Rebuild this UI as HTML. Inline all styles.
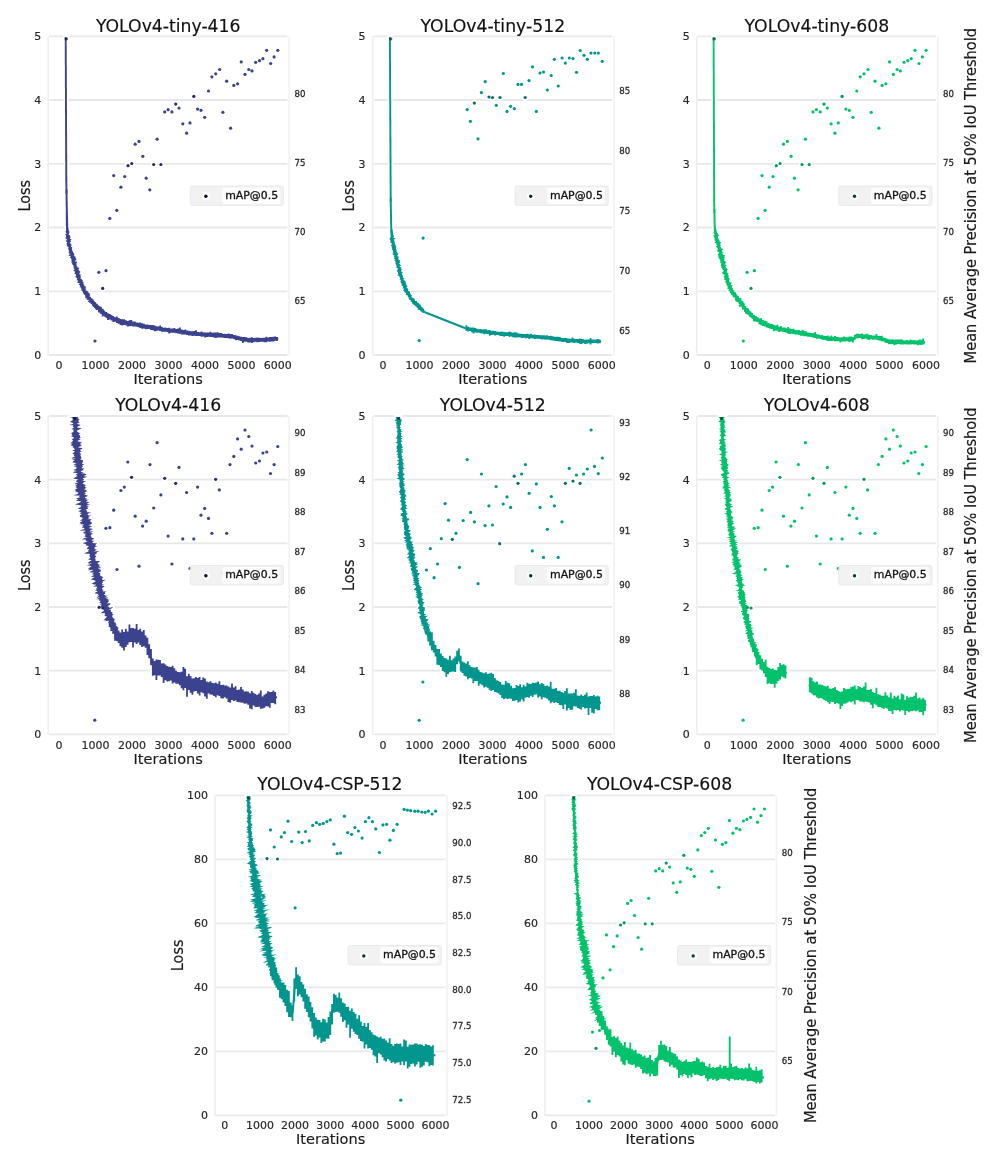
<!DOCTYPE html>
<html><head><meta charset="utf-8"><title>YOLOv4 training curves</title>
<style>html,body{margin:0;padding:0;background:#fff;} svg{display:block;}</style></head>
<body>
<svg width="1004" height="1163" viewBox="0 0 1004 1163">
<rect width="1004" height="1163" fill="#ffffff"/>
<g>
<line x1="49.2" y1="355.0" x2="287.4" y2="355.0" stroke="#e8e8e8" stroke-width="1.8"/>
<text transform="translate(41.2,358.8) scale(1.05,1)" font-size="10.5" text-anchor="end" fill="#262626" font-weight="normal" font-family="'DejaVu Sans', 'Liberation Sans', sans-serif" stroke="#262626" stroke-width="0.15">0</text>
<line x1="49.2" y1="291.3" x2="287.4" y2="291.3" stroke="#e8e8e8" stroke-width="1.8"/>
<text transform="translate(41.2,295.1) scale(1.05,1)" font-size="10.5" text-anchor="end" fill="#262626" font-weight="normal" font-family="'DejaVu Sans', 'Liberation Sans', sans-serif" stroke="#262626" stroke-width="0.15">1</text>
<line x1="49.2" y1="227.5" x2="287.4" y2="227.5" stroke="#e8e8e8" stroke-width="1.8"/>
<text transform="translate(41.2,231.3) scale(1.05,1)" font-size="10.5" text-anchor="end" fill="#262626" font-weight="normal" font-family="'DejaVu Sans', 'Liberation Sans', sans-serif" stroke="#262626" stroke-width="0.15">2</text>
<line x1="49.2" y1="163.8" x2="287.4" y2="163.8" stroke="#e8e8e8" stroke-width="1.8"/>
<text transform="translate(41.2,167.6) scale(1.05,1)" font-size="10.5" text-anchor="end" fill="#262626" font-weight="normal" font-family="'DejaVu Sans', 'Liberation Sans', sans-serif" stroke="#262626" stroke-width="0.15">3</text>
<line x1="49.2" y1="100.0" x2="287.4" y2="100.0" stroke="#e8e8e8" stroke-width="1.8"/>
<text transform="translate(41.2,103.8) scale(1.05,1)" font-size="10.5" text-anchor="end" fill="#262626" font-weight="normal" font-family="'DejaVu Sans', 'Liberation Sans', sans-serif" stroke="#262626" stroke-width="0.15">4</text>
<line x1="49.2" y1="36.3" x2="287.4" y2="36.3" stroke="#e8e8e8" stroke-width="1.8"/>
<text transform="translate(41.2,40.1) scale(1.05,1)" font-size="10.5" text-anchor="end" fill="#262626" font-weight="normal" font-family="'DejaVu Sans', 'Liberation Sans', sans-serif" stroke="#262626" stroke-width="0.15">5</text>
<line x1="48.2" y1="36.3" x2="48.2" y2="355.5" stroke="#eeeeee" stroke-width="1.6"/>
<line x1="289.2" y1="36.3" x2="289.2" y2="355.5" stroke="#f3f3f3" stroke-width="1.8"/>
<text transform="translate(59.0,369.2) scale(1.05,1)" font-size="10.5" text-anchor="middle" fill="#262626" font-weight="normal" font-family="'DejaVu Sans', 'Liberation Sans', sans-serif" stroke="#262626" stroke-width="0.15">0</text>
<text transform="translate(95.5,369.2) scale(1.05,1)" font-size="10.5" text-anchor="middle" fill="#262626" font-weight="normal" font-family="'DejaVu Sans', 'Liberation Sans', sans-serif" stroke="#262626" stroke-width="0.15">1000</text>
<text transform="translate(131.9,369.2) scale(1.05,1)" font-size="10.5" text-anchor="middle" fill="#262626" font-weight="normal" font-family="'DejaVu Sans', 'Liberation Sans', sans-serif" stroke="#262626" stroke-width="0.15">2000</text>
<text transform="translate(168.4,369.2) scale(1.05,1)" font-size="10.5" text-anchor="middle" fill="#262626" font-weight="normal" font-family="'DejaVu Sans', 'Liberation Sans', sans-serif" stroke="#262626" stroke-width="0.15">3000</text>
<text transform="translate(204.9,369.2) scale(1.05,1)" font-size="10.5" text-anchor="middle" fill="#262626" font-weight="normal" font-family="'DejaVu Sans', 'Liberation Sans', sans-serif" stroke="#262626" stroke-width="0.15">4000</text>
<text transform="translate(241.4,369.2) scale(1.05,1)" font-size="10.5" text-anchor="middle" fill="#262626" font-weight="normal" font-family="'DejaVu Sans', 'Liberation Sans', sans-serif" stroke="#262626" stroke-width="0.15">5000</text>
<text transform="translate(277.8,369.2) scale(1.05,1)" font-size="10.5" text-anchor="middle" fill="#262626" font-weight="normal" font-family="'DejaVu Sans', 'Liberation Sans', sans-serif" stroke="#262626" stroke-width="0.15">6000</text>
<text transform="translate(168.2,384.3) scale(1.01,1)" font-size="14.4" text-anchor="middle" fill="#1a1a1a" font-weight="normal" font-family="'DejaVu Sans', 'Liberation Sans', sans-serif" stroke="#1a1a1a" stroke-width="0.15">Iterations</text>
<text transform="translate(168.2,31.7) scale(1.015,1)" font-size="17.0" text-anchor="middle" fill="#111111" font-weight="normal" font-family="'DejaVu Sans', 'Liberation Sans', sans-serif" stroke="#111111" stroke-width="0.15">YOLOv4-tiny-416</text>
<text transform="translate(29.9,195.7) rotate(-90) scale(1,1.05)" font-size="14.4" text-anchor="middle" fill="#1a1a1a" font-family="'DejaVu Sans', 'Liberation Sans', sans-serif" stroke="#1a1a1a" stroke-width="0.15">Loss</text>
<text transform="translate(294.4,96.9) scale(0.9,1)" font-size="9.6" text-anchor="start" fill="#2a2a2a" font-weight="normal" font-family="'DejaVu Sans', 'Liberation Sans', sans-serif" stroke="#2a2a2a" stroke-width="0.3">80</text>
<text transform="translate(294.4,165.9) scale(0.9,1)" font-size="9.6" text-anchor="start" fill="#2a2a2a" font-weight="normal" font-family="'DejaVu Sans', 'Liberation Sans', sans-serif" stroke="#2a2a2a" stroke-width="0.3">75</text>
<text transform="translate(294.4,235.0) scale(0.9,1)" font-size="9.6" text-anchor="start" fill="#2a2a2a" font-weight="normal" font-family="'DejaVu Sans', 'Liberation Sans', sans-serif" stroke="#2a2a2a" stroke-width="0.3">70</text>
<text transform="translate(294.4,304.1) scale(0.9,1)" font-size="9.6" text-anchor="start" fill="#2a2a2a" font-weight="normal" font-family="'DejaVu Sans', 'Liberation Sans', sans-serif" stroke="#2a2a2a" stroke-width="0.3">65</text>
<clipPath id="c1"><rect x="48.2" y="37.2" width="240.0" height="317.8"/></clipPath>
<g clip-path="url(#c1)">
<circle cx="95.0" cy="341.0" r="3.2" fill="#fff"/>
<circle cx="98.8" cy="272.3" r="3.2" fill="#fff"/>
<circle cx="102.7" cy="288.4" r="3.2" fill="#fff"/>
<circle cx="106.0" cy="270.7" r="3.2" fill="#fff"/>
<circle cx="109.8" cy="218.4" r="3.2" fill="#fff"/>
<circle cx="113.7" cy="175.6" r="3.2" fill="#fff"/>
<circle cx="116.8" cy="210.3" r="3.2" fill="#fff"/>
<circle cx="120.9" cy="187.2" r="3.2" fill="#fff"/>
<circle cx="124.7" cy="176.6" r="3.2" fill="#fff"/>
<circle cx="128.0" cy="165.7" r="3.2" fill="#fff"/>
<circle cx="131.8" cy="163.5" r="3.2" fill="#fff"/>
<circle cx="135.2" cy="144.2" r="3.2" fill="#fff"/>
<circle cx="139.0" cy="141.4" r="3.2" fill="#fff"/>
<circle cx="142.8" cy="156.3" r="3.2" fill="#fff"/>
<circle cx="146.2" cy="178.2" r="3.2" fill="#fff"/>
<circle cx="149.8" cy="189.8" r="3.2" fill="#fff"/>
<circle cx="153.7" cy="164.5" r="3.2" fill="#fff"/>
<circle cx="157.1" cy="139.2" r="3.2" fill="#fff"/>
<circle cx="160.9" cy="164.5" r="3.2" fill="#fff"/>
<circle cx="164.7" cy="111.9" r="3.2" fill="#fff"/>
<circle cx="168.1" cy="109.7" r="3.2" fill="#fff"/>
<circle cx="171.9" cy="111.9" r="3.2" fill="#fff"/>
<circle cx="175.7" cy="104.1" r="3.2" fill="#fff"/>
<circle cx="179.0" cy="108.1" r="3.2" fill="#fff"/>
<circle cx="182.8" cy="123.8" r="3.2" fill="#fff"/>
<circle cx="186.6" cy="133.2" r="3.2" fill="#fff"/>
<circle cx="190.0" cy="122.9" r="3.2" fill="#fff"/>
<circle cx="193.8" cy="96.4" r="3.2" fill="#fff"/>
<circle cx="197.6" cy="109.1" r="3.2" fill="#fff"/>
<circle cx="201.0" cy="110.3" r="3.2" fill="#fff"/>
<circle cx="204.7" cy="117.3" r="3.2" fill="#fff"/>
<circle cx="208.5" cy="91.0" r="3.2" fill="#fff"/>
<circle cx="211.9" cy="76.8" r="3.2" fill="#fff"/>
<circle cx="215.7" cy="73.8" r="3.2" fill="#fff"/>
<circle cx="219.7" cy="69.5" r="3.2" fill="#fff"/>
<circle cx="222.9" cy="112.3" r="3.2" fill="#fff"/>
<circle cx="226.7" cy="81.2" r="3.2" fill="#fff"/>
<circle cx="230.6" cy="128.2" r="3.2" fill="#fff"/>
<circle cx="233.8" cy="85.4" r="3.2" fill="#fff"/>
<circle cx="237.6" cy="83.8" r="3.2" fill="#fff"/>
<circle cx="241.2" cy="61.9" r="3.2" fill="#fff"/>
<circle cx="245.0" cy="74.4" r="3.2" fill="#fff"/>
<circle cx="248.8" cy="69.5" r="3.2" fill="#fff"/>
<circle cx="252.0" cy="70.9" r="3.2" fill="#fff"/>
<circle cx="255.7" cy="62.3" r="3.2" fill="#fff"/>
<circle cx="259.5" cy="60.7" r="3.2" fill="#fff"/>
<circle cx="262.9" cy="58.7" r="3.2" fill="#fff"/>
<circle cx="266.7" cy="50.3" r="3.2" fill="#fff"/>
<circle cx="270.7" cy="63.5" r="3.2" fill="#fff"/>
<circle cx="274.1" cy="56.9" r="3.2" fill="#fff"/>
<circle cx="277.8" cy="50.3" r="3.2" fill="#fff"/>
<defs><g id="band1">
<polygon points="64.7,20.0 64.7,21.1 64.7,21.4 64.7,22.1 64.7,22.8 64.7,23.5 64.7,24.2 64.7,24.9 64.7,25.6 64.7,26.3 64.7,27.0 64.7,27.7 64.7,28.4 64.7,29.1 64.7,29.8 64.7,30.5 64.7,31.2 64.7,31.9 64.7,32.6 64.7,33.3 64.7,34.0 64.7,34.7 64.7,35.4 64.7,36.1 64.7,36.8 64.7,37.5 64.7,38.2 64.7,39.0 64.7,39.7 64.8,40.4 64.8,41.1 64.8,41.8 64.8,42.5 64.8,43.2 64.8,43.9 64.8,44.6 64.8,45.3 64.8,46.0 64.8,46.7 64.8,47.4 64.8,48.1 64.8,48.8 64.8,49.5 64.8,50.2 64.8,50.9 64.8,51.6 64.8,52.3 64.8,53.0 64.8,53.7 64.8,54.4 64.8,55.1 64.8,55.8 64.8,56.5 64.8,57.2 64.8,57.9 64.8,58.6 64.8,59.3 64.8,60.0 64.8,60.7 64.8,61.4 64.8,62.1 64.8,62.8 64.8,63.5 64.8,64.2 64.9,64.9 64.9,65.6 64.9,66.3 64.9,67.0 64.9,67.7 64.9,68.4 64.9,69.1 64.9,69.8 64.9,70.5 64.9,71.2 64.9,71.9 64.9,72.6 64.9,73.3 64.9,74.0 64.9,74.7 64.9,75.4 64.9,76.1 64.9,76.8 64.9,77.5 64.9,78.2 64.9,79.0 64.9,79.7 64.9,80.4 64.9,81.1 64.9,81.8 64.9,82.5 64.9,83.2 64.9,83.9 64.9,84.6 64.9,85.3 64.9,86.0 64.9,86.7 64.9,87.4 64.9,88.1 65.0,88.8 65.0,89.5 65.0,90.2 65.0,90.9 65.0,91.6 65.0,92.3 65.0,93.0 65.0,93.7 65.0,94.4 65.0,95.1 65.0,95.8 65.0,96.5 65.0,97.2 65.0,97.9 65.0,98.6 65.0,99.3 65.0,100.0 65.0,100.7 65.0,101.4 65.0,102.1 65.0,102.8 65.0,103.5 65.0,104.2 65.0,104.9 65.0,105.6 65.0,106.3 65.0,107.0 65.0,107.7 65.0,108.4 65.0,109.1 65.0,109.8 65.0,110.5 65.0,111.2 65.0,111.9 65.0,112.6 65.1,113.3 65.1,114.0 65.1,114.7 65.1,115.4 65.1,116.1 65.1,116.8 65.1,117.5 65.1,118.2 65.1,119.0 65.1,119.7 65.1,120.4 65.1,121.1 65.1,121.8 65.1,122.5 65.1,123.2 65.1,123.9 65.1,124.6 65.1,125.3 65.1,126.0 65.1,126.7 65.1,127.4 65.1,128.1 65.1,128.8 65.1,129.5 65.1,130.2 65.1,130.9 65.1,131.6 65.1,132.3 65.1,133.0 65.1,133.7 65.1,134.4 65.1,135.1 65.1,135.8 65.1,136.5 65.2,137.2 65.2,137.9 65.2,138.6 65.2,139.3 65.2,140.0 65.2,140.7 65.2,141.4 65.2,142.1 65.2,142.8 65.2,143.5 65.2,144.2 65.2,144.9 65.2,145.6 65.2,146.3 65.2,147.0 65.2,147.7 65.2,148.4 65.2,149.1 65.2,149.8 65.2,150.5 65.2,151.2 65.2,151.9 65.2,152.6 65.2,153.3 65.2,154.0 65.2,154.7 65.2,155.4 65.2,156.1 65.2,156.8 65.2,157.5 65.2,158.2 65.2,159.0 65.2,159.7 65.2,160.4 65.2,161.1 65.3,161.8 65.3,162.5 65.3,163.2 65.3,163.9 65.3,164.6 65.3,165.3 65.3,166.0 65.3,166.7 65.3,167.4 65.3,168.1 65.3,168.8 65.3,169.5 65.3,170.2 65.3,170.9 65.3,171.6 65.3,172.3 65.3,173.0 65.3,173.7 65.3,174.4 65.3,175.1 65.3,175.8 65.3,176.5 65.3,177.2 65.3,177.9 65.3,178.6 65.3,179.3 65.3,180.0 65.3,180.7 65.4,181.4 65.4,182.1 65.4,182.8 65.4,183.5 65.4,184.2 65.4,184.9 65.4,185.6 65.4,186.3 65.4,187.0 65.5,187.7 65.5,188.5 65.5,189.2 65.5,189.9 65.5,190.6 65.5,191.3 65.5,192.0 65.5,192.7 65.5,193.4 65.6,194.1 65.6,194.8 65.6,195.5 65.6,196.2 65.6,196.9 65.6,197.6 65.6,198.3 65.6,199.0 65.6,199.7 65.7,200.4 65.7,201.1 65.7,201.8 65.7,202.5 65.7,203.2 65.7,203.9 65.7,204.6 65.7,205.3 65.7,206.0 65.8,206.7 65.8,207.4 65.8,208.1 65.8,208.8 65.8,209.5 65.8,210.2 65.8,210.9 65.8,211.6 65.8,212.4 65.8,213.1 65.8,213.8 65.8,214.5 65.8,215.2 65.8,215.9 65.8,216.6 65.8,217.3 65.8,218.0 65.8,218.7 65.8,219.4 65.8,220.1 65.8,220.8 65.8,221.5 65.9,222.2 65.9,222.9 65.8,223.6 65.8,224.3 65.9,225.0 65.9,225.7 65.9,226.4 66.1,227.1 65.9,227.9 66.1,228.6 66.0,229.4 65.9,230.1 66.2,230.8 65.4,231.6 65.9,232.3 66.0,233.0 66.7,233.7 64.9,234.6 66.1,235.2 66.0,235.9 66.2,236.6 65.7,237.4 65.2,238.2 66.5,238.8 66.8,239.5 66.6,240.3 65.4,241.1 66.7,241.7 67.7,242.4 66.2,243.4 67.1,244.0 66.6,244.9 66.9,245.7 67.3,246.3 68.0,246.9 68.8,247.5 68.2,248.4 68.0,249.2 68.9,249.7 68.7,250.5 69.5,251.0 68.2,252.2 69.1,252.7 69.0,253.4 70.5,253.8 68.3,255.2 68.9,255.7 71.1,255.9 70.3,256.8 69.7,257.7 70.8,258.1 71.2,258.8 71.5,259.4 71.8,260.1 71.0,261.0 71.9,261.5 71.0,262.5 72.5,262.8 71.7,263.8 72.4,264.3 72.8,264.9 73.7,265.4 73.1,266.3 74.1,266.8 73.5,267.7 73.7,268.4 74.7,268.8 74.5,269.7 73.0,271.0 74.6,271.2 75.2,271.8 74.7,272.8 74.4,273.7 75.5,274.1 76.0,274.7 76.2,275.4 75.4,276.5 75.4,277.3 76.3,277.7 77.5,278.1 76.8,279.1 76.9,279.9 77.6,280.5 78.1,281.1 77.5,282.1 77.6,282.9 79.5,282.9 79.7,283.6 78.5,284.9 79.9,285.1 79.7,286.0 80.0,286.6 80.7,287.1 80.5,287.9 81.5,288.3 81.1,289.3 82.1,289.6 81.2,290.8 82.6,291.0 82.5,291.9 83.0,292.5 83.3,293.2 83.7,293.9 84.2,294.5 84.8,295.0 85.7,295.2 85.2,296.4 86.3,296.5 86.0,297.6 85.4,298.8 87.4,298.3 86.4,299.8 88.0,299.7 89.0,299.9 87.9,301.5 88.8,301.9 89.1,302.7 90.5,302.5 90.6,303.4 90.9,304.1 91.9,304.2 92.2,304.9 92.5,305.6 93.2,305.9 93.0,307.1 94.1,307.0 94.3,307.8 94.9,308.2 95.2,308.9 95.7,309.4 96.3,309.8 97.1,310.1 98.1,310.1 98.1,311.1 98.3,312.0 98.7,312.7 99.7,312.6 100.5,312.8 100.5,313.9 101.6,313.7 101.9,314.4 101.9,315.5 101.7,317.0 103.9,315.6 104.2,316.5 105.3,316.3 105.8,316.9 106.1,317.9 107.4,317.1 107.8,317.9 108.4,318.2 109.0,318.5 110.0,318.1 110.4,319.0 111.1,319.2 111.5,319.9 112.4,319.6 113.0,320.2 113.7,320.3 114.3,321.0 115.1,320.9 115.8,321.1 116.6,321.1 117.2,321.3 117.9,321.7 118.6,321.8 119.3,322.0 120.0,322.2 120.6,322.4 121.3,322.6 122.0,322.8 122.7,323.0 123.3,323.3 124.0,323.6 124.7,323.7 125.3,323.9 126.1,324.2 126.8,324.3 127.6,324.4 128.4,324.5 129.1,324.6 129.9,324.6 130.5,324.7 131.2,324.7 131.9,325.0 132.6,325.1 133.3,325.2 134.0,325.2 134.7,325.5 135.4,325.6 136.1,325.8 136.8,325.8 137.5,326.0 138.2,326.2 138.9,326.4 139.6,326.5 140.3,326.6 141.0,326.7 141.7,326.8 142.4,327.1 143.1,327.2 143.8,327.4 144.6,327.4 145.3,327.6 146.0,327.8 146.7,327.9 147.4,327.9 148.1,328.2 148.8,328.2 149.5,328.3 150.3,328.3 151.0,328.6 151.7,328.7 152.4,328.8 153.1,328.8 153.8,329.2 154.5,329.2 155.2,329.3 155.9,329.4 156.6,329.5 157.3,329.7 158.0,329.8 158.7,330.1 159.4,330.1 160.2,330.2 160.9,330.3 161.6,330.5 162.3,330.5 163.0,330.8 163.7,330.8 164.4,331.0 165.2,330.9 165.9,331.0 166.6,331.2 167.3,331.3 168.0,331.4 168.7,331.5 169.4,331.4 170.1,331.6 170.8,331.8 171.5,331.8 172.2,331.9 172.9,331.9 173.6,332.0 174.3,332.2 175.0,332.3 175.7,332.3 176.4,332.5 177.1,332.5 177.8,332.6 178.5,332.7 179.2,332.9 179.9,332.9 180.6,333.0 181.3,333.2 182.0,333.3 182.8,333.2 183.5,333.3 184.2,333.4 184.9,333.4 185.6,333.6 186.3,333.8 187.0,333.8 187.7,333.9 188.4,334.1 189.1,334.2 189.8,334.2 190.5,334.4 191.2,334.3 191.9,334.4 192.6,334.6 193.3,334.7 194.0,334.8 194.7,334.8 195.4,334.9 196.1,335.0 196.9,335.1 197.6,335.1 198.3,335.3 199.0,335.3 199.7,335.4 200.5,335.3 201.2,335.4 201.9,335.5 202.6,335.6 203.3,335.6 204.0,335.8 204.7,335.7 205.4,335.6 206.1,335.9 206.8,335.9 207.5,335.9 208.2,335.9 209.0,335.9 209.7,336.1 210.4,336.1 211.1,336.2 211.8,336.1 212.5,336.2 213.2,336.3 213.9,336.3 214.6,336.4 215.3,336.6 216.0,336.6 216.7,336.5 217.4,336.7 218.1,336.6 218.8,336.7 219.5,336.7 220.2,336.9 221.0,336.8 221.7,336.9 222.4,336.9 223.1,337.0 223.8,337.0 224.5,337.1 225.2,337.2 225.9,337.2 226.6,337.3 227.3,337.2 228.0,337.4 228.7,337.3 229.4,337.4 230.1,337.5 230.7,337.6 231.4,337.6 232.1,337.8 232.7,338.0 233.4,338.1 234.2,338.2 234.8,338.5 235.5,338.8 236.3,338.8 237.0,339.0 237.7,339.2 238.4,339.4 239.2,339.5 239.9,339.8 240.6,339.9 241.3,340.0 242.0,340.2 242.7,340.3 243.4,340.3 244.1,340.3 244.8,340.5 245.5,340.6 246.2,340.7 247.0,340.8 247.7,340.9 248.4,341.1 249.2,341.0 249.9,341.0 250.6,341.1 251.3,340.9 252.0,340.9 252.8,341.1 253.5,341.0 254.2,341.0 254.9,341.1 255.6,341.0 256.3,341.0 257.0,341.1 257.7,341.0 258.4,341.0 259.1,341.0 259.8,341.1 260.5,341.0 261.2,341.1 262.0,341.1 262.7,340.9 263.4,341.0 264.1,341.0 264.8,341.0 265.6,340.9 266.3,340.9 267.1,340.9 267.8,340.8 268.5,340.6 269.2,340.4 270.0,340.4 270.7,340.3 271.4,340.4 272.1,340.3 272.9,340.1 273.5,340.0 274.2,339.9 274.9,339.9 275.6,339.9 276.3,340.1 276.6,340.1 277.9,340.6 278.5,338.3 277.2,337.7 276.7,337.7 275.8,337.6 274.9,337.5 274.1,337.5 273.3,337.6 272.6,337.7 271.8,337.8 271.1,337.9 270.4,337.9 269.7,338.2 269.0,338.3 268.2,338.2 267.5,338.3 266.8,338.4 266.1,338.5 265.4,338.7 264.8,338.6 264.1,338.6 263.4,338.6 262.7,338.5 262.0,338.6 261.2,338.5 260.5,338.6 259.8,338.7 259.1,338.6 258.4,338.6 257.7,338.6 257.0,338.6 256.3,338.5 255.6,338.7 254.9,338.6 254.2,338.7 253.5,338.6 252.8,338.6 252.0,338.7 251.3,338.6 250.6,338.7 249.9,338.6 249.3,338.5 248.6,338.6 247.9,338.5 247.2,338.4 246.6,338.2 245.9,338.2 245.2,338.1 244.5,338.1 243.8,337.9 243.1,337.7 242.4,337.7 241.7,337.6 241.0,337.4 240.3,337.4 239.6,337.3 239.0,337.1 238.3,336.9 237.6,336.7 236.9,336.5 236.1,336.4 235.4,336.2 234.7,335.9 234.0,335.9 233.3,335.7 232.6,335.3 231.8,335.3 231.0,335.2 230.3,335.0 229.6,335.0 228.9,335.0 228.2,334.8 227.5,334.9 226.8,334.8 226.0,334.8 225.3,334.8 224.6,334.7 223.9,334.6 223.2,334.7 222.5,334.6 221.8,334.4 221.1,334.6 220.4,334.4 219.7,334.3 219.0,334.3 218.3,334.3 217.6,334.2 216.9,334.2 216.2,334.3 215.5,334.2 214.8,333.9 214.1,334.0 213.4,333.8 212.7,333.9 212.0,333.7 211.2,333.8 210.5,333.6 209.8,333.5 209.1,333.6 208.4,333.5 207.7,333.6 207.0,333.5 206.3,333.5 205.6,333.4 204.9,333.3 204.2,333.3 203.5,333.2 202.7,333.2 202.0,333.1 201.3,333.1 200.6,333.0 199.9,333.0 199.2,332.9 198.5,332.8 197.8,332.8 197.1,332.7 196.4,332.6 195.7,332.5 195.0,332.4 194.3,332.3 193.6,332.3 192.9,332.2 192.2,332.1 191.5,331.9 190.8,331.8 190.1,331.8 189.4,331.8 188.7,331.7 188.0,331.5 187.3,331.4 186.6,331.4 185.9,331.3 185.2,331.2 184.5,331.0 183.8,331.0 183.1,330.8 182.4,330.8 181.7,330.7 181.0,330.6 180.2,330.6 179.5,330.4 178.8,330.4 178.1,330.2 177.4,330.2 176.7,330.1 176.0,330.0 175.3,329.8 174.6,329.7 173.9,329.7 173.2,329.5 172.5,329.5 171.8,329.4 171.1,329.5 170.4,329.2 169.7,329.2 169.0,329.1 168.3,329.0 167.6,328.8 166.8,328.9 166.2,328.8 165.5,328.6 164.8,328.6 164.1,328.4 163.4,328.3 162.7,328.2 162.0,328.0 161.3,327.9 160.6,327.9 159.9,327.7 159.1,327.6 158.4,327.5 157.7,327.3 157.0,327.3 156.3,327.2 155.6,326.9 154.9,326.8 154.2,326.8 153.5,326.7 152.8,326.4 152.1,326.3 151.4,326.2 150.6,326.1 149.9,326.0 149.2,325.9 148.5,325.7 147.8,325.5 147.1,325.6 146.4,325.3 145.7,325.2 145.0,325.2 144.3,325.0 143.6,324.8 142.9,324.6 142.2,324.6 141.5,324.4 140.8,324.3 140.1,324.2 139.4,324.0 138.7,323.9 138.0,323.7 137.3,323.5 136.6,323.3 135.9,323.2 135.2,323.1 134.5,323.0 133.8,322.8 133.1,322.6 132.3,322.5 131.6,322.4 130.8,322.3 130.1,322.3 129.3,322.1 128.6,322.2 127.9,322.1 127.3,322.0 126.6,321.9 126.0,321.5 125.4,321.3 124.7,321.3 124.0,321.0 123.4,320.7 122.7,320.6 122.0,320.3 121.3,320.2 120.7,319.8 120.0,319.7 119.3,319.6 118.6,319.4 118.0,319.0 117.3,318.8 116.6,318.7 115.9,318.7 115.4,318.0 114.8,317.9 114.2,317.6 113.9,316.6 113.2,316.6 112.7,315.9 111.8,316.2 111.1,315.8 110.8,314.8 109.8,315.4 109.3,314.7 108.5,314.9 107.8,314.7 107.9,313.0 107.4,312.7 106.7,312.8 106.2,312.4 105.6,312.3 104.9,312.0 105.1,310.8 104.2,310.7 104.1,309.7 103.3,309.5 101.8,310.2 101.4,309.6 102.1,307.8 101.4,307.6 101.1,306.8 100.1,307.0 99.1,307.0 98.3,306.8 99.2,304.9 97.5,305.6 97.6,304.5 97.4,303.7 96.4,303.7 95.9,303.2 95.9,302.2 95.0,302.1 94.5,301.6 94.0,301.1 93.8,300.4 93.2,300.1 93.7,298.9 91.8,299.6 92.2,298.5 90.7,298.7 91.2,297.5 90.8,296.9 89.5,297.0 89.7,296.0 90.5,294.6 89.2,294.6 89.8,293.3 89.1,293.0 87.6,293.1 88.2,291.9 88.2,291.1 86.0,291.7 85.7,291.1 85.4,290.5 85.3,289.8 86.5,288.5 84.5,288.6 86.4,287.0 85.6,286.6 84.3,286.3 84.3,285.6 84.4,284.7 83.0,284.5 83.4,283.6 83.6,282.7 83.4,282.0 82.6,281.6 82.6,280.8 82.6,280.1 81.3,279.8 81.4,279.0 80.4,278.6 80.6,277.8 81.3,276.7 80.4,276.3 80.5,275.4 80.9,274.5 79.4,274.3 79.2,273.5 80.2,272.4 80.4,271.5 79.4,271.1 79.0,270.5 78.6,269.8 78.5,269.1 79.2,268.2 79.2,267.5 77.1,267.4 77.7,266.5 76.1,266.2 76.7,265.3 76.6,264.6 75.9,264.1 77.0,263.0 77.0,262.3 76.9,261.6 74.8,261.4 75.5,260.5 76.6,259.5 76.4,258.8 75.6,258.3 75.5,257.6 75.5,256.8 74.9,256.3 73.5,255.9 74.6,254.9 74.1,254.3 74.0,253.6 73.7,252.9 73.0,252.3 72.1,251.8 71.8,251.1 72.5,250.2 72.2,249.5 72.0,248.8 71.8,248.1 72.5,247.1 70.7,246.9 70.6,246.2 71.9,245.1 71.4,244.5 70.9,243.9 70.5,243.4 70.1,242.8 70.2,242.0 71.4,241.2 70.2,240.6 71.8,239.7 70.5,239.1 69.7,238.5 70.5,237.7 70.2,237.0 70.3,236.2 70.2,235.5 68.8,234.9 68.7,234.2 69.1,233.4 69.1,232.7 69.7,231.9 69.1,231.3 69.0,230.5 68.4,229.9 68.8,229.1 68.4,228.4 68.3,227.7 68.3,227.1 68.3,226.4 68.1,225.7 68.3,225.0 68.2,224.3 68.2,223.6 68.2,222.9 68.1,222.2 68.1,221.5 68.1,220.8 68.1,220.0 68.1,219.3 68.1,218.6 68.0,217.9 68.0,217.2 68.0,216.5 68.0,215.8 68.0,215.1 67.9,214.4 67.9,213.7 67.9,213.0 67.9,212.3 67.9,211.6 67.8,210.9 67.8,210.2 67.8,209.5 67.8,208.8 67.8,208.1 67.8,207.4 67.7,206.7 67.7,206.0 67.7,205.3 67.7,204.6 67.7,203.9 67.7,203.2 67.7,202.5 67.7,201.8 67.6,201.1 67.6,200.4 67.6,199.7 67.6,199.0 67.6,198.3 67.6,197.6 67.6,196.9 67.6,196.2 67.5,195.4 67.5,194.7 67.5,194.0 67.5,193.3 67.5,192.6 67.5,191.9 67.5,191.2 67.5,190.5 67.4,189.8 67.4,189.1 67.4,188.4 67.4,187.7 67.4,187.0 67.4,186.3 67.4,185.6 67.4,184.9 67.3,184.2 67.3,183.5 67.3,182.8 67.3,182.1 67.3,181.4 67.3,180.7 67.3,180.0 67.3,179.3 67.3,178.6 67.3,177.9 67.3,177.2 67.3,176.5 67.3,175.8 67.2,175.1 67.2,174.4 67.2,173.7 67.2,173.0 67.2,172.3 67.2,171.6 67.2,170.9 67.2,170.2 67.2,169.5 67.2,168.8 67.2,168.1 67.2,167.4 67.2,166.7 67.2,166.0 67.2,165.3 67.2,164.6 67.2,163.9 67.2,163.2 67.2,162.5 67.2,161.8 67.2,161.0 67.2,160.3 67.2,159.6 67.2,158.9 67.2,158.2 67.2,157.5 67.2,156.8 67.2,156.1 67.2,155.4 67.2,154.7 67.2,154.0 67.1,153.3 67.1,152.6 67.1,151.9 67.1,151.2 67.1,150.5 67.1,149.8 67.1,149.1 67.1,148.4 67.1,147.7 67.1,147.0 67.1,146.3 67.1,145.6 67.1,144.9 67.1,144.2 67.1,143.5 67.1,142.8 67.1,142.1 67.1,141.4 67.1,140.7 67.1,140.0 67.1,139.3 67.1,138.6 67.1,137.9 67.1,137.2 67.1,136.5 67.1,135.8 67.1,135.1 67.1,134.4 67.1,133.7 67.1,133.0 67.1,132.3 67.0,131.6 67.0,130.9 67.0,130.2 67.0,129.5 67.0,128.8 67.0,128.1 67.0,127.4 67.0,126.7 67.0,126.0 67.0,125.3 67.0,124.6 67.0,123.9 67.0,123.2 67.0,122.5 67.0,121.8 67.0,121.0 67.0,120.3 67.0,119.6 67.0,118.9 67.0,118.2 67.0,117.5 67.0,116.8 67.0,116.1 67.0,115.4 67.0,114.7 67.0,114.0 67.0,113.3 67.0,112.6 67.0,111.9 67.0,111.2 67.0,110.5 66.9,109.8 66.9,109.1 66.9,108.4 66.9,107.7 66.9,107.0 66.9,106.3 66.9,105.6 66.9,104.9 66.9,104.2 66.9,103.5 66.9,102.8 66.9,102.1 66.9,101.4 66.9,100.7 66.9,100.0 66.9,99.3 66.9,98.6 66.9,97.9 66.9,97.2 66.9,96.5 66.9,95.8 66.9,95.1 66.9,94.4 66.9,93.7 66.9,93.0 66.9,92.3 66.9,91.6 66.9,90.9 66.9,90.2 66.9,89.5 66.9,88.8 66.8,88.1 66.8,87.4 66.8,86.7 66.8,86.0 66.8,85.3 66.8,84.6 66.8,83.9 66.8,83.2 66.8,82.5 66.8,81.8 66.8,81.0 66.8,80.3 66.8,79.6 66.8,78.9 66.8,78.2 66.8,77.5 66.8,76.8 66.8,76.1 66.8,75.4 66.8,74.7 66.8,74.0 66.8,73.3 66.8,72.6 66.8,71.9 66.8,71.2 66.8,70.5 66.8,69.8 66.8,69.1 66.8,68.4 66.8,67.7 66.8,67.0 66.7,66.3 66.7,65.6 66.7,64.9 66.7,64.2 66.7,63.5 66.7,62.8 66.7,62.1 66.7,61.4 66.7,60.7 66.7,60.0 66.7,59.3 66.7,58.6 66.7,57.9 66.7,57.2 66.7,56.5 66.7,55.8 66.7,55.1 66.7,54.4 66.7,53.7 66.7,53.0 66.7,52.3 66.7,51.6 66.7,50.9 66.7,50.2 66.7,49.5 66.7,48.8 66.7,48.1 66.7,47.4 66.7,46.7 66.7,46.0 66.6,45.3 66.6,44.6 66.6,43.9 66.6,43.2 66.6,42.5 66.6,41.8 66.6,41.0 66.6,40.3 66.6,39.6 66.6,38.9 66.6,38.2 66.6,37.5 66.6,36.8 66.6,36.1 66.6,35.4 66.6,34.7 66.6,34.0 66.6,33.3 66.6,32.6 66.6,31.9 66.6,31.2 66.6,30.5 66.6,29.8 66.6,29.1 66.6,28.4 66.6,27.7 66.6,27.0 66.6,26.3 66.6,25.6 66.6,24.9 66.6,24.2 66.5,23.5 66.5,22.8 66.5,22.1 66.5,21.4 66.5,21.0 66.5,20.0"/>
<polygon points="65.6,189.6 67.4,189.6 67.4,237.3 69.2,237.3 69.2,245.9 71.0,245.9 71.0,251.0 72.8,251.0 72.8,258.6 74.6,258.6 74.6,264.4 76.4,264.4 76.4,270.8 78.2,270.8 78.2,275.3 80.0,275.3 80.0,279.3 81.8,279.3 81.8,284.1 83.6,284.1 83.6,288.5 85.4,288.5 85.4,290.6 87.2,290.6 87.2,292.5 89.0,292.5 89.0,296.7 90.8,296.7 90.8,298.5 92.6,298.5 92.6,300.9 94.4,300.9 94.4,302.9 96.2,302.9 96.2,304.5 98.0,304.5 98.0,306.0 99.8,306.0 99.8,306.8 101.6,306.8 101.6,308.8 103.4,308.8 103.4,311.1 105.2,311.1 105.2,311.9 107.0,311.9 107.0,313.3 108.8,313.3 108.8,314.1 110.6,314.1 110.6,314.9 112.4,314.9 112.4,316.3 114.2,316.3 114.2,317.3 116.0,317.3 116.0,316.5 117.8,316.5 117.8,318.0 119.6,318.0 119.6,318.9 121.4,318.9 121.4,319.2 123.2,319.2 123.2,319.2 125.0,319.2 125.0,320.2 126.8,320.2 126.8,321.0 128.6,321.0 128.6,320.3 130.4,320.3 130.4,320.1 132.2,320.1 132.2,321.4 134.0,321.4 134.0,321.5 135.8,321.5 135.8,322.5 137.6,322.5 137.6,322.8 139.4,322.8 139.4,322.4 141.2,322.4 141.2,323.3 143.0,323.3 143.0,323.7 144.8,323.7 144.8,324.4 146.6,324.4 146.6,324.4 148.4,324.4 148.4,325.1 150.2,325.1 150.2,325.1 152.0,325.1 152.0,325.1 153.8,325.1 153.8,325.4 155.6,325.4 155.6,326.3 157.4,326.3 157.4,326.6 159.2,326.6 159.2,325.5 161.0,325.5 161.0,326.8 162.8,326.8 162.8,327.7 164.6,327.7 164.6,327.6 166.4,327.6 166.4,328.1 168.2,328.1 168.2,327.8 170.0,327.8 170.0,328.6 171.8,328.6 171.8,328.6 173.6,328.6 173.6,327.9 175.4,327.9 175.4,328.9 177.2,328.9 177.2,328.5 179.0,328.5 179.0,327.6 180.8,327.6 180.8,329.5 182.6,329.5 182.6,330.0 184.4,330.0 184.4,329.5 186.2,329.5 186.2,330.6 188.0,330.6 188.0,330.8 189.8,330.8 189.8,331.2 191.6,331.2 191.6,331.2 193.4,331.2 193.4,330.9 195.2,330.9 195.2,330.2 197.0,330.2 197.0,331.9 198.8,331.9 198.8,332.2 200.6,332.2 200.6,331.5 202.4,331.5 202.4,332.3 204.2,332.3 204.2,332.5 206.0,332.5 206.0,332.5 207.8,332.5 207.8,332.6 209.6,332.6 209.6,331.8 211.4,331.8 211.4,332.8 213.2,332.8 213.2,332.6 215.0,332.6 215.0,332.4 216.8,332.4 216.8,332.3 218.6,332.3 218.6,333.0 220.4,333.0 220.4,332.9 222.2,332.9 222.2,333.9 224.0,333.9 224.0,333.7 225.8,333.7 225.8,333.9 227.6,333.9 227.6,333.6 229.4,333.6 229.4,333.9 231.2,333.9 231.2,334.1 233.0,334.1 233.0,335.0 234.8,335.0 234.8,335.2 236.6,335.2 236.6,335.7 238.4,335.7 238.4,336.2 240.2,336.2 240.2,336.7 242.0,336.7 242.0,337.1 243.8,337.1 243.8,337.1 245.6,337.1 245.6,337.2 247.4,337.2 247.4,337.9 249.2,337.9 249.2,337.8 251.0,337.8 251.0,337.3 252.8,337.3 252.8,337.9 254.6,337.9 254.6,337.7 256.4,337.7 256.4,337.4 258.2,337.4 258.2,337.7 260.0,337.7 260.0,337.9 261.8,337.9 261.8,337.8 263.6,337.8 263.6,337.7 265.4,337.7 265.4,336.8 267.2,336.8 267.2,337.4 269.0,337.4 269.0,336.9 270.8,336.9 270.8,337.1 272.6,337.1 272.6,336.8 274.4,336.8 274.4,336.6 276.2,336.6 276.2,336.9 278.0,336.9 278.0,341.0 276.2,341.0 276.2,340.7 274.4,340.7 274.4,341.4 272.6,341.4 272.6,341.6 270.8,341.6 270.8,341.8 269.0,341.8 269.0,341.6 267.2,341.6 267.2,342.2 265.4,342.2 265.4,342.2 263.6,342.2 263.6,341.7 261.8,341.7 261.8,341.7 260.0,341.7 260.0,341.9 258.2,341.9 258.2,342.2 256.4,342.2 256.4,341.7 254.6,341.7 254.6,342.3 252.8,342.3 252.8,342.9 251.0,342.9 251.0,342.4 249.2,342.4 249.2,342.4 247.4,342.4 247.4,341.7 245.6,341.7 245.6,341.7 243.8,341.7 243.8,343.0 242.0,343.0 242.0,341.0 240.2,341.0 240.2,340.5 238.4,340.5 238.4,339.9 236.6,339.9 236.6,340.2 234.8,340.2 234.8,338.9 233.0,338.9 233.0,338.6 231.2,338.6 231.2,338.8 229.4,338.8 229.4,338.2 227.6,338.2 227.6,337.9 225.8,337.9 225.8,338.1 224.0,338.1 224.0,337.8 222.2,337.8 222.2,337.6 220.4,337.6 220.4,337.4 218.6,337.4 218.6,337.5 216.8,337.5 216.8,337.9 215.0,337.9 215.0,337.5 213.2,337.5 213.2,337.0 211.4,337.0 211.4,337.0 209.6,337.0 209.6,336.7 207.8,336.7 207.8,336.9 206.0,336.9 206.0,337.4 204.2,337.4 204.2,336.6 202.4,336.6 202.4,336.7 200.6,336.7 200.6,336.1 198.8,336.1 198.8,336.1 197.0,336.1 197.0,336.1 195.2,336.1 195.2,335.7 193.4,335.7 193.4,335.9 191.6,335.9 191.6,335.6 189.8,335.6 189.8,335.4 188.0,335.4 188.0,335.1 186.2,335.1 186.2,334.4 184.4,334.4 184.4,334.5 182.6,334.5 182.6,334.4 180.8,334.4 180.8,333.8 179.0,333.8 179.0,333.5 177.2,333.5 177.2,333.2 175.4,333.2 175.4,332.8 173.6,332.8 173.6,332.8 171.8,332.8 171.8,332.7 170.0,332.7 170.0,333.4 168.2,333.4 168.2,332.1 166.4,332.1 166.4,331.8 164.6,331.8 164.6,331.7 162.8,331.7 162.8,331.8 161.0,331.8 161.0,330.9 159.2,330.9 159.2,330.6 157.4,330.6 157.4,330.9 155.6,330.9 155.6,331.3 153.8,331.3 153.8,330.3 152.0,330.3 152.0,330.1 150.2,330.1 150.2,329.1 148.4,329.1 148.4,328.9 146.6,328.9 146.6,329.3 144.8,329.3 144.8,328.5 143.0,328.5 143.0,328.7 141.2,328.7 141.2,328.0 139.4,328.0 139.4,327.3 137.6,327.3 137.6,326.7 135.8,326.7 135.8,326.5 134.0,326.5 134.0,326.5 132.2,326.5 132.2,326.1 130.4,326.1 130.4,326.2 128.6,326.2 128.6,326.4 126.8,326.4 126.8,325.2 125.0,325.2 125.0,325.0 123.2,325.0 123.2,325.5 121.4,325.5 121.4,324.9 119.6,324.9 119.6,323.7 117.8,323.7 117.8,322.9 116.0,322.9 116.0,321.7 114.2,321.7 114.2,322.0 112.4,322.0 112.4,320.4 110.6,320.4 110.6,319.4 108.8,319.4 108.8,319.9 107.0,319.9 107.0,317.6 105.2,317.6 105.2,316.3 103.4,316.3 103.4,314.4 101.6,314.4 101.6,313.5 99.8,313.5 99.8,311.6 98.0,311.6 98.0,310.1 96.2,310.1 96.2,307.9 94.4,307.9 94.4,306.5 92.6,306.5 92.6,304.1 90.8,304.1 90.8,301.8 89.0,301.8 89.0,299.4 87.2,299.4 87.2,298.1 85.4,298.1 85.4,293.6 83.6,293.6 83.6,290.1 81.8,290.1 81.8,285.7 80.0,285.7 80.0,281.3 78.2,281.3 78.2,276.2 76.4,276.2 76.4,270.7 74.6,270.7 74.6,263.5 72.8,263.5 72.8,257.5 71.0,257.5 71.0,251.2 69.2,251.2 69.2,243.3 67.4,243.3 67.4,193.8 65.6,193.8"/>
</g></defs>
</g>
<clipPath id="h1"><rect x="48.2" y="33.8" width="240.0" height="321.2"/></clipPath>
<use href="#band1" fill="#fff" stroke="#fff" stroke-width="3.2" stroke-linejoin="round" clip-path="url(#h1)"/>
<g clip-path="url(#c1)">
<use href="#band1" fill="#3c438e"/>
<rect x="64.7" y="37.2" width="3.2" height="3.2" rx="1.3" fill="#0d0d26" opacity="0.75"/>
<circle cx="95.0" cy="341.0" r="1.6" fill="#3c438e"/>
<circle cx="98.8" cy="272.3" r="1.6" fill="#3c438e"/>
<circle cx="102.7" cy="288.4" r="1.6" fill="#262a6a"/>
<circle cx="106.0" cy="270.7" r="1.6" fill="#3c438e"/>
<circle cx="109.8" cy="218.4" r="1.6" fill="#3c438e"/>
<circle cx="113.7" cy="175.6" r="1.6" fill="#3c438e"/>
<circle cx="116.8" cy="210.3" r="1.6" fill="#3c438e"/>
<circle cx="120.9" cy="187.2" r="1.6" fill="#3c438e"/>
<circle cx="124.7" cy="176.6" r="1.6" fill="#3c438e"/>
<circle cx="128.0" cy="165.7" r="1.6" fill="#262a6a"/>
<circle cx="131.8" cy="163.5" r="1.6" fill="#262a6a"/>
<circle cx="135.2" cy="144.2" r="1.6" fill="#3c438e"/>
<circle cx="139.0" cy="141.4" r="1.6" fill="#3c438e"/>
<circle cx="142.8" cy="156.3" r="1.6" fill="#3c438e"/>
<circle cx="146.2" cy="178.2" r="1.6" fill="#3c438e"/>
<circle cx="149.8" cy="189.8" r="1.6" fill="#3c438e"/>
<circle cx="153.7" cy="164.5" r="1.6" fill="#262a6a"/>
<circle cx="157.1" cy="139.2" r="1.6" fill="#3c438e"/>
<circle cx="160.9" cy="164.5" r="1.6" fill="#262a6a"/>
<circle cx="164.7" cy="111.9" r="1.6" fill="#3c438e"/>
<circle cx="168.1" cy="109.7" r="1.6" fill="#3c438e"/>
<circle cx="171.9" cy="111.9" r="1.6" fill="#3c438e"/>
<circle cx="175.7" cy="104.1" r="1.6" fill="#262a6a"/>
<circle cx="179.0" cy="108.1" r="1.6" fill="#3c438e"/>
<circle cx="182.8" cy="123.8" r="1.6" fill="#3c438e"/>
<circle cx="186.6" cy="133.2" r="1.6" fill="#3c438e"/>
<circle cx="190.0" cy="122.9" r="1.6" fill="#3c438e"/>
<circle cx="193.8" cy="96.4" r="1.6" fill="#262a6a"/>
<circle cx="197.6" cy="109.1" r="1.6" fill="#3c438e"/>
<circle cx="201.0" cy="110.3" r="1.6" fill="#3c438e"/>
<circle cx="204.7" cy="117.3" r="1.6" fill="#3c438e"/>
<circle cx="208.5" cy="91.0" r="1.6" fill="#3c438e"/>
<circle cx="211.9" cy="76.8" r="1.6" fill="#3c438e"/>
<circle cx="215.7" cy="73.8" r="1.6" fill="#3c438e"/>
<circle cx="219.7" cy="69.5" r="1.6" fill="#3c438e"/>
<circle cx="222.9" cy="112.3" r="1.6" fill="#3c438e"/>
<circle cx="226.7" cy="81.2" r="1.6" fill="#3c438e"/>
<circle cx="230.6" cy="128.2" r="1.6" fill="#3c438e"/>
<circle cx="233.8" cy="85.4" r="1.6" fill="#3c438e"/>
<circle cx="237.6" cy="83.8" r="1.6" fill="#3c438e"/>
<circle cx="241.2" cy="61.9" r="1.6" fill="#3c438e"/>
<circle cx="245.0" cy="74.4" r="1.6" fill="#3c438e"/>
<circle cx="248.8" cy="69.5" r="1.6" fill="#3c438e"/>
<circle cx="252.0" cy="70.9" r="1.6" fill="#3c438e"/>
<circle cx="255.7" cy="62.3" r="1.6" fill="#3c438e"/>
<circle cx="259.5" cy="60.7" r="1.6" fill="#3c438e"/>
<circle cx="262.9" cy="58.7" r="1.6" fill="#3c438e"/>
<circle cx="266.7" cy="50.3" r="1.6" fill="#3c438e"/>
<circle cx="270.7" cy="63.5" r="1.6" fill="#3c438e"/>
<circle cx="274.1" cy="56.9" r="1.6" fill="#3c438e"/>
<circle cx="277.8" cy="50.3" r="1.6" fill="#3c438e"/>
</g>
<rect x="190.2" y="186.0" width="93.2" height="19.4" rx="2" fill="#f0f0f0" fill-opacity="0.85" stroke="#e6e6e6" stroke-width="0.8"/>
<rect x="222.2" y="187.5" width="58" height="16.4" rx="3" fill="#ffffff" opacity="0.85"/>
<circle cx="205.9" cy="196.2" r="4" fill="#ffffff" opacity="0.8"/>
<circle cx="205.9" cy="196.2" r="1.7" fill="#0d0d26"/>
<text transform="translate(225.2,198.7) scale(1.03,1)" font-size="10.6" text-anchor="start" fill="#111111" font-weight="normal" font-family="'DejaVu Sans', 'Liberation Sans', sans-serif" stroke="#111" stroke-width="0.3">mAP@0.5</text>
<line x1="373.6" y1="355.0" x2="612.2" y2="355.0" stroke="#e8e8e8" stroke-width="1.8"/>
<text transform="translate(365.6,358.8) scale(1.05,1)" font-size="10.5" text-anchor="end" fill="#262626" font-weight="normal" font-family="'DejaVu Sans', 'Liberation Sans', sans-serif" stroke="#262626" stroke-width="0.15">0</text>
<line x1="373.6" y1="291.3" x2="612.2" y2="291.3" stroke="#e8e8e8" stroke-width="1.8"/>
<text transform="translate(365.6,295.1) scale(1.05,1)" font-size="10.5" text-anchor="end" fill="#262626" font-weight="normal" font-family="'DejaVu Sans', 'Liberation Sans', sans-serif" stroke="#262626" stroke-width="0.15">1</text>
<line x1="373.6" y1="227.5" x2="612.2" y2="227.5" stroke="#e8e8e8" stroke-width="1.8"/>
<text transform="translate(365.6,231.3) scale(1.05,1)" font-size="10.5" text-anchor="end" fill="#262626" font-weight="normal" font-family="'DejaVu Sans', 'Liberation Sans', sans-serif" stroke="#262626" stroke-width="0.15">2</text>
<line x1="373.6" y1="163.8" x2="612.2" y2="163.8" stroke="#e8e8e8" stroke-width="1.8"/>
<text transform="translate(365.6,167.6) scale(1.05,1)" font-size="10.5" text-anchor="end" fill="#262626" font-weight="normal" font-family="'DejaVu Sans', 'Liberation Sans', sans-serif" stroke="#262626" stroke-width="0.15">3</text>
<line x1="373.6" y1="100.0" x2="612.2" y2="100.0" stroke="#e8e8e8" stroke-width="1.8"/>
<text transform="translate(365.6,103.8) scale(1.05,1)" font-size="10.5" text-anchor="end" fill="#262626" font-weight="normal" font-family="'DejaVu Sans', 'Liberation Sans', sans-serif" stroke="#262626" stroke-width="0.15">4</text>
<line x1="373.6" y1="36.3" x2="612.2" y2="36.3" stroke="#e8e8e8" stroke-width="1.8"/>
<text transform="translate(365.6,40.1) scale(1.05,1)" font-size="10.5" text-anchor="end" fill="#262626" font-weight="normal" font-family="'DejaVu Sans', 'Liberation Sans', sans-serif" stroke="#262626" stroke-width="0.15">5</text>
<line x1="372.6" y1="36.3" x2="372.6" y2="355.5" stroke="#eeeeee" stroke-width="1.6"/>
<line x1="614.0" y1="36.3" x2="614.0" y2="355.5" stroke="#f3f3f3" stroke-width="1.8"/>
<text transform="translate(383.0,369.2) scale(1.05,1)" font-size="10.5" text-anchor="middle" fill="#262626" font-weight="normal" font-family="'DejaVu Sans', 'Liberation Sans', sans-serif" stroke="#262626" stroke-width="0.15">0</text>
<text transform="translate(419.5,369.2) scale(1.05,1)" font-size="10.5" text-anchor="middle" fill="#262626" font-weight="normal" font-family="'DejaVu Sans', 'Liberation Sans', sans-serif" stroke="#262626" stroke-width="0.15">1000</text>
<text transform="translate(455.9,369.2) scale(1.05,1)" font-size="10.5" text-anchor="middle" fill="#262626" font-weight="normal" font-family="'DejaVu Sans', 'Liberation Sans', sans-serif" stroke="#262626" stroke-width="0.15">2000</text>
<text transform="translate(492.4,369.2) scale(1.05,1)" font-size="10.5" text-anchor="middle" fill="#262626" font-weight="normal" font-family="'DejaVu Sans', 'Liberation Sans', sans-serif" stroke="#262626" stroke-width="0.15">3000</text>
<text transform="translate(528.9,369.2) scale(1.05,1)" font-size="10.5" text-anchor="middle" fill="#262626" font-weight="normal" font-family="'DejaVu Sans', 'Liberation Sans', sans-serif" stroke="#262626" stroke-width="0.15">4000</text>
<text transform="translate(565.4,369.2) scale(1.05,1)" font-size="10.5" text-anchor="middle" fill="#262626" font-weight="normal" font-family="'DejaVu Sans', 'Liberation Sans', sans-serif" stroke="#262626" stroke-width="0.15">5000</text>
<text transform="translate(601.8,369.2) scale(1.05,1)" font-size="10.5" text-anchor="middle" fill="#262626" font-weight="normal" font-family="'DejaVu Sans', 'Liberation Sans', sans-serif" stroke="#262626" stroke-width="0.15">6000</text>
<text transform="translate(492.8,384.3) scale(1.01,1)" font-size="14.4" text-anchor="middle" fill="#1a1a1a" font-weight="normal" font-family="'DejaVu Sans', 'Liberation Sans', sans-serif" stroke="#1a1a1a" stroke-width="0.15">Iterations</text>
<text transform="translate(492.8,31.7) scale(1.015,1)" font-size="17.0" text-anchor="middle" fill="#111111" font-weight="normal" font-family="'DejaVu Sans', 'Liberation Sans', sans-serif" stroke="#111111" stroke-width="0.15">YOLOv4-tiny-512</text>
<text transform="translate(354.0,195.7) rotate(-90) scale(1,1.05)" font-size="14.4" text-anchor="middle" fill="#1a1a1a" font-family="'DejaVu Sans', 'Liberation Sans', sans-serif" stroke="#1a1a1a" stroke-width="0.15">Loss</text>
<text transform="translate(619.2,94.3) scale(0.9,1)" font-size="9.6" text-anchor="start" fill="#2a2a2a" font-weight="normal" font-family="'DejaVu Sans', 'Liberation Sans', sans-serif" stroke="#2a2a2a" stroke-width="0.3">85</text>
<text transform="translate(619.2,154.1) scale(0.9,1)" font-size="9.6" text-anchor="start" fill="#2a2a2a" font-weight="normal" font-family="'DejaVu Sans', 'Liberation Sans', sans-serif" stroke="#2a2a2a" stroke-width="0.3">80</text>
<text transform="translate(619.2,213.9) scale(0.9,1)" font-size="9.6" text-anchor="start" fill="#2a2a2a" font-weight="normal" font-family="'DejaVu Sans', 'Liberation Sans', sans-serif" stroke="#2a2a2a" stroke-width="0.3">75</text>
<text transform="translate(619.2,273.7) scale(0.9,1)" font-size="9.6" text-anchor="start" fill="#2a2a2a" font-weight="normal" font-family="'DejaVu Sans', 'Liberation Sans', sans-serif" stroke="#2a2a2a" stroke-width="0.3">70</text>
<text transform="translate(619.2,333.5) scale(0.9,1)" font-size="9.6" text-anchor="start" fill="#2a2a2a" font-weight="normal" font-family="'DejaVu Sans', 'Liberation Sans', sans-serif" stroke="#2a2a2a" stroke-width="0.3">65</text>
<clipPath id="c2"><rect x="372.6" y="37.2" width="240.4" height="317.8"/></clipPath>
<g clip-path="url(#c2)">
<circle cx="419.2" cy="340.6" r="3.2" fill="#fff"/>
<circle cx="423.1" cy="238.1" r="3.2" fill="#fff"/>
<circle cx="467.2" cy="109.6" r="3.2" fill="#fff"/>
<circle cx="470.4" cy="121.3" r="3.2" fill="#fff"/>
<circle cx="474.3" cy="103.1" r="3.2" fill="#fff"/>
<circle cx="478.0" cy="138.8" r="3.2" fill="#fff"/>
<circle cx="481.4" cy="92.6" r="3.2" fill="#fff"/>
<circle cx="485.2" cy="81.7" r="3.2" fill="#fff"/>
<circle cx="489.0" cy="97.0" r="3.2" fill="#fff"/>
<circle cx="492.5" cy="97.5" r="3.2" fill="#fff"/>
<circle cx="496.3" cy="105.3" r="3.2" fill="#fff"/>
<circle cx="500.0" cy="97.5" r="3.2" fill="#fff"/>
<circle cx="503.3" cy="73.5" r="3.2" fill="#fff"/>
<circle cx="507.0" cy="111.4" r="3.2" fill="#fff"/>
<circle cx="510.5" cy="106.3" r="3.2" fill="#fff"/>
<circle cx="514.3" cy="108.7" r="3.2" fill="#fff"/>
<circle cx="518.0" cy="84.4" r="3.2" fill="#fff"/>
<circle cx="521.5" cy="84.4" r="3.2" fill="#fff"/>
<circle cx="525.2" cy="97.5" r="3.2" fill="#fff"/>
<circle cx="529.0" cy="80.6" r="3.2" fill="#fff"/>
<circle cx="532.5" cy="66.8" r="3.2" fill="#fff"/>
<circle cx="536.3" cy="111.4" r="3.2" fill="#fff"/>
<circle cx="540.0" cy="73.0" r="3.2" fill="#fff"/>
<circle cx="543.5" cy="72.0" r="3.2" fill="#fff"/>
<circle cx="547.2" cy="90.0" r="3.2" fill="#fff"/>
<circle cx="551.2" cy="75.5" r="3.2" fill="#fff"/>
<circle cx="554.3" cy="59.3" r="3.2" fill="#fff"/>
<circle cx="558.3" cy="86.0" r="3.2" fill="#fff"/>
<circle cx="562.1" cy="58.0" r="3.2" fill="#fff"/>
<circle cx="565.3" cy="63.1" r="3.2" fill="#fff"/>
<circle cx="569.3" cy="58.0" r="3.2" fill="#fff"/>
<circle cx="573.0" cy="58.6" r="3.2" fill="#fff"/>
<circle cx="576.5" cy="72.3" r="3.2" fill="#fff"/>
<circle cx="580.2" cy="50.5" r="3.2" fill="#fff"/>
<circle cx="584.0" cy="55.3" r="3.2" fill="#fff"/>
<circle cx="587.3" cy="59.3" r="3.2" fill="#fff"/>
<circle cx="591.0" cy="53.1" r="3.2" fill="#fff"/>
<circle cx="594.8" cy="53.1" r="3.2" fill="#fff"/>
<circle cx="598.3" cy="53.1" r="3.2" fill="#fff"/>
<circle cx="602.2" cy="61.3" r="3.2" fill="#fff"/>
<defs><g id="band2">
<polygon points="388.9,20.0 388.9,21.1 388.9,21.4 388.9,22.1 388.9,22.8 388.9,23.5 388.9,24.2 388.9,24.9 388.9,25.6 388.9,26.3 388.9,27.0 388.9,27.7 388.9,28.4 388.9,29.1 388.9,29.8 388.9,30.5 388.9,31.2 388.9,31.9 388.9,32.6 388.9,33.3 388.9,34.0 388.9,34.7 388.9,35.4 388.9,36.1 388.9,36.8 388.9,37.5 389.0,38.2 389.0,38.9 389.0,39.6 389.0,40.3 389.0,41.0 389.0,41.7 389.0,42.4 389.0,43.1 389.0,43.8 389.0,44.5 389.0,45.2 389.0,45.9 389.0,46.6 389.0,47.3 389.0,48.0 389.0,48.7 389.0,49.4 389.0,50.1 389.0,50.8 389.0,51.5 389.0,52.2 389.0,52.9 389.0,53.6 389.0,54.3 389.0,55.0 389.0,55.7 389.0,56.4 389.0,57.1 389.0,57.8 389.0,58.5 389.1,59.2 389.1,59.9 389.1,60.6 389.1,61.3 389.1,62.0 389.1,62.7 389.1,63.4 389.1,64.1 389.1,64.8 389.1,65.5 389.1,66.2 389.1,66.9 389.1,67.6 389.1,68.3 389.1,69.0 389.1,69.7 389.1,70.4 389.1,71.1 389.1,71.8 389.1,72.5 389.1,73.2 389.1,73.9 389.1,74.6 389.1,75.3 389.1,76.0 389.1,76.7 389.1,77.4 389.1,78.1 389.1,78.8 389.1,79.5 389.2,80.2 389.2,80.9 389.2,81.6 389.2,82.3 389.2,83.0 389.2,83.7 389.2,84.4 389.2,85.1 389.2,85.8 389.2,86.5 389.2,87.2 389.2,87.9 389.2,88.6 389.2,89.3 389.2,90.0 389.2,90.7 389.2,91.4 389.2,92.1 389.2,92.8 389.2,93.5 389.2,94.2 389.2,94.9 389.2,95.6 389.2,96.3 389.2,97.0 389.2,97.7 389.2,98.4 389.2,99.1 389.2,99.8 389.3,100.5 389.3,101.2 389.3,102.0 389.3,102.7 389.3,103.4 389.3,104.1 389.3,104.8 389.3,105.5 389.3,106.2 389.3,106.9 389.3,107.6 389.3,108.3 389.3,109.0 389.3,109.7 389.3,110.4 389.3,111.1 389.3,111.8 389.3,112.5 389.3,113.2 389.3,113.9 389.3,114.6 389.3,115.3 389.3,116.0 389.3,116.7 389.3,117.4 389.3,118.1 389.3,118.8 389.3,119.5 389.3,120.2 389.3,120.9 389.4,121.6 389.4,122.3 389.4,123.0 389.4,123.7 389.4,124.4 389.4,125.1 389.4,125.8 389.4,126.5 389.4,127.2 389.4,127.9 389.4,128.6 389.4,129.3 389.4,130.0 389.4,130.7 389.4,131.4 389.4,132.1 389.4,132.8 389.4,133.5 389.4,134.2 389.4,134.9 389.4,135.6 389.4,136.3 389.4,137.0 389.4,137.7 389.4,138.4 389.4,139.1 389.4,139.8 389.4,140.5 389.4,141.2 389.4,141.9 389.5,142.6 389.5,143.3 389.5,144.0 389.5,144.7 389.5,145.4 389.5,146.1 389.5,146.8 389.5,147.5 389.5,148.2 389.5,148.9 389.5,149.6 389.5,150.3 389.5,151.0 389.5,151.7 389.5,152.4 389.5,153.1 389.5,153.8 389.5,154.5 389.5,155.2 389.5,155.9 389.5,156.6 389.5,157.3 389.5,158.0 389.5,158.7 389.5,159.4 389.5,160.1 389.5,160.8 389.5,161.5 389.5,162.2 389.5,162.9 389.6,163.6 389.6,164.3 389.6,165.0 389.6,165.7 389.6,166.4 389.6,167.1 389.6,167.8 389.6,168.5 389.6,169.2 389.6,169.9 389.6,170.6 389.6,171.3 389.6,172.0 389.6,172.7 389.6,173.4 389.6,174.1 389.6,174.8 389.6,175.5 389.6,176.2 389.6,176.9 389.6,177.6 389.6,178.3 389.6,179.0 389.6,179.7 389.6,180.4 389.6,181.1 389.6,181.8 389.6,182.5 389.6,183.2 389.6,183.9 389.7,184.6 389.7,185.3 389.7,186.0 389.7,186.7 389.7,187.4 389.7,188.1 389.7,188.8 389.7,189.5 389.7,190.2 389.7,190.9 389.7,191.6 389.7,192.3 389.7,193.0 389.7,193.7 389.7,194.4 389.7,195.1 389.7,195.8 389.7,196.5 389.7,197.2 389.7,197.9 389.7,198.6 389.7,199.3 389.7,200.0 389.7,200.7 389.8,201.4 389.8,202.1 389.8,202.8 389.8,203.5 389.8,204.2 389.8,204.9 389.8,205.6 389.8,206.3 389.8,207.0 389.9,207.7 389.9,208.4 389.9,209.2 389.9,209.9 389.9,210.6 389.9,211.3 389.9,212.0 389.9,212.7 390.0,213.4 390.0,214.1 390.0,214.8 390.0,215.5 390.0,216.2 390.0,216.9 390.0,217.6 390.0,218.3 390.1,219.0 390.1,219.7 390.1,220.4 390.1,221.1 390.1,221.8 390.1,222.5 390.1,223.2 390.1,223.9 390.2,224.6 390.2,225.3 390.2,226.0 390.2,226.7 390.2,227.5 390.3,228.2 390.3,228.9 390.3,229.7 390.3,230.4 390.4,231.2 390.1,231.9 390.4,232.6 390.5,233.4 390.0,234.1 390.9,234.8 390.3,235.6 391.0,236.3 390.3,237.1 390.3,237.8 389.5,238.7 389.5,239.4 390.6,240.1 390.1,240.9 391.0,241.5 389.9,242.5 391.8,242.9 391.8,243.6 391.5,244.4 391.1,245.3 391.2,246.0 391.9,246.6 391.8,247.4 392.0,248.1 392.2,248.8 391.9,249.6 392.8,250.2 393.0,250.9 392.5,251.8 393.3,252.3 392.2,253.4 394.0,253.7 392.4,254.8 393.6,255.3 394.8,255.8 393.6,256.8 394.7,257.3 393.8,258.3 394.4,258.9 395.0,259.5 395.0,260.3 394.4,261.1 395.8,261.5 395.7,262.3 395.2,263.1 395.7,263.7 396.0,264.4 396.3,265.1 396.4,265.8 396.8,266.4 395.7,267.4 396.8,267.8 398.0,268.3 397.5,269.1 397.7,269.8 396.7,270.8 397.2,271.4 397.7,272.1 398.0,272.8 398.0,273.6 398.3,274.3 397.1,275.4 398.9,275.7 399.4,276.3 399.3,277.1 400.0,277.7 400.2,278.4 399.4,279.4 400.8,279.8 400.9,280.5 400.2,281.6 401.1,282.1 400.5,283.1 401.4,283.6 402.0,284.1 401.0,285.3 402.6,285.4 402.7,286.1 402.9,286.8 402.9,287.6 402.5,288.5 404.5,288.5 403.7,289.6 402.8,290.6 404.4,290.8 404.0,291.8 404.6,292.4 405.7,292.7 406.3,293.3 405.7,294.6 406.0,295.3 407.8,295.1 407.6,296.1 408.2,296.6 408.3,297.4 409.2,297.7 408.6,299.0 409.2,299.6 410.6,299.6 410.8,300.4 410.7,301.6 411.4,302.0 412.2,302.3 412.1,303.5 412.7,303.9 413.5,304.2 413.7,305.0 414.8,305.0 415.1,305.7 415.6,306.3 416.1,306.8 417.2,306.7 418.0,306.9 418.2,307.8 417.3,309.7 418.5,309.6 419.7,309.4 419.9,310.2 420.6,310.6 421.4,310.8 421.6,311.6 422.3,311.9 422.6,312.1 423.5,312.8 425.1,311.2 424.4,310.3 424.3,309.9 423.8,309.4 423.2,309.0 422.5,308.7 422.7,307.4 421.6,307.5 421.5,306.5 420.8,306.2 420.9,305.0 420.3,304.7 419.4,304.4 419.0,303.8 418.8,303.0 417.8,302.9 417.5,302.2 417.0,301.7 416.5,301.1 415.6,301.0 414.5,301.0 414.8,299.7 414.3,299.2 414.5,298.2 413.5,298.2 412.8,297.9 412.4,297.4 411.3,297.2 411.2,296.5 412.1,294.9 410.7,295.0 411.1,293.8 409.7,293.8 410.1,292.7 409.8,292.1 409.6,291.5 409.4,290.8 407.9,290.9 408.1,290.1 408.5,289.2 407.7,288.7 407.5,288.1 406.3,287.8 407.3,286.7 407.3,285.9 406.8,285.3 406.0,284.9 406.6,283.9 406.0,283.4 406.1,282.6 404.8,282.3 405.7,281.3 404.8,280.8 403.6,280.5 403.3,279.8 404.3,278.7 403.7,278.1 402.6,277.6 403.3,276.6 403.0,275.9 402.2,275.4 402.4,274.6 401.4,274.1 402.9,272.8 402.5,272.2 401.5,271.8 401.2,271.1 401.4,270.3 401.5,269.6 401.8,268.8 400.8,268.3 401.1,267.5 400.3,267.0 399.4,266.5 401.1,265.3 400.3,264.8 399.9,264.2 399.0,263.7 400.0,262.7 400.0,262.0 399.6,261.3 400.6,260.4 399.1,260.0 398.6,259.4 397.9,258.8 399.4,257.7 398.0,257.3 398.6,256.3 396.9,256.0 397.8,255.0 398.3,254.1 398.3,253.4 396.7,253.0 397.6,252.0 396.4,251.6 396.7,250.8 396.6,250.0 396.4,249.4 395.8,248.8 396.3,247.9 396.0,247.2 396.3,246.4 395.3,245.9 396.2,245.0 395.0,244.5 394.6,243.8 395.2,243.0 394.7,242.3 394.5,241.6 394.0,241.0 394.4,240.2 393.7,239.6 395.8,238.6 394.2,238.1 393.0,237.5 394.0,236.7 393.6,236.0 393.7,235.3 393.2,234.6 393.3,233.8 392.9,233.1 393.0,232.4 392.8,231.7 392.8,230.9 392.6,230.2 392.5,229.5 392.4,228.8 392.3,228.1 392.2,227.4 392.2,226.7 392.2,226.0 392.2,225.3 392.1,224.6 392.1,223.9 392.1,223.2 392.1,222.5 392.1,221.8 392.1,221.1 392.1,220.4 392.0,219.7 392.0,219.0 392.0,218.2 392.0,217.5 392.0,216.8 392.0,216.1 392.0,215.4 392.0,214.7 391.9,214.0 391.9,213.3 391.9,212.6 391.9,211.9 391.9,211.2 391.9,210.5 391.9,209.8 391.8,209.1 391.8,208.4 391.8,207.7 391.8,207.0 391.8,206.3 391.8,205.6 391.8,204.9 391.8,204.2 391.7,203.5 391.7,202.8 391.7,202.1 391.7,201.4 391.7,200.7 391.7,200.0 391.7,199.3 391.7,198.6 391.7,197.9 391.7,197.2 391.7,196.5 391.7,195.8 391.6,195.1 391.6,194.4 391.6,193.7 391.6,193.0 391.6,192.3 391.6,191.6 391.6,190.9 391.6,190.2 391.6,189.5 391.6,188.8 391.6,188.1 391.6,187.4 391.6,186.7 391.6,186.0 391.6,185.3 391.6,184.6 391.6,183.9 391.6,183.2 391.6,182.5 391.6,181.8 391.6,181.1 391.6,180.4 391.6,179.7 391.6,179.0 391.6,178.3 391.6,177.6 391.6,176.9 391.5,176.2 391.5,175.5 391.5,174.8 391.5,174.1 391.5,173.4 391.5,172.7 391.5,172.0 391.5,171.3 391.5,170.6 391.5,169.9 391.5,169.2 391.5,168.5 391.5,167.8 391.5,167.1 391.5,166.4 391.5,165.7 391.5,165.0 391.5,164.3 391.5,163.6 391.5,162.9 391.5,162.2 391.5,161.5 391.5,160.8 391.5,160.1 391.5,159.4 391.5,158.7 391.5,158.0 391.5,157.3 391.4,156.6 391.4,155.9 391.4,155.2 391.4,154.5 391.4,153.8 391.4,153.1 391.4,152.4 391.4,151.7 391.4,151.0 391.4,150.3 391.4,149.6 391.4,148.9 391.4,148.2 391.4,147.5 391.4,146.8 391.4,146.1 391.4,145.4 391.4,144.7 391.4,144.0 391.4,143.3 391.4,142.6 391.4,141.9 391.4,141.2 391.4,140.5 391.4,139.8 391.4,139.1 391.4,138.4 391.3,137.7 391.3,137.0 391.3,136.3 391.3,135.6 391.3,134.9 391.3,134.2 391.3,133.5 391.3,132.8 391.3,132.1 391.3,131.4 391.3,130.7 391.3,130.0 391.3,129.3 391.3,128.6 391.3,127.9 391.3,127.2 391.3,126.5 391.3,125.8 391.3,125.1 391.3,124.4 391.3,123.7 391.3,123.0 391.3,122.3 391.3,121.6 391.3,120.9 391.3,120.2 391.3,119.5 391.3,118.8 391.2,118.0 391.2,117.3 391.2,116.6 391.2,115.9 391.2,115.2 391.2,114.5 391.2,113.8 391.2,113.1 391.2,112.4 391.2,111.7 391.2,111.0 391.2,110.3 391.2,109.6 391.2,108.9 391.2,108.2 391.2,107.5 391.2,106.8 391.2,106.1 391.2,105.4 391.2,104.7 391.2,104.0 391.2,103.3 391.2,102.6 391.2,101.9 391.2,101.2 391.2,100.5 391.2,99.8 391.1,99.1 391.1,98.4 391.1,97.7 391.1,97.0 391.1,96.3 391.1,95.6 391.1,94.9 391.1,94.2 391.1,93.5 391.1,92.8 391.1,92.1 391.1,91.4 391.1,90.7 391.1,90.0 391.1,89.3 391.1,88.6 391.1,87.9 391.1,87.2 391.1,86.5 391.1,85.8 391.1,85.1 391.1,84.4 391.1,83.7 391.1,83.0 391.1,82.3 391.1,81.6 391.1,80.9 391.0,80.2 391.0,79.5 391.0,78.8 391.0,78.1 391.0,77.4 391.0,76.7 391.0,76.0 391.0,75.3 391.0,74.6 391.0,73.9 391.0,73.2 391.0,72.5 391.0,71.8 391.0,71.1 391.0,70.4 391.0,69.7 391.0,69.0 391.0,68.3 391.0,67.6 391.0,66.9 391.0,66.2 391.0,65.5 391.0,64.8 391.0,64.1 391.0,63.4 391.0,62.7 391.0,62.0 391.0,61.3 390.9,60.6 390.9,59.9 390.9,59.2 390.9,58.5 390.9,57.8 390.9,57.1 390.9,56.4 390.9,55.7 390.9,55.0 390.9,54.3 390.9,53.6 390.9,52.9 390.9,52.2 390.9,51.5 390.9,50.8 390.9,50.1 390.9,49.4 390.9,48.7 390.9,48.0 390.9,47.3 390.9,46.6 390.9,45.9 390.9,45.2 390.9,44.5 390.9,43.8 390.9,43.1 390.9,42.4 390.8,41.7 390.8,41.0 390.8,40.3 390.8,39.6 390.8,38.9 390.8,38.2 390.8,37.5 390.8,36.8 390.8,36.1 390.8,35.4 390.8,34.7 390.8,34.0 390.8,33.3 390.8,32.6 390.8,31.9 390.8,31.2 390.8,30.5 390.8,29.8 390.8,29.1 390.8,28.4 390.8,27.7 390.8,27.0 390.8,26.3 390.8,25.6 390.8,24.9 390.8,24.2 390.8,23.5 390.7,22.8 390.7,22.1 390.7,21.4 390.7,21.0 390.7,20.0"/>
<polygon points="389.8,198.1 391.6,198.1 391.6,238.1 393.4,238.1 393.4,246.9 395.2,246.9 395.2,254.4 397.0,254.4 397.0,261.0 398.8,261.0 398.8,268.9 400.6,268.9 400.6,274.4 402.4,274.4 402.4,280.1 404.2,280.1 404.2,284.5 406.0,284.5 406.0,290.1 407.8,290.1 407.8,292.5 409.6,292.5 409.6,295.6 411.4,295.6 411.4,298.1 413.2,298.1 413.2,299.8 415.0,299.8 415.0,300.9 416.8,300.9 416.8,303.1 418.6,303.1 418.6,304.5 420.4,304.5 420.4,306.9 422.2,306.9 422.2,308.5 424.0,308.5 424.0,312.8 422.2,312.8 422.2,311.5 420.4,311.5 420.4,309.9 418.6,309.9 418.6,307.9 416.8,307.9 416.8,305.8 415.0,305.8 415.0,304.0 413.2,304.0 413.2,302.1 411.4,302.1 411.4,299.7 409.6,299.7 409.6,297.1 407.8,297.1 407.8,294.6 406.0,294.6 406.0,289.4 404.2,289.4 404.2,286.1 402.4,286.1 402.4,279.3 400.6,279.3 400.6,273.3 398.8,273.3 398.8,266.4 397.0,266.4 397.0,258.8 395.2,258.8 395.2,251.4 393.4,251.4 393.4,242.6 391.6,242.6 391.6,201.9 389.8,201.9"/>
<polygon points="465.1,329.3 466.2,329.6 466.5,329.7 467.2,329.8 467.9,330.1 468.7,330.0 469.3,330.3 470.0,330.6 470.8,330.5 471.4,330.8 472.1,331.0 472.8,331.2 473.5,331.2 474.2,331.5 475.0,331.5 475.7,331.7 476.4,331.8 477.1,332.0 477.8,332.1 478.6,332.3 479.3,332.3 480.0,332.2 480.7,332.4 481.4,332.5 482.1,332.6 482.9,332.6 483.6,332.8 484.3,332.8 485.0,332.9 485.7,333.0 486.4,333.2 487.1,333.2 487.8,333.3 488.5,333.4 489.2,333.5 490.0,333.5 490.7,333.6 491.4,333.7 492.1,333.8 492.8,334.0 493.5,334.1 494.2,334.2 494.9,334.2 495.6,334.3 496.4,334.4 497.1,334.4 497.8,334.5 498.5,334.6 499.2,334.7 499.9,334.8 500.6,334.8 501.4,334.8 502.1,335.0 502.8,335.0 503.5,335.2 504.2,335.2 504.9,335.3 505.6,335.4 506.3,335.4 507.1,335.4 507.8,335.6 508.5,335.6 509.2,335.7 509.9,335.7 510.6,336.0 511.3,335.9 512.0,335.9 512.7,336.0 513.5,336.0 514.2,336.2 514.9,336.2 515.6,336.3 516.3,336.4 517.0,336.5 517.7,336.6 518.4,336.6 519.2,336.6 519.9,336.7 520.6,336.9 521.3,336.9 522.0,337.0 522.7,337.0 523.4,337.2 524.2,337.1 524.9,337.2 525.6,337.2 526.3,337.2 527.0,337.4 527.7,337.3 528.4,337.4 529.1,337.4 529.9,337.5 530.6,337.6 531.3,337.6 532.0,337.7 532.7,337.5 533.4,337.8 534.1,337.8 534.8,337.8 535.5,337.9 536.3,337.9 537.0,338.0 537.7,338.1 538.4,338.1 539.1,338.1 539.8,338.2 540.5,338.3 541.2,338.3 541.9,338.4 542.6,338.6 543.4,338.6 544.1,338.5 544.8,338.6 545.5,338.7 546.2,338.7 546.9,338.7 547.5,338.9 548.2,339.0 548.9,339.2 549.7,339.2 550.4,339.4 551.1,339.5 551.8,339.6 552.5,339.7 553.2,339.9 553.9,339.9 554.6,339.9 555.3,340.2 556.1,340.2 556.8,340.4 557.5,340.5 558.2,340.6 558.9,340.6 559.6,340.8 560.3,340.8 561.1,341.0 561.8,341.2 562.5,341.1 563.2,341.2 563.9,341.3 564.6,341.4 565.3,341.4 566.0,341.5 566.7,341.6 567.4,341.5 568.2,341.5 568.9,341.6 569.6,341.7 570.3,341.7 571.0,341.7 571.7,341.7 572.4,341.8 573.1,341.9 573.8,342.0 574.5,342.0 575.2,341.9 575.9,342.1 576.6,342.0 577.3,342.2 578.0,342.2 578.7,342.2 579.4,342.3 580.1,342.4 580.8,342.4 581.5,342.6 582.2,342.5 582.9,342.5 583.7,342.6 584.4,342.4 585.1,342.7 585.9,342.7 586.6,342.6 587.3,342.6 588.0,342.6 588.8,342.5 589.5,342.6 590.2,342.6 591.0,342.7 591.7,342.6 592.4,342.7 593.1,342.6 593.9,342.6 594.6,342.5 595.3,342.6 596.0,342.6 596.8,342.6 597.5,342.6 598.2,342.7 598.9,342.6 599.6,342.6 600.0,342.7 601.1,342.6 601.1,340.2 600.0,340.3 599.6,340.3 598.9,340.3 598.2,340.3 597.5,340.2 596.8,340.2 596.0,340.2 595.3,340.2 594.6,340.3 593.9,340.1 593.1,340.1 592.4,340.2 591.7,340.2 591.0,340.3 590.2,340.3 589.5,340.1 588.8,340.3 588.0,340.3 587.3,340.3 586.6,340.1 585.9,340.2 585.2,340.3 584.5,340.1 583.8,340.1 583.1,340.1 582.4,340.1 581.7,340.2 581.0,340.1 580.3,340.0 579.6,339.9 578.9,339.9 578.2,339.8 577.4,339.9 576.8,339.7 576.0,339.7 575.3,339.7 574.6,339.6 573.9,339.5 573.2,339.5 572.5,339.5 571.8,339.4 571.1,339.3 570.4,339.4 569.7,339.4 569.0,339.2 568.3,339.2 567.6,339.1 566.9,339.0 566.2,339.0 565.5,338.9 564.8,338.9 564.1,338.9 563.4,338.9 562.7,338.7 562.0,338.8 561.3,338.7 560.7,338.5 560.0,338.4 559.3,338.4 558.6,338.3 557.8,338.2 557.1,338.0 556.4,338.0 555.7,337.8 555.0,337.8 554.3,337.6 553.6,337.4 552.9,337.5 552.2,337.3 551.5,337.1 550.8,337.0 550.0,336.9 549.3,336.9 548.6,336.7 547.9,336.5 547.2,336.5 546.4,336.4 545.7,336.3 545.0,336.2 544.3,336.1 543.5,336.0 542.8,336.1 542.1,336.1 541.4,336.0 540.7,335.9 540.0,335.8 539.3,335.9 538.6,335.8 537.8,335.7 537.1,335.6 536.4,335.6 535.7,335.5 535.0,335.5 534.3,335.4 533.6,335.4 532.9,335.4 532.2,335.2 531.4,335.2 530.7,335.1 530.0,335.1 529.3,335.2 528.6,335.1 527.9,334.9 527.2,334.8 526.5,334.9 525.7,334.9 525.0,334.7 524.3,334.7 523.6,334.8 522.9,334.6 522.2,334.5 521.5,334.5 520.8,334.4 520.1,334.4 519.4,334.4 518.7,334.2 518.0,334.1 517.2,334.1 516.5,334.0 515.8,333.9 515.1,333.8 514.4,333.8 513.7,333.8 513.0,333.6 512.3,333.7 511.6,333.6 510.8,333.4 510.1,333.4 509.4,333.3 508.7,333.1 508.0,333.1 507.3,333.0 506.6,332.9 505.9,332.9 505.1,333.0 504.4,332.9 503.7,332.7 503.0,332.6 502.3,332.6 501.6,332.5 500.9,332.5 500.2,332.3 499.5,332.4 498.8,332.2 498.0,332.2 497.3,332.1 496.6,332.0 495.9,331.9 495.2,331.8 494.5,331.8 493.8,331.6 493.1,331.6 492.4,331.4 491.7,331.5 491.0,331.3 490.3,331.1 489.5,331.2 488.8,330.9 488.1,330.9 487.4,330.8 486.7,330.7 486.0,330.7 485.3,330.7 484.6,330.4 483.9,330.4 483.2,330.2 482.5,330.0 481.7,330.1 481.0,330.0 480.3,330.0 479.6,329.9 478.9,329.8 478.2,329.8 477.5,329.6 476.8,329.5 476.1,329.3 475.5,329.2 474.7,329.1 474.1,328.9 473.3,328.8 472.6,328.7 472.0,328.4 471.3,328.3 470.6,328.1 469.9,327.9 469.2,327.8 468.5,327.6 467.8,327.5 467.0,327.4 466.7,327.3 465.7,327.1"/>
<polygon points="465.4,325.2 467.2,325.2 467.2,326.7 469.0,326.7 469.0,327.4 470.8,327.4 470.8,327.6 472.6,327.6 472.6,327.6 474.4,327.6 474.4,328.0 476.2,328.0 476.2,328.7 478.0,328.7 478.0,329.2 479.8,329.2 479.8,329.0 481.6,329.0 481.6,329.5 483.4,329.5 483.4,329.3 485.2,329.3 485.2,329.3 487.0,329.3 487.0,330.2 488.8,330.2 488.8,330.0 490.6,330.0 490.6,330.7 492.4,330.7 492.4,330.8 494.2,330.8 494.2,331.1 496.0,331.1 496.0,331.5 497.8,331.5 497.8,331.7 499.6,331.7 499.6,331.8 501.4,331.8 501.4,331.5 503.2,331.5 503.2,331.9 505.0,331.9 505.0,332.2 506.8,332.2 506.8,332.3 508.6,332.3 508.6,331.4 510.4,331.4 510.4,332.2 512.2,332.2 512.2,332.8 514.0,332.8 514.0,332.2 515.8,332.2 515.8,332.4 517.6,332.4 517.6,333.5 519.4,333.5 519.4,333.8 521.2,333.8 521.2,333.7 523.0,333.7 523.0,334.1 524.8,334.1 524.8,334.0 526.6,334.0 526.6,333.7 528.4,333.7 528.4,334.2 530.2,334.2 530.2,333.7 532.0,333.7 532.0,334.7 533.8,334.7 533.8,334.5 535.6,334.5 535.6,334.9 537.4,334.9 537.4,334.9 539.2,334.9 539.2,335.3 541.0,335.3 541.0,335.2 542.8,335.2 542.8,335.3 544.6,335.3 544.6,335.6 546.4,335.6 546.4,335.3 548.2,335.3 548.2,335.9 550.0,335.9 550.0,335.8 551.8,335.8 551.8,336.2 553.6,336.2 553.6,336.7 555.4,336.7 555.4,336.7 557.2,336.7 557.2,336.7 559.0,336.7 559.0,337.0 560.8,337.0 560.8,337.9 562.6,337.9 562.6,337.9 564.4,337.9 564.4,337.9 566.2,337.9 566.2,338.2 568.0,338.2 568.0,338.4 569.8,338.4 569.8,338.8 571.6,338.8 571.6,337.4 573.4,337.4 573.4,338.7 575.2,338.7 575.2,339.1 577.0,339.1 577.0,339.0 578.8,339.0 578.8,338.5 580.6,338.5 580.6,339.0 582.4,339.0 582.4,339.2 584.2,339.2 584.2,339.7 586.0,339.7 586.0,339.4 587.8,339.4 587.8,339.5 589.6,339.5 589.6,337.9 591.4,337.9 591.4,339.6 593.2,339.6 593.2,339.5 595.0,339.5 595.0,339.6 596.8,339.6 596.8,339.1 598.6,339.1 598.6,339.4 600.4,339.4 600.4,343.3 598.6,343.3 598.6,343.5 596.8,343.5 596.8,343.1 595.0,343.1 595.0,343.1 593.2,343.1 593.2,343.2 591.4,343.2 591.4,344.4 589.6,344.4 589.6,343.3 587.8,343.3 587.8,343.8 586.0,343.8 586.0,343.9 584.2,343.9 584.2,343.2 582.4,343.2 582.4,343.9 580.6,343.9 580.6,343.7 578.8,343.7 578.8,342.9 577.0,342.9 577.0,342.6 575.2,342.6 575.2,343.0 573.4,343.0 573.4,342.5 571.6,342.5 571.6,342.4 569.8,342.4 569.8,343.1 568.0,343.1 568.0,343.0 566.2,343.0 566.2,341.9 564.4,341.9 564.4,342.0 562.6,342.0 562.6,341.8 560.8,341.8 560.8,341.6 559.0,341.6 559.0,341.3 557.2,341.3 557.2,340.9 555.4,340.9 555.4,340.7 553.6,340.7 553.6,340.4 551.8,340.4 551.8,340.3 550.0,340.3 550.0,339.8 548.2,339.8 548.2,339.5 546.4,339.5 546.4,339.7 544.6,339.7 544.6,339.2 542.8,339.2 542.8,339.5 541.0,339.5 541.0,339.0 539.2,339.0 539.2,338.7 537.4,338.7 537.4,338.7 535.6,338.7 535.6,338.9 533.8,338.9 533.8,338.6 532.0,338.6 532.0,338.2 530.2,338.2 530.2,339.0 528.4,339.0 528.4,338.0 526.6,338.0 526.6,338.3 524.8,338.3 524.8,337.7 523.0,337.7 523.0,338.1 521.2,338.1 521.2,337.4 519.4,337.4 519.4,337.2 517.6,337.2 517.6,337.6 515.8,337.6 515.8,337.4 514.0,337.4 514.0,337.2 512.2,337.2 512.2,336.5 510.4,336.5 510.4,336.7 508.6,336.7 508.6,336.1 506.8,336.1 506.8,336.0 505.0,336.0 505.0,336.7 503.2,336.7 503.2,335.9 501.4,335.9 501.4,336.1 499.6,336.1 499.6,335.2 497.8,335.2 497.8,335.1 496.0,335.1 496.0,335.4 494.2,335.4 494.2,334.8 492.4,334.8 492.4,335.0 490.6,335.0 490.6,335.8 488.8,335.8 488.8,334.0 487.0,334.0 487.0,333.8 485.2,333.8 485.2,334.3 483.4,334.3 483.4,333.4 481.6,333.4 481.6,333.3 479.8,333.3 479.8,332.7 478.0,332.7 478.0,332.7 476.2,332.7 476.2,332.4 474.4,332.4 474.4,333.6 472.6,333.6 472.6,332.2 470.8,332.2 470.8,331.1 469.0,331.1 469.0,331.5 467.2,331.5 467.2,330.7 465.4,330.7"/>
</g></defs>
</g>
<clipPath id="h2"><rect x="372.6" y="33.8" width="240.4" height="321.2"/></clipPath>
<use href="#band2" fill="#fff" stroke="#fff" stroke-width="3.2" stroke-linejoin="round" clip-path="url(#h2)"/>
<g clip-path="url(#c2)">
<polyline points="424.3,312.0 465.4,328.2" fill="none" stroke="#02968f" stroke-width="2.2"/>
<use href="#band2" fill="#02968f"/>
<rect x="389.1" y="37.2" width="3.2" height="3.2" rx="1.3" fill="#03302e" opacity="0.75"/>
<circle cx="419.2" cy="340.6" r="1.6" fill="#02968f"/>
<circle cx="423.1" cy="238.1" r="1.6" fill="#02968f"/>
<circle cx="467.2" cy="109.6" r="1.6" fill="#02968f"/>
<circle cx="470.4" cy="121.3" r="1.6" fill="#02968f"/>
<circle cx="474.3" cy="103.1" r="1.6" fill="#04706b"/>
<circle cx="478.0" cy="138.8" r="1.6" fill="#02968f"/>
<circle cx="481.4" cy="92.6" r="1.6" fill="#02968f"/>
<circle cx="485.2" cy="81.7" r="1.6" fill="#02968f"/>
<circle cx="489.0" cy="97.0" r="1.6" fill="#04706b"/>
<circle cx="492.5" cy="97.5" r="1.6" fill="#04706b"/>
<circle cx="496.3" cy="105.3" r="1.6" fill="#02968f"/>
<circle cx="500.0" cy="97.5" r="1.6" fill="#04706b"/>
<circle cx="503.3" cy="73.5" r="1.6" fill="#02968f"/>
<circle cx="507.0" cy="111.4" r="1.6" fill="#02968f"/>
<circle cx="510.5" cy="106.3" r="1.6" fill="#02968f"/>
<circle cx="514.3" cy="108.7" r="1.6" fill="#02968f"/>
<circle cx="518.0" cy="84.4" r="1.6" fill="#02968f"/>
<circle cx="521.5" cy="84.4" r="1.6" fill="#02968f"/>
<circle cx="525.2" cy="97.5" r="1.6" fill="#04706b"/>
<circle cx="529.0" cy="80.6" r="1.6" fill="#02968f"/>
<circle cx="532.5" cy="66.8" r="1.6" fill="#02968f"/>
<circle cx="536.3" cy="111.4" r="1.6" fill="#02968f"/>
<circle cx="540.0" cy="73.0" r="1.6" fill="#02968f"/>
<circle cx="543.5" cy="72.0" r="1.6" fill="#02968f"/>
<circle cx="547.2" cy="90.0" r="1.6" fill="#02968f"/>
<circle cx="551.2" cy="75.5" r="1.6" fill="#02968f"/>
<circle cx="554.3" cy="59.3" r="1.6" fill="#02968f"/>
<circle cx="558.3" cy="86.0" r="1.6" fill="#02968f"/>
<circle cx="562.1" cy="58.0" r="1.6" fill="#02968f"/>
<circle cx="565.3" cy="63.1" r="1.6" fill="#02968f"/>
<circle cx="569.3" cy="58.0" r="1.6" fill="#02968f"/>
<circle cx="573.0" cy="58.6" r="1.6" fill="#02968f"/>
<circle cx="576.5" cy="72.3" r="1.6" fill="#02968f"/>
<circle cx="580.2" cy="50.5" r="1.6" fill="#02968f"/>
<circle cx="584.0" cy="55.3" r="1.6" fill="#02968f"/>
<circle cx="587.3" cy="59.3" r="1.6" fill="#02968f"/>
<circle cx="591.0" cy="53.1" r="1.6" fill="#02968f"/>
<circle cx="594.8" cy="53.1" r="1.6" fill="#02968f"/>
<circle cx="598.3" cy="53.1" r="1.6" fill="#02968f"/>
<circle cx="602.2" cy="61.3" r="1.6" fill="#02968f"/>
</g>
<rect x="515.0" y="186.0" width="93.2" height="19.4" rx="2" fill="#f0f0f0" fill-opacity="0.85" stroke="#e6e6e6" stroke-width="0.8"/>
<rect x="547.0" y="187.5" width="58" height="16.4" rx="3" fill="#ffffff" opacity="0.85"/>
<circle cx="530.7" cy="196.2" r="4" fill="#ffffff" opacity="0.8"/>
<circle cx="530.7" cy="196.2" r="1.7" fill="#03302e"/>
<text transform="translate(550.0,198.7) scale(1.03,1)" font-size="10.6" text-anchor="start" fill="#111111" font-weight="normal" font-family="'DejaVu Sans', 'Liberation Sans', sans-serif" stroke="#111" stroke-width="0.3">mAP@0.5</text>
<line x1="697.8" y1="355.0" x2="936.0" y2="355.0" stroke="#e8e8e8" stroke-width="1.8"/>
<text transform="translate(689.8,358.8) scale(1.05,1)" font-size="10.5" text-anchor="end" fill="#262626" font-weight="normal" font-family="'DejaVu Sans', 'Liberation Sans', sans-serif" stroke="#262626" stroke-width="0.15">0</text>
<line x1="697.8" y1="291.3" x2="936.0" y2="291.3" stroke="#e8e8e8" stroke-width="1.8"/>
<text transform="translate(689.8,295.1) scale(1.05,1)" font-size="10.5" text-anchor="end" fill="#262626" font-weight="normal" font-family="'DejaVu Sans', 'Liberation Sans', sans-serif" stroke="#262626" stroke-width="0.15">1</text>
<line x1="697.8" y1="227.5" x2="936.0" y2="227.5" stroke="#e8e8e8" stroke-width="1.8"/>
<text transform="translate(689.8,231.3) scale(1.05,1)" font-size="10.5" text-anchor="end" fill="#262626" font-weight="normal" font-family="'DejaVu Sans', 'Liberation Sans', sans-serif" stroke="#262626" stroke-width="0.15">2</text>
<line x1="697.8" y1="163.8" x2="936.0" y2="163.8" stroke="#e8e8e8" stroke-width="1.8"/>
<text transform="translate(689.8,167.6) scale(1.05,1)" font-size="10.5" text-anchor="end" fill="#262626" font-weight="normal" font-family="'DejaVu Sans', 'Liberation Sans', sans-serif" stroke="#262626" stroke-width="0.15">3</text>
<line x1="697.8" y1="100.0" x2="936.0" y2="100.0" stroke="#e8e8e8" stroke-width="1.8"/>
<text transform="translate(689.8,103.8) scale(1.05,1)" font-size="10.5" text-anchor="end" fill="#262626" font-weight="normal" font-family="'DejaVu Sans', 'Liberation Sans', sans-serif" stroke="#262626" stroke-width="0.15">4</text>
<line x1="697.8" y1="36.3" x2="936.0" y2="36.3" stroke="#e8e8e8" stroke-width="1.8"/>
<text transform="translate(689.8,40.1) scale(1.05,1)" font-size="10.5" text-anchor="end" fill="#262626" font-weight="normal" font-family="'DejaVu Sans', 'Liberation Sans', sans-serif" stroke="#262626" stroke-width="0.15">5</text>
<line x1="696.8" y1="36.3" x2="696.8" y2="355.5" stroke="#eeeeee" stroke-width="1.6"/>
<line x1="937.8" y1="36.3" x2="937.8" y2="355.5" stroke="#f3f3f3" stroke-width="1.8"/>
<text transform="translate(707.3,369.2) scale(1.05,1)" font-size="10.5" text-anchor="middle" fill="#262626" font-weight="normal" font-family="'DejaVu Sans', 'Liberation Sans', sans-serif" stroke="#262626" stroke-width="0.15">0</text>
<text transform="translate(743.8,369.2) scale(1.05,1)" font-size="10.5" text-anchor="middle" fill="#262626" font-weight="normal" font-family="'DejaVu Sans', 'Liberation Sans', sans-serif" stroke="#262626" stroke-width="0.15">1000</text>
<text transform="translate(780.2,369.2) scale(1.05,1)" font-size="10.5" text-anchor="middle" fill="#262626" font-weight="normal" font-family="'DejaVu Sans', 'Liberation Sans', sans-serif" stroke="#262626" stroke-width="0.15">2000</text>
<text transform="translate(816.7,369.2) scale(1.05,1)" font-size="10.5" text-anchor="middle" fill="#262626" font-weight="normal" font-family="'DejaVu Sans', 'Liberation Sans', sans-serif" stroke="#262626" stroke-width="0.15">3000</text>
<text transform="translate(853.2,369.2) scale(1.05,1)" font-size="10.5" text-anchor="middle" fill="#262626" font-weight="normal" font-family="'DejaVu Sans', 'Liberation Sans', sans-serif" stroke="#262626" stroke-width="0.15">4000</text>
<text transform="translate(889.6,369.2) scale(1.05,1)" font-size="10.5" text-anchor="middle" fill="#262626" font-weight="normal" font-family="'DejaVu Sans', 'Liberation Sans', sans-serif" stroke="#262626" stroke-width="0.15">5000</text>
<text transform="translate(926.1,369.2) scale(1.05,1)" font-size="10.5" text-anchor="middle" fill="#262626" font-weight="normal" font-family="'DejaVu Sans', 'Liberation Sans', sans-serif" stroke="#262626" stroke-width="0.15">6000</text>
<text transform="translate(816.8,384.3) scale(1.01,1)" font-size="14.4" text-anchor="middle" fill="#1a1a1a" font-weight="normal" font-family="'DejaVu Sans', 'Liberation Sans', sans-serif" stroke="#1a1a1a" stroke-width="0.15">Iterations</text>
<text transform="translate(816.8,31.7) scale(1.015,1)" font-size="17.0" text-anchor="middle" fill="#111111" font-weight="normal" font-family="'DejaVu Sans', 'Liberation Sans', sans-serif" stroke="#111111" stroke-width="0.15">YOLOv4-tiny-608</text>
<text transform="translate(943.0,96.9) scale(0.9,1)" font-size="9.6" text-anchor="start" fill="#2a2a2a" font-weight="normal" font-family="'DejaVu Sans', 'Liberation Sans', sans-serif" stroke="#2a2a2a" stroke-width="0.3">80</text>
<text transform="translate(943.0,165.9) scale(0.9,1)" font-size="9.6" text-anchor="start" fill="#2a2a2a" font-weight="normal" font-family="'DejaVu Sans', 'Liberation Sans', sans-serif" stroke="#2a2a2a" stroke-width="0.3">75</text>
<text transform="translate(943.0,235.0) scale(0.9,1)" font-size="9.6" text-anchor="start" fill="#2a2a2a" font-weight="normal" font-family="'DejaVu Sans', 'Liberation Sans', sans-serif" stroke="#2a2a2a" stroke-width="0.3">70</text>
<text transform="translate(943.0,304.1) scale(0.9,1)" font-size="9.6" text-anchor="start" fill="#2a2a2a" font-weight="normal" font-family="'DejaVu Sans', 'Liberation Sans', sans-serif" stroke="#2a2a2a" stroke-width="0.3">65</text>
<text transform="translate(975.9,195.7) rotate(-90) scale(1,1.05)" font-size="14.6" text-anchor="middle" fill="#1a1a1a" font-family="'DejaVu Sans', 'Liberation Sans', sans-serif" stroke="#1a1a1a" stroke-width="0.15">Mean Average Precision at 50% IoU Threshold</text>
<clipPath id="c3"><rect x="696.8" y="37.2" width="240.0" height="317.8"/></clipPath>
<g clip-path="url(#c3)">
<circle cx="743.3" cy="341.0" r="3.2" fill="#fff"/>
<circle cx="747.1" cy="272.3" r="3.2" fill="#fff"/>
<circle cx="751.0" cy="288.4" r="3.2" fill="#fff"/>
<circle cx="754.3" cy="270.7" r="3.2" fill="#fff"/>
<circle cx="758.1" cy="218.4" r="3.2" fill="#fff"/>
<circle cx="762.0" cy="175.6" r="3.2" fill="#fff"/>
<circle cx="765.1" cy="210.3" r="3.2" fill="#fff"/>
<circle cx="769.2" cy="187.2" r="3.2" fill="#fff"/>
<circle cx="773.0" cy="176.6" r="3.2" fill="#fff"/>
<circle cx="776.3" cy="165.7" r="3.2" fill="#fff"/>
<circle cx="780.1" cy="163.5" r="3.2" fill="#fff"/>
<circle cx="783.5" cy="144.2" r="3.2" fill="#fff"/>
<circle cx="787.3" cy="141.4" r="3.2" fill="#fff"/>
<circle cx="791.1" cy="156.3" r="3.2" fill="#fff"/>
<circle cx="794.5" cy="178.2" r="3.2" fill="#fff"/>
<circle cx="798.1" cy="189.8" r="3.2" fill="#fff"/>
<circle cx="802.0" cy="164.5" r="3.2" fill="#fff"/>
<circle cx="805.4" cy="139.2" r="3.2" fill="#fff"/>
<circle cx="809.2" cy="164.5" r="3.2" fill="#fff"/>
<circle cx="813.0" cy="111.9" r="3.2" fill="#fff"/>
<circle cx="816.4" cy="109.7" r="3.2" fill="#fff"/>
<circle cx="820.2" cy="111.9" r="3.2" fill="#fff"/>
<circle cx="824.0" cy="104.1" r="3.2" fill="#fff"/>
<circle cx="827.3" cy="108.1" r="3.2" fill="#fff"/>
<circle cx="831.1" cy="123.8" r="3.2" fill="#fff"/>
<circle cx="834.9" cy="133.2" r="3.2" fill="#fff"/>
<circle cx="838.3" cy="122.9" r="3.2" fill="#fff"/>
<circle cx="842.1" cy="96.4" r="3.2" fill="#fff"/>
<circle cx="845.9" cy="109.1" r="3.2" fill="#fff"/>
<circle cx="849.3" cy="110.3" r="3.2" fill="#fff"/>
<circle cx="853.0" cy="117.3" r="3.2" fill="#fff"/>
<circle cx="856.8" cy="91.0" r="3.2" fill="#fff"/>
<circle cx="860.2" cy="76.8" r="3.2" fill="#fff"/>
<circle cx="864.0" cy="73.8" r="3.2" fill="#fff"/>
<circle cx="868.0" cy="69.5" r="3.2" fill="#fff"/>
<circle cx="871.2" cy="112.3" r="3.2" fill="#fff"/>
<circle cx="875.0" cy="81.2" r="3.2" fill="#fff"/>
<circle cx="878.9" cy="128.2" r="3.2" fill="#fff"/>
<circle cx="882.1" cy="85.4" r="3.2" fill="#fff"/>
<circle cx="885.9" cy="83.8" r="3.2" fill="#fff"/>
<circle cx="889.5" cy="61.9" r="3.2" fill="#fff"/>
<circle cx="893.3" cy="74.4" r="3.2" fill="#fff"/>
<circle cx="897.1" cy="69.5" r="3.2" fill="#fff"/>
<circle cx="900.3" cy="70.9" r="3.2" fill="#fff"/>
<circle cx="904.0" cy="62.3" r="3.2" fill="#fff"/>
<circle cx="907.8" cy="60.7" r="3.2" fill="#fff"/>
<circle cx="911.2" cy="58.7" r="3.2" fill="#fff"/>
<circle cx="915.0" cy="50.3" r="3.2" fill="#fff"/>
<circle cx="919.0" cy="63.5" r="3.2" fill="#fff"/>
<circle cx="922.4" cy="56.9" r="3.2" fill="#fff"/>
<circle cx="926.1" cy="50.3" r="3.2" fill="#fff"/>
<defs><g id="band3">
<polygon points="712.6,20.0 712.6,21.1 712.6,21.4 712.6,22.1 712.6,22.8 712.6,23.5 712.6,24.2 712.6,24.9 712.6,25.6 712.6,26.3 712.6,27.0 712.6,27.7 712.6,28.4 712.6,29.1 712.6,29.8 712.6,30.5 712.6,31.2 712.6,31.9 712.6,32.6 712.6,33.3 712.6,34.0 712.6,34.7 712.6,35.4 712.6,36.1 712.6,36.8 712.6,37.5 712.6,38.2 712.6,38.9 712.6,39.6 712.6,40.3 712.6,41.0 712.7,41.7 712.7,42.4 712.7,43.1 712.7,43.8 712.7,44.5 712.7,45.2 712.7,45.9 712.7,46.6 712.7,47.3 712.7,48.0 712.7,48.7 712.7,49.4 712.7,50.1 712.7,50.8 712.7,51.5 712.7,52.2 712.7,52.9 712.7,53.6 712.7,54.3 712.7,55.0 712.7,55.7 712.7,56.4 712.7,57.1 712.7,57.8 712.7,58.5 712.7,59.2 712.7,59.9 712.7,60.6 712.7,61.3 712.7,62.0 712.7,62.7 712.7,63.4 712.7,64.1 712.7,64.8 712.7,65.5 712.7,66.2 712.7,66.9 712.7,67.6 712.7,68.3 712.8,69.0 712.8,69.7 712.8,70.4 712.8,71.1 712.8,71.8 712.8,72.5 712.8,73.2 712.8,73.9 712.8,74.6 712.8,75.3 712.8,76.0 712.8,76.7 712.8,77.4 712.8,78.1 712.8,78.8 712.8,79.5 712.8,80.2 712.8,80.9 712.8,81.6 712.8,82.3 712.8,83.0 712.8,83.7 712.8,84.4 712.8,85.1 712.8,85.8 712.8,86.5 712.8,87.2 712.8,87.9 712.8,88.6 712.8,89.3 712.8,90.0 712.8,90.7 712.8,91.4 712.8,92.1 712.8,92.8 712.8,93.5 712.8,94.2 712.8,94.9 712.8,95.6 712.9,96.3 712.9,97.0 712.9,97.7 712.9,98.4 712.9,99.1 712.9,99.8 712.9,100.5 712.9,101.2 712.9,101.9 712.9,102.6 712.9,103.3 712.9,104.1 712.9,104.8 712.9,105.5 712.9,106.2 712.9,106.9 712.9,107.6 712.9,108.3 712.9,109.0 712.9,109.7 712.9,110.4 712.9,111.1 712.9,111.8 712.9,112.5 712.9,113.2 712.9,113.9 712.9,114.6 712.9,115.3 712.9,116.0 712.9,116.7 712.9,117.4 712.9,118.1 712.9,118.8 712.9,119.5 712.9,120.2 712.9,120.9 712.9,121.6 712.9,122.3 712.9,123.0 712.9,123.7 713.0,124.4 713.0,125.1 713.0,125.8 713.0,126.5 713.0,127.2 713.0,127.9 713.0,128.6 713.0,129.3 713.0,130.0 713.0,130.7 713.0,131.4 713.0,132.1 713.0,132.8 713.0,133.5 713.0,134.2 713.0,134.9 713.0,135.6 713.0,136.3 713.0,137.0 713.0,137.7 713.0,138.4 713.0,139.1 713.0,139.8 713.0,140.5 713.0,141.2 713.0,141.9 713.0,142.6 713.0,143.3 713.0,144.0 713.0,144.7 713.0,145.4 713.0,146.1 713.0,146.8 713.0,147.5 713.0,148.2 713.0,148.9 713.0,149.6 713.0,150.3 713.0,151.0 713.1,151.7 713.1,152.4 713.1,153.1 713.1,153.8 713.1,154.5 713.1,155.2 713.1,155.9 713.1,156.6 713.1,157.3 713.1,158.0 713.1,158.7 713.1,159.4 713.1,160.1 713.1,160.8 713.1,161.5 713.1,162.2 713.1,162.9 713.1,163.6 713.1,164.3 713.1,165.0 713.1,165.7 713.1,166.4 713.1,167.1 713.1,167.8 713.1,168.5 713.1,169.2 713.1,169.9 713.1,170.6 713.1,171.3 713.1,172.0 713.1,172.7 713.1,173.4 713.1,174.1 713.1,174.8 713.1,175.5 713.1,176.2 713.1,176.9 713.1,177.6 713.1,178.3 713.2,179.0 713.2,179.7 713.2,180.4 713.2,181.1 713.2,181.8 713.2,182.5 713.2,183.2 713.2,183.9 713.2,184.6 713.2,185.3 713.2,186.0 713.2,186.7 713.2,187.4 713.2,188.1 713.2,188.8 713.2,189.5 713.2,190.2 713.2,190.9 713.2,191.6 713.2,192.3 713.2,193.0 713.2,193.7 713.2,194.4 713.2,195.1 713.2,195.8 713.2,196.5 713.2,197.2 713.2,197.9 713.2,198.6 713.2,199.3 713.2,200.0 713.2,200.7 713.3,201.4 713.3,202.1 713.3,202.8 713.3,203.5 713.3,204.2 713.3,204.9 713.3,205.6 713.3,206.3 713.4,207.0 713.4,207.7 713.4,208.4 713.4,209.2 713.4,209.9 713.4,210.6 713.4,211.3 713.4,212.0 713.4,212.7 713.5,213.4 713.5,214.1 713.5,214.8 713.5,215.5 713.5,216.2 713.5,216.9 713.5,217.6 713.5,218.3 713.6,219.0 713.6,219.7 713.6,220.4 713.6,221.1 713.6,221.8 713.6,222.5 713.6,223.2 713.6,223.9 713.7,224.6 713.7,225.3 713.7,226.0 713.7,226.8 713.7,227.5 713.8,228.3 713.8,229.0 713.8,229.7 713.9,230.5 714.1,231.2 713.7,232.0 713.5,232.7 714.1,233.4 713.9,234.1 715.1,234.7 713.2,235.7 714.0,236.4 713.7,237.2 714.5,237.8 714.8,238.5 714.4,239.4 714.9,240.0 714.7,240.8 715.8,241.2 714.7,242.3 714.9,243.0 716.2,243.4 716.5,244.0 716.5,244.8 717.1,245.3 715.8,246.4 716.7,246.9 716.6,247.7 717.7,248.1 717.7,248.8 717.4,249.7 717.6,250.3 717.0,251.2 717.8,251.8 719.0,252.2 719.4,252.9 717.8,254.0 717.9,254.8 718.4,255.4 718.3,256.2 718.5,256.9 718.6,257.6 719.3,258.2 718.7,259.1 720.1,259.5 720.9,260.0 719.5,261.1 720.7,261.6 720.2,262.5 720.3,263.2 721.7,263.6 721.0,264.5 720.7,265.4 721.4,265.9 721.3,266.7 721.4,267.4 722.1,267.9 721.9,268.7 723.3,269.1 722.1,270.1 723.7,270.4 723.9,271.1 721.5,272.4 722.9,272.8 722.3,273.7 723.2,274.2 724.2,274.6 724.7,275.2 723.9,276.2 723.7,276.9 724.4,277.5 724.7,278.1 724.0,279.1 724.5,279.7 725.5,280.2 725.9,280.9 724.6,282.2 725.8,282.5 726.4,283.0 726.5,283.7 726.5,284.5 726.7,285.2 727.1,285.8 727.9,286.2 727.6,287.1 727.6,287.8 727.1,288.8 728.8,288.9 729.3,289.4 727.7,290.8 729.9,290.7 729.7,291.7 729.8,292.5 730.1,293.3 731.5,293.4 730.6,295.1 732.6,294.6 732.3,295.9 732.6,296.5 733.1,297.1 733.7,297.5 735.1,297.4 735.5,298.0 734.8,299.6 735.8,299.7 735.5,300.9 736.0,301.4 736.8,301.7 737.8,301.8 738.3,302.3 738.8,302.9 739.2,303.5 739.8,304.0 738.6,305.8 739.2,306.3 739.3,307.1 741.8,306.2 741.4,307.4 742.2,307.7 742.4,308.5 741.9,309.8 744.0,309.1 744.0,310.2 744.2,310.9 745.1,311.2 745.0,312.3 745.0,313.3 745.9,313.5 746.6,313.8 747.0,314.4 748.2,314.1 748.1,315.3 749.1,315.3 749.3,316.1 749.8,316.5 749.8,317.6 751.5,316.9 751.5,318.0 752.1,318.5 753.0,318.7 753.3,319.6 754.0,320.0 754.8,320.1 755.2,320.8 756.3,320.5 756.4,321.7 757.6,321.2 758.2,321.5 759.0,321.7 759.2,322.8 759.9,322.9 760.5,323.5 761.2,323.7 761.9,324.1 762.7,324.3 763.4,324.6 764.0,325.1 764.7,325.3 765.4,325.6 766.1,325.6 766.7,326.0 767.4,326.3 768.0,326.5 768.7,326.7 769.4,326.9 770.0,327.2 770.6,327.6 771.3,327.7 772.0,328.1 772.6,328.3 773.3,328.6 774.0,328.8 774.6,329.2 775.3,329.4 776.1,329.6 776.8,329.7 777.5,329.8 778.2,330.0 778.9,330.1 779.6,330.3 780.3,330.3 781.0,330.4 781.6,330.7 782.3,330.8 783.0,331.0 783.7,331.0 784.4,331.1 785.1,331.4 785.8,331.5 786.5,331.6 787.2,331.7 787.9,331.9 788.6,332.0 789.3,332.1 790.0,332.3 790.6,332.5 791.3,332.6 792.0,332.7 792.7,332.9 793.4,332.9 794.1,333.1 794.8,333.3 795.5,333.4 796.2,333.5 796.9,333.6 797.6,333.7 798.3,334.0 799.0,334.1 799.7,334.2 800.4,334.4 801.1,334.6 801.9,334.6 802.6,334.7 803.3,334.9 804.1,335.0 804.8,335.0 805.5,335.2 806.2,335.4 807.0,335.3 807.7,335.5 808.4,335.7 809.2,335.8 809.9,336.0 810.6,336.1 811.3,336.1 812.0,336.3 812.8,336.3 813.5,336.5 814.1,336.8 814.8,336.8 815.5,337.1 816.2,337.1 816.9,337.4 817.6,337.6 818.3,337.7 819.0,337.9 819.7,338.1 820.4,338.1 821.0,338.4 821.7,338.6 822.5,338.7 823.1,338.9 823.9,339.0 824.6,339.1 825.3,339.4 826.1,339.5 826.8,339.5 827.5,339.5 828.2,339.6 828.9,339.7 829.7,339.8 830.4,339.8 831.1,339.9 831.8,339.8 832.5,340.0 833.2,339.9 833.9,340.1 834.6,340.2 835.3,340.2 836.0,340.3 836.8,340.3 837.5,340.4 838.2,340.4 838.9,340.4 839.6,340.6 840.4,340.6 841.1,340.6 841.9,340.6 842.6,340.6 843.3,340.6 844.1,340.6 844.8,340.6 845.5,340.6 846.3,340.5 847.0,340.7 847.8,340.7 848.5,340.6 849.2,340.5 850.0,340.6 850.7,340.7 851.6,340.6 852.4,340.4 853.2,340.1 854.1,339.9 854.7,339.3 855.3,338.7 855.8,338.1 856.3,337.7 856.7,337.4 857.2,337.3 857.5,337.0 858.1,337.1 858.7,337.1 859.4,337.2 860.1,337.3 860.8,337.3 861.5,337.3 862.3,337.4 863.0,337.5 863.7,337.5 864.4,337.6 865.1,337.7 865.9,337.8 866.6,337.9 867.3,338.0 868.0,338.0 868.7,338.1 869.4,338.2 870.2,338.2 870.9,338.3 871.6,338.4 872.3,338.5 873.0,338.6 873.7,338.7 874.4,338.7 875.2,338.8 875.9,338.8 876.6,338.9 877.3,339.0 878.0,339.1 878.7,339.2 879.4,339.3 880.0,339.4 880.6,339.7 881.2,340.0 881.9,340.1 882.5,340.3 883.2,340.6 883.8,340.8 884.5,341.0 885.2,341.3 885.8,341.5 886.5,341.8 887.2,342.0 887.8,342.3 888.5,342.6 889.2,342.8 890.0,342.8 890.8,343.0 891.5,343.2 892.2,343.1 893.0,343.2 893.7,343.2 894.4,343.2 895.1,343.3 895.8,343.4 896.5,343.3 897.2,343.2 897.9,343.3 898.6,343.4 899.3,343.3 900.0,343.5 900.7,343.3 901.4,343.4 902.1,343.5 902.8,343.5 903.5,343.5 904.2,343.4 904.9,343.6 905.6,343.6 906.3,343.6 907.0,343.6 907.7,343.6 908.4,343.6 909.1,343.6 909.9,343.8 910.6,343.6 911.3,343.6 912.0,343.6 912.8,343.5 913.5,343.6 914.2,343.6 915.0,343.6 915.7,343.6 916.4,343.6 917.1,343.5 917.9,343.6 918.6,343.6 919.3,343.6 920.0,343.6 920.8,343.6 921.5,343.6 922.2,343.6 922.9,343.6 923.6,343.6 924.0,343.7 925.1,343.6 925.1,341.2 924.0,341.3 923.6,341.2 922.9,341.3 922.2,341.2 921.5,341.3 920.8,341.3 920.0,341.2 919.3,341.2 918.6,341.2 917.9,341.1 917.1,341.2 916.4,341.2 915.7,341.2 915.0,341.2 914.2,341.2 913.5,341.2 912.8,341.2 912.0,341.3 911.3,341.1 910.6,341.3 909.9,341.2 909.2,341.2 908.4,341.1 907.7,341.2 907.0,341.1 906.3,341.2 905.6,341.1 904.9,341.2 904.2,341.1 903.5,341.0 902.8,341.1 902.1,341.0 901.4,340.9 900.7,341.0 900.0,340.9 899.3,340.9 898.6,341.0 897.9,340.9 897.2,340.9 896.5,340.9 895.8,341.0 895.1,340.7 894.4,340.8 893.7,340.8 893.0,340.8 892.4,340.8 891.7,340.7 891.1,340.7 890.5,340.5 889.8,340.5 889.2,340.3 888.6,340.0 888.0,339.8 887.3,339.7 886.7,339.3 886.0,339.0 885.4,338.8 884.7,338.6 884.0,338.3 883.4,337.9 882.7,337.8 882.0,337.6 881.3,337.4 880.6,337.1 879.8,337.0 879.1,336.8 878.3,336.9 877.6,336.6 876.9,336.6 876.2,336.4 875.5,336.3 874.7,336.3 874.0,336.3 873.3,336.2 872.6,336.0 871.9,336.1 871.1,335.9 870.4,335.8 869.7,335.7 869.0,335.7 868.3,335.6 867.5,335.5 866.8,335.5 866.1,335.3 865.4,335.3 864.6,335.3 863.9,335.3 863.2,335.2 862.5,335.1 861.8,334.9 861.0,334.9 860.3,334.9 859.6,334.8 858.8,334.7 858.0,334.6 857.2,334.6 856.3,335.0 855.5,335.3 854.8,335.8 854.2,336.4 853.7,336.9 853.2,337.4 852.7,337.7 852.3,338.0 851.9,338.2 851.3,338.1 850.7,338.3 850.0,338.2 849.2,338.2 848.5,338.2 847.8,338.2 847.0,338.1 846.3,338.3 845.5,338.1 844.8,338.2 844.1,338.3 843.3,338.3 842.6,338.3 841.9,338.2 841.2,338.3 840.5,338.1 839.8,338.1 839.1,338.0 838.4,338.1 837.7,337.9 837.0,337.8 836.2,337.7 835.5,337.9 834.8,337.7 834.1,337.7 833.4,337.7 832.7,337.6 832.0,337.6 831.3,337.4 830.6,337.4 829.9,337.3 829.1,337.3 828.4,337.3 827.7,337.1 827.0,337.1 826.4,337.0 825.7,336.9 825.0,336.8 824.4,336.7 823.7,336.7 823.0,336.4 822.3,336.3 821.6,335.9 820.9,335.8 820.2,335.8 819.5,335.6 818.8,335.4 818.2,335.1 817.5,335.0 816.8,334.8 816.1,334.7 815.3,334.6 814.7,334.3 813.9,334.2 813.2,334.1 812.5,333.9 811.8,333.7 811.0,333.7 810.3,333.5 809.6,333.3 808.8,333.3 808.1,333.1 807.4,333.1 806.6,333.0 805.9,332.8 805.2,332.7 804.4,332.6 803.7,332.5 803.0,332.4 802.3,332.2 801.5,332.1 800.8,332.0 800.1,331.9 799.4,331.7 798.7,331.7 798.1,331.4 797.4,331.4 796.7,331.1 795.9,331.2 795.3,330.9 794.6,330.7 793.9,330.4 793.2,330.5 792.5,330.4 791.8,330.3 791.1,330.1 790.4,329.9 789.7,329.8 789.1,329.5 788.3,329.5 787.6,329.4 787.0,329.2 786.3,329.1 785.6,329.0 784.9,328.7 784.2,328.7 783.5,328.4 782.8,328.5 782.1,328.3 781.4,328.2 780.8,328.0 780.1,327.9 779.4,327.7 778.7,327.6 778.0,327.4 777.3,327.3 776.7,327.2 776.1,327.0 775.4,326.9 774.8,326.5 774.2,326.3 773.5,326.1 772.8,325.8 772.2,325.6 771.5,325.3 770.9,325.1 770.2,324.9 769.6,324.5 768.9,324.2 768.3,323.9 767.6,323.8 766.9,323.5 766.3,323.2 765.6,323.0 765.0,322.7 764.3,322.5 763.9,321.9 763.4,321.4 762.9,321.0 762.3,320.7 761.7,320.3 761.1,319.7 760.2,319.9 760.0,318.7 758.9,319.1 758.5,318.3 757.8,318.2 757.2,317.8 756.5,317.4 755.7,317.3 755.6,316.2 754.6,316.5 754.9,315.1 754.5,314.5 752.9,315.4 753.4,313.8 752.6,313.7 751.9,313.4 751.8,312.5 750.6,312.7 750.8,311.5 749.8,311.6 749.4,311.0 749.0,310.4 748.9,309.5 749.1,308.4 747.7,308.8 747.5,308.1 746.1,308.4 745.9,307.7 746.6,306.2 745.2,306.3 744.5,306.0 744.4,305.2 745.3,303.6 744.1,303.5 743.9,302.7 743.3,302.3 743.3,301.4 742.3,301.2 742.1,300.4 741.0,300.3 741.5,299.0 741.3,298.2 740.4,297.9 739.2,297.9 739.1,297.0 738.7,296.3 738.3,295.8 737.2,295.6 736.2,295.5 736.8,294.1 736.0,293.8 736.0,292.7 735.4,292.3 735.4,291.4 733.5,292.0 734.5,290.7 734.3,290.2 732.6,290.3 733.0,289.4 733.0,288.7 732.7,288.1 731.9,287.6 732.1,286.8 731.8,286.2 732.9,285.0 730.4,285.2 731.2,284.1 731.5,283.3 731.8,282.4 730.2,282.3 729.3,281.8 729.0,281.2 729.1,280.5 729.5,279.6 729.9,278.8 729.1,278.4 728.8,277.8 728.6,277.2 728.3,276.5 729.1,275.6 728.0,275.1 727.7,274.5 728.6,273.6 727.9,273.0 726.8,272.5 726.7,271.8 727.2,271.0 726.9,270.3 728.1,269.3 726.8,268.9 727.0,268.2 725.6,267.8 726.4,266.8 724.9,266.5 726.9,265.3 725.7,264.8 724.4,264.4 725.3,263.5 726.4,262.4 725.3,262.0 725.4,261.2 723.8,260.8 724.5,259.9 724.3,259.2 724.3,258.5 725.2,257.5 723.6,257.1 725.2,256.0 725.2,255.2 723.3,254.9 722.6,254.3 722.4,253.6 723.9,252.5 722.2,252.2 722.2,251.4 721.9,250.7 722.9,249.7 723.0,249.0 721.6,248.6 721.0,248.0 721.2,247.2 720.2,246.7 720.6,245.9 720.8,245.1 720.0,244.6 720.6,243.7 720.7,242.9 720.8,242.1 719.8,241.6 719.3,241.1 719.6,240.2 718.9,239.7 718.8,239.0 718.3,238.4 717.5,237.9 718.2,237.0 717.7,236.4 719.4,235.4 718.1,234.9 718.4,234.1 717.9,233.5 716.7,232.9 717.2,232.1 716.7,231.5 716.6,230.7 716.4,230.1 716.4,229.3 716.1,228.7 715.9,228.0 715.8,227.3 715.7,226.6 715.7,226.0 715.7,225.3 715.6,224.6 715.6,223.9 715.6,223.2 715.6,222.5 715.6,221.8 715.6,221.1 715.6,220.4 715.6,219.7 715.5,219.0 715.5,218.2 715.5,217.5 715.5,216.8 715.5,216.1 715.5,215.4 715.5,214.7 715.4,214.0 715.4,213.3 715.4,212.6 715.4,211.9 715.4,211.2 715.4,210.5 715.4,209.8 715.3,209.1 715.3,208.4 715.3,207.7 715.3,207.0 715.3,206.3 715.3,205.6 715.3,204.9 715.3,204.2 715.2,203.5 715.2,202.8 715.2,202.1 715.2,201.4 715.2,200.7 715.2,200.0 715.2,199.3 715.2,198.6 715.2,197.9 715.2,197.2 715.2,196.5 715.2,195.8 715.2,195.1 715.1,194.4 715.1,193.7 715.1,193.0 715.1,192.3 715.1,191.6 715.1,190.9 715.1,190.2 715.1,189.5 715.1,188.8 715.1,188.1 715.1,187.4 715.1,186.7 715.1,186.0 715.1,185.3 715.1,184.6 715.1,183.9 715.1,183.2 715.1,182.5 715.1,181.8 715.1,181.1 715.1,180.4 715.1,179.7 715.1,179.0 715.1,178.3 715.1,177.6 715.1,176.9 715.1,176.2 715.1,175.5 715.1,174.8 715.1,174.1 715.1,173.4 715.1,172.7 715.1,172.0 715.1,171.3 715.0,170.6 715.0,169.9 715.0,169.2 715.0,168.5 715.0,167.8 715.0,167.1 715.0,166.4 715.0,165.7 715.0,165.0 715.0,164.3 715.0,163.6 715.0,162.9 715.0,162.2 715.0,161.5 715.0,160.8 715.0,160.1 715.0,159.4 715.0,158.7 715.0,158.0 715.0,157.3 715.0,156.6 715.0,155.9 715.0,155.2 715.0,154.5 715.0,153.8 715.0,153.1 715.0,152.4 715.0,151.7 715.0,151.0 715.0,150.3 715.0,149.6 715.0,148.9 715.0,148.2 715.0,147.5 715.0,146.8 714.9,146.1 714.9,145.4 714.9,144.7 714.9,144.0 714.9,143.3 714.9,142.6 714.9,141.9 714.9,141.2 714.9,140.5 714.9,139.8 714.9,139.1 714.9,138.4 714.9,137.7 714.9,137.0 714.9,136.3 714.9,135.6 714.9,134.9 714.9,134.2 714.9,133.5 714.9,132.8 714.9,132.1 714.9,131.4 714.9,130.7 714.9,130.0 714.9,129.3 714.9,128.6 714.9,127.9 714.9,127.2 714.9,126.5 714.9,125.8 714.9,125.1 714.9,124.4 714.9,123.7 714.9,123.0 714.9,122.3 714.8,121.6 714.8,120.9 714.8,120.2 714.8,119.5 714.8,118.8 714.8,118.1 714.8,117.4 714.8,116.6 714.8,115.9 714.8,115.2 714.8,114.5 714.8,113.8 714.8,113.1 714.8,112.4 714.8,111.7 714.8,111.0 714.8,110.3 714.8,109.6 714.8,108.9 714.8,108.2 714.8,107.5 714.8,106.8 714.8,106.1 714.8,105.4 714.8,104.7 714.8,104.0 714.8,103.3 714.8,102.6 714.8,101.9 714.8,101.2 714.8,100.5 714.8,99.8 714.8,99.1 714.8,98.4 714.7,97.7 714.7,97.0 714.7,96.3 714.7,95.6 714.7,94.9 714.7,94.2 714.7,93.5 714.7,92.8 714.7,92.1 714.7,91.4 714.7,90.7 714.7,90.0 714.7,89.3 714.7,88.6 714.7,87.9 714.7,87.2 714.7,86.5 714.7,85.8 714.7,85.1 714.7,84.4 714.7,83.7 714.7,83.0 714.7,82.3 714.7,81.6 714.7,80.9 714.7,80.2 714.7,79.5 714.7,78.8 714.7,78.1 714.7,77.4 714.7,76.7 714.7,76.0 714.7,75.3 714.7,74.6 714.7,73.9 714.6,73.2 714.6,72.5 714.6,71.8 714.6,71.1 714.6,70.4 714.6,69.7 714.6,69.0 714.6,68.3 714.6,67.6 714.6,66.9 714.6,66.2 714.6,65.5 714.6,64.8 714.6,64.1 714.6,63.4 714.6,62.7 714.6,62.0 714.6,61.3 714.6,60.6 714.6,59.9 714.6,59.2 714.6,58.5 714.6,57.8 714.6,57.1 714.6,56.4 714.6,55.7 714.6,55.0 714.6,54.3 714.6,53.6 714.6,52.9 714.6,52.2 714.6,51.5 714.6,50.8 714.6,50.1 714.6,49.4 714.5,48.7 714.5,48.0 714.5,47.3 714.5,46.6 714.5,45.9 714.5,45.2 714.5,44.5 714.5,43.8 714.5,43.1 714.5,42.4 714.5,41.7 714.5,41.0 714.5,40.3 714.5,39.6 714.5,38.9 714.5,38.2 714.5,37.5 714.5,36.8 714.5,36.1 714.5,35.4 714.5,34.7 714.5,34.0 714.5,33.3 714.5,32.6 714.5,31.9 714.5,31.2 714.5,30.5 714.5,29.8 714.5,29.1 714.5,28.4 714.5,27.7 714.5,27.0 714.5,26.3 714.5,25.6 714.4,24.9 714.4,24.2 714.4,23.5 714.4,22.8 714.4,22.1 714.4,21.4 714.4,21.0 714.4,20.0"/>
<polygon points="713.5,208.8 715.3,208.8 715.3,233.8 717.1,233.8 717.1,239.9 718.9,239.9 718.9,247.1 720.7,247.1 720.7,254.6 722.5,254.6 722.5,261.3 724.3,261.3 724.3,269.8 726.1,269.8 726.1,276.2 727.9,276.2 727.9,281.7 729.7,281.7 729.7,285.8 731.5,285.8 731.5,290.2 733.3,290.2 733.3,292.0 735.1,292.0 735.1,294.5 736.9,294.5 736.9,296.7 738.7,296.7 738.7,298.7 740.5,298.7 740.5,301.2 742.3,301.2 742.3,303.6 744.1,303.6 744.1,305.9 745.9,305.9 745.9,307.8 747.7,307.8 747.7,309.9 749.5,309.9 749.5,311.6 751.3,311.6 751.3,313.0 753.1,313.0 753.1,315.2 754.9,315.2 754.9,316.0 756.7,316.0 756.7,317.3 758.5,317.3 758.5,318.6 760.3,318.6 760.3,318.2 762.1,318.2 762.1,320.0 763.9,320.0 763.9,320.8 765.7,320.8 765.7,321.2 767.5,321.2 767.5,322.9 769.3,322.9 769.3,323.8 771.1,323.8 771.1,323.9 772.9,323.9 772.9,324.8 774.7,324.8 774.7,325.4 776.5,325.4 776.5,324.7 778.3,324.7 778.3,326.7 780.1,326.7 780.1,326.0 781.9,326.0 781.9,327.4 783.7,327.4 783.7,327.4 785.5,327.4 785.5,328.2 787.3,328.2 787.3,326.9 789.1,326.9 789.1,328.5 790.9,328.5 790.9,328.9 792.7,328.9 792.7,328.7 794.5,328.7 794.5,329.9 796.3,329.9 796.3,330.2 798.1,330.2 798.1,330.1 799.9,330.1 799.9,330.9 801.7,330.9 801.7,329.7 803.5,329.7 803.5,331.0 805.3,331.0 805.3,331.5 807.1,331.5 807.1,332.4 808.9,332.4 808.9,332.8 810.7,332.8 810.7,333.1 812.5,333.1 812.5,333.3 814.3,333.3 814.3,332.0 816.1,332.0 816.1,334.3 817.9,334.3 817.9,334.4 819.7,334.4 819.7,335.2 821.5,335.2 821.5,335.1 823.3,335.1 823.3,335.9 825.1,335.9 825.1,336.1 826.9,336.1 826.9,335.5 828.7,335.5 828.7,336.4 830.5,336.4 830.5,335.6 832.3,335.6 832.3,336.7 834.1,336.7 834.1,336.0 835.9,336.0 835.9,337.1 837.7,337.1 837.7,337.3 839.5,337.3 839.5,337.5 841.3,337.5 841.3,337.2 843.1,337.2 843.1,336.6 844.9,336.6 844.9,337.2 846.7,337.2 846.7,337.2 848.5,337.2 848.5,336.6 850.3,336.6 850.3,336.5 852.1,336.5 852.1,337.1 853.9,337.1 853.9,334.8 855.7,334.8 855.7,333.7 857.5,333.7 857.5,333.8 859.3,333.8 859.3,333.9 861.1,333.9 861.1,333.6 862.9,333.6 862.9,334.5 864.7,334.5 864.7,334.3 866.5,334.3 866.5,333.7 868.3,333.7 868.3,334.7 870.1,334.7 870.1,335.0 871.9,335.0 871.9,335.4 873.7,335.4 873.7,335.5 875.5,335.5 875.5,334.0 877.3,334.0 877.3,336.1 879.1,336.1 879.1,335.9 880.9,335.9 880.9,335.8 882.7,335.8 882.7,337.4 884.5,337.4 884.5,338.1 886.3,338.1 886.3,338.8 888.1,338.8 888.1,339.2 889.9,339.2 889.9,339.6 891.7,339.6 891.7,339.3 893.5,339.3 893.5,339.7 895.3,339.7 895.3,339.5 897.1,339.5 897.1,339.5 898.9,339.5 898.9,339.5 900.7,339.5 900.7,339.3 902.5,339.3 902.5,340.2 904.3,340.2 904.3,340.4 906.1,340.4 906.1,339.9 907.9,339.9 907.9,340.5 909.7,340.5 909.7,339.6 911.5,339.6 911.5,340.2 913.3,340.2 913.3,340.0 915.1,340.0 915.1,340.5 916.9,340.5 916.9,340.3 918.7,340.3 918.7,339.5 920.5,339.5 920.5,339.7 922.3,339.7 922.3,338.6 924.1,338.6 924.1,344.4 922.3,344.4 922.3,345.0 920.5,345.0 920.5,344.7 918.7,344.7 918.7,345.2 916.9,345.2 916.9,344.4 915.1,344.4 915.1,344.6 913.3,344.6 913.3,344.3 911.5,344.3 911.5,344.4 909.7,344.4 909.7,344.5 907.9,344.5 907.9,344.6 906.1,344.6 906.1,344.3 904.3,344.3 904.3,344.4 902.5,344.4 902.5,344.4 900.7,344.4 900.7,344.2 898.9,344.2 898.9,344.0 897.1,344.0 897.1,344.6 895.3,344.6 895.3,345.3 893.5,345.3 893.5,344.1 891.7,344.1 891.7,344.0 889.9,344.0 889.9,344.2 888.1,344.2 888.1,343.1 886.3,343.1 886.3,342.7 884.5,342.7 884.5,341.6 882.7,341.6 882.7,341.3 880.9,341.3 880.9,340.8 879.1,340.8 879.1,340.2 877.3,340.2 877.3,339.7 875.5,339.7 875.5,339.4 873.7,339.4 873.7,339.8 871.9,339.8 871.9,339.3 870.1,339.3 870.1,339.9 868.3,339.9 868.3,339.4 866.5,339.4 866.5,338.6 864.7,338.6 864.7,339.1 862.9,339.1 862.9,339.2 861.1,339.2 861.1,338.1 859.3,338.1 859.3,338.2 857.5,338.2 857.5,338.6 855.7,338.6 855.7,339.8 853.9,339.8 853.9,342.5 852.1,342.5 852.1,341.6 850.3,341.6 850.3,342.0 848.5,342.0 848.5,341.3 846.7,341.3 846.7,341.4 844.9,341.4 844.9,341.6 843.1,341.6 843.1,341.5 841.3,341.5 841.3,342.4 839.5,342.4 839.5,341.3 837.7,341.3 837.7,341.2 835.9,341.2 835.9,341.2 834.1,341.2 834.1,340.7 832.3,340.7 832.3,340.9 830.5,340.9 830.5,341.1 828.7,341.1 828.7,341.0 826.9,341.0 826.9,340.3 825.1,340.3 825.1,340.1 823.3,340.1 823.3,339.8 821.5,339.8 821.5,339.1 819.7,339.1 819.7,338.6 817.9,338.6 817.9,338.7 816.1,338.7 816.1,338.1 814.3,338.1 814.3,337.7 812.5,337.7 812.5,337.1 810.7,337.1 810.7,336.7 808.9,336.7 808.9,336.7 807.1,336.7 807.1,336.3 805.3,336.3 805.3,336.2 803.5,336.2 803.5,335.7 801.7,335.7 801.7,335.8 799.9,335.8 799.9,334.9 798.1,334.9 798.1,334.6 796.3,334.6 796.3,334.4 794.5,334.4 794.5,333.9 792.7,333.9 792.7,333.8 790.9,333.8 790.9,333.9 789.1,333.9 789.1,333.8 787.3,333.8 787.3,332.8 785.5,332.8 785.5,332.1 783.7,332.1 783.7,331.8 781.9,331.8 781.9,331.5 780.1,331.5 780.1,332.0 778.3,332.0 778.3,330.8 776.5,330.8 776.5,330.6 774.7,330.6 774.7,331.3 772.9,331.3 772.9,329.1 771.1,329.1 771.1,328.8 769.3,328.8 769.3,327.9 767.5,327.9 767.5,327.4 765.7,327.4 765.7,326.4 763.9,326.4 763.9,325.9 762.1,325.9 762.1,325.3 760.3,325.3 760.3,324.3 758.5,324.3 758.5,321.9 756.7,321.9 756.7,321.5 754.9,321.5 754.9,321.5 753.1,321.5 753.1,318.3 751.3,318.3 751.3,317.0 749.5,317.0 749.5,314.8 747.7,314.8 747.7,314.0 745.9,314.0 745.9,311.9 744.1,311.9 744.1,309.4 742.3,309.4 742.3,306.3 740.5,306.3 740.5,304.1 738.7,304.1 738.7,301.7 736.9,301.7 736.9,300.5 735.1,300.5 735.1,297.0 733.3,297.0 733.3,294.8 731.5,294.8 731.5,291.5 729.7,291.5 729.7,286.9 727.9,286.9 727.9,282.2 726.1,282.2 726.1,274.2 724.3,274.2 724.3,268.5 722.5,268.5 722.5,259.9 720.7,259.9 720.7,252.4 718.9,252.4 718.9,245.9 717.1,245.9 717.1,238.3 715.3,238.3 715.3,213.0 713.5,213.0"/>
</g></defs>
</g>
<clipPath id="h3"><rect x="696.8" y="33.8" width="240.0" height="321.2"/></clipPath>
<use href="#band3" fill="#fff" stroke="#fff" stroke-width="3.2" stroke-linejoin="round" clip-path="url(#h3)"/>
<g clip-path="url(#c3)">
<use href="#band3" fill="#02c26b"/>
<rect x="712.6" y="37.2" width="3.2" height="3.2" rx="1.3" fill="#04401f" opacity="0.75"/>
<circle cx="743.3" cy="341.0" r="1.6" fill="#02c26b"/>
<circle cx="747.1" cy="272.3" r="1.6" fill="#02c26b"/>
<circle cx="751.0" cy="288.4" r="1.6" fill="#049a55"/>
<circle cx="754.3" cy="270.7" r="1.6" fill="#02c26b"/>
<circle cx="758.1" cy="218.4" r="1.6" fill="#02c26b"/>
<circle cx="762.0" cy="175.6" r="1.6" fill="#02c26b"/>
<circle cx="765.1" cy="210.3" r="1.6" fill="#02c26b"/>
<circle cx="769.2" cy="187.2" r="1.6" fill="#02c26b"/>
<circle cx="773.0" cy="176.6" r="1.6" fill="#02c26b"/>
<circle cx="776.3" cy="165.7" r="1.6" fill="#049a55"/>
<circle cx="780.1" cy="163.5" r="1.6" fill="#049a55"/>
<circle cx="783.5" cy="144.2" r="1.6" fill="#02c26b"/>
<circle cx="787.3" cy="141.4" r="1.6" fill="#02c26b"/>
<circle cx="791.1" cy="156.3" r="1.6" fill="#02c26b"/>
<circle cx="794.5" cy="178.2" r="1.6" fill="#02c26b"/>
<circle cx="798.1" cy="189.8" r="1.6" fill="#02c26b"/>
<circle cx="802.0" cy="164.5" r="1.6" fill="#049a55"/>
<circle cx="805.4" cy="139.2" r="1.6" fill="#02c26b"/>
<circle cx="809.2" cy="164.5" r="1.6" fill="#049a55"/>
<circle cx="813.0" cy="111.9" r="1.6" fill="#02c26b"/>
<circle cx="816.4" cy="109.7" r="1.6" fill="#02c26b"/>
<circle cx="820.2" cy="111.9" r="1.6" fill="#02c26b"/>
<circle cx="824.0" cy="104.1" r="1.6" fill="#049a55"/>
<circle cx="827.3" cy="108.1" r="1.6" fill="#02c26b"/>
<circle cx="831.1" cy="123.8" r="1.6" fill="#02c26b"/>
<circle cx="834.9" cy="133.2" r="1.6" fill="#02c26b"/>
<circle cx="838.3" cy="122.9" r="1.6" fill="#02c26b"/>
<circle cx="842.1" cy="96.4" r="1.6" fill="#049a55"/>
<circle cx="845.9" cy="109.1" r="1.6" fill="#02c26b"/>
<circle cx="849.3" cy="110.3" r="1.6" fill="#02c26b"/>
<circle cx="853.0" cy="117.3" r="1.6" fill="#02c26b"/>
<circle cx="856.8" cy="91.0" r="1.6" fill="#02c26b"/>
<circle cx="860.2" cy="76.8" r="1.6" fill="#02c26b"/>
<circle cx="864.0" cy="73.8" r="1.6" fill="#02c26b"/>
<circle cx="868.0" cy="69.5" r="1.6" fill="#02c26b"/>
<circle cx="871.2" cy="112.3" r="1.6" fill="#02c26b"/>
<circle cx="875.0" cy="81.2" r="1.6" fill="#02c26b"/>
<circle cx="878.9" cy="128.2" r="1.6" fill="#02c26b"/>
<circle cx="882.1" cy="85.4" r="1.6" fill="#02c26b"/>
<circle cx="885.9" cy="83.8" r="1.6" fill="#02c26b"/>
<circle cx="889.5" cy="61.9" r="1.6" fill="#02c26b"/>
<circle cx="893.3" cy="74.4" r="1.6" fill="#02c26b"/>
<circle cx="897.1" cy="69.5" r="1.6" fill="#02c26b"/>
<circle cx="900.3" cy="70.9" r="1.6" fill="#02c26b"/>
<circle cx="904.0" cy="62.3" r="1.6" fill="#02c26b"/>
<circle cx="907.8" cy="60.7" r="1.6" fill="#02c26b"/>
<circle cx="911.2" cy="58.7" r="1.6" fill="#02c26b"/>
<circle cx="915.0" cy="50.3" r="1.6" fill="#02c26b"/>
<circle cx="919.0" cy="63.5" r="1.6" fill="#02c26b"/>
<circle cx="922.4" cy="56.9" r="1.6" fill="#02c26b"/>
<circle cx="926.1" cy="50.3" r="1.6" fill="#02c26b"/>
</g>
<rect x="838.8" y="186.0" width="93.2" height="19.4" rx="2" fill="#f0f0f0" fill-opacity="0.85" stroke="#e6e6e6" stroke-width="0.8"/>
<rect x="870.8" y="187.5" width="58" height="16.4" rx="3" fill="#ffffff" opacity="0.85"/>
<circle cx="854.5" cy="196.2" r="4" fill="#ffffff" opacity="0.8"/>
<circle cx="854.5" cy="196.2" r="1.7" fill="#04401f"/>
<text transform="translate(873.8,198.7) scale(1.03,1)" font-size="10.6" text-anchor="start" fill="#111111" font-weight="normal" font-family="'DejaVu Sans', 'Liberation Sans', sans-serif" stroke="#111" stroke-width="0.3">mAP@0.5</text>
<line x1="49.2" y1="734.4" x2="287.4" y2="734.4" stroke="#e8e8e8" stroke-width="1.8"/>
<text transform="translate(41.2,738.2) scale(1.05,1)" font-size="10.5" text-anchor="end" fill="#262626" font-weight="normal" font-family="'DejaVu Sans', 'Liberation Sans', sans-serif" stroke="#262626" stroke-width="0.15">0</text>
<line x1="49.2" y1="670.7" x2="287.4" y2="670.7" stroke="#e8e8e8" stroke-width="1.8"/>
<text transform="translate(41.2,674.5) scale(1.05,1)" font-size="10.5" text-anchor="end" fill="#262626" font-weight="normal" font-family="'DejaVu Sans', 'Liberation Sans', sans-serif" stroke="#262626" stroke-width="0.15">1</text>
<line x1="49.2" y1="607.0" x2="287.4" y2="607.0" stroke="#e8e8e8" stroke-width="1.8"/>
<text transform="translate(41.2,610.8) scale(1.05,1)" font-size="10.5" text-anchor="end" fill="#262626" font-weight="normal" font-family="'DejaVu Sans', 'Liberation Sans', sans-serif" stroke="#262626" stroke-width="0.15">2</text>
<line x1="49.2" y1="543.4" x2="287.4" y2="543.4" stroke="#e8e8e8" stroke-width="1.8"/>
<text transform="translate(41.2,547.2) scale(1.05,1)" font-size="10.5" text-anchor="end" fill="#262626" font-weight="normal" font-family="'DejaVu Sans', 'Liberation Sans', sans-serif" stroke="#262626" stroke-width="0.15">3</text>
<line x1="49.2" y1="479.7" x2="287.4" y2="479.7" stroke="#e8e8e8" stroke-width="1.8"/>
<text transform="translate(41.2,483.5) scale(1.05,1)" font-size="10.5" text-anchor="end" fill="#262626" font-weight="normal" font-family="'DejaVu Sans', 'Liberation Sans', sans-serif" stroke="#262626" stroke-width="0.15">4</text>
<line x1="49.2" y1="416.0" x2="287.4" y2="416.0" stroke="#e8e8e8" stroke-width="1.8"/>
<text transform="translate(41.2,419.8) scale(1.05,1)" font-size="10.5" text-anchor="end" fill="#262626" font-weight="normal" font-family="'DejaVu Sans', 'Liberation Sans', sans-serif" stroke="#262626" stroke-width="0.15">5</text>
<line x1="48.2" y1="416.0" x2="48.2" y2="734.9" stroke="#eeeeee" stroke-width="1.6"/>
<line x1="289.2" y1="416.0" x2="289.2" y2="734.9" stroke="#f3f3f3" stroke-width="1.8"/>
<text transform="translate(59.0,748.6) scale(1.05,1)" font-size="10.5" text-anchor="middle" fill="#262626" font-weight="normal" font-family="'DejaVu Sans', 'Liberation Sans', sans-serif" stroke="#262626" stroke-width="0.15">0</text>
<text transform="translate(95.5,748.6) scale(1.05,1)" font-size="10.5" text-anchor="middle" fill="#262626" font-weight="normal" font-family="'DejaVu Sans', 'Liberation Sans', sans-serif" stroke="#262626" stroke-width="0.15">1000</text>
<text transform="translate(131.9,748.6) scale(1.05,1)" font-size="10.5" text-anchor="middle" fill="#262626" font-weight="normal" font-family="'DejaVu Sans', 'Liberation Sans', sans-serif" stroke="#262626" stroke-width="0.15">2000</text>
<text transform="translate(168.4,748.6) scale(1.05,1)" font-size="10.5" text-anchor="middle" fill="#262626" font-weight="normal" font-family="'DejaVu Sans', 'Liberation Sans', sans-serif" stroke="#262626" stroke-width="0.15">3000</text>
<text transform="translate(204.9,748.6) scale(1.05,1)" font-size="10.5" text-anchor="middle" fill="#262626" font-weight="normal" font-family="'DejaVu Sans', 'Liberation Sans', sans-serif" stroke="#262626" stroke-width="0.15">4000</text>
<text transform="translate(241.4,748.6) scale(1.05,1)" font-size="10.5" text-anchor="middle" fill="#262626" font-weight="normal" font-family="'DejaVu Sans', 'Liberation Sans', sans-serif" stroke="#262626" stroke-width="0.15">5000</text>
<text transform="translate(277.8,748.6) scale(1.05,1)" font-size="10.5" text-anchor="middle" fill="#262626" font-weight="normal" font-family="'DejaVu Sans', 'Liberation Sans', sans-serif" stroke="#262626" stroke-width="0.15">6000</text>
<text transform="translate(168.2,763.7) scale(1.01,1)" font-size="14.4" text-anchor="middle" fill="#1a1a1a" font-weight="normal" font-family="'DejaVu Sans', 'Liberation Sans', sans-serif" stroke="#1a1a1a" stroke-width="0.15">Iterations</text>
<text transform="translate(168.2,411.4) scale(1.015,1)" font-size="17.0" text-anchor="middle" fill="#111111" font-weight="normal" font-family="'DejaVu Sans', 'Liberation Sans', sans-serif" stroke="#111111" stroke-width="0.15">YOLOv4-416</text>
<text transform="translate(29.9,575.2) rotate(-90) scale(1,1.05)" font-size="14.4" text-anchor="middle" fill="#1a1a1a" font-family="'DejaVu Sans', 'Liberation Sans', sans-serif" stroke="#1a1a1a" stroke-width="0.15">Loss</text>
<text transform="translate(294.4,436.1) scale(0.9,1)" font-size="9.6" text-anchor="start" fill="#2a2a2a" font-weight="normal" font-family="'DejaVu Sans', 'Liberation Sans', sans-serif" stroke="#2a2a2a" stroke-width="0.3">90</text>
<text transform="translate(294.4,475.6) scale(0.9,1)" font-size="9.6" text-anchor="start" fill="#2a2a2a" font-weight="normal" font-family="'DejaVu Sans', 'Liberation Sans', sans-serif" stroke="#2a2a2a" stroke-width="0.3">89</text>
<text transform="translate(294.4,515.2) scale(0.9,1)" font-size="9.6" text-anchor="start" fill="#2a2a2a" font-weight="normal" font-family="'DejaVu Sans', 'Liberation Sans', sans-serif" stroke="#2a2a2a" stroke-width="0.3">88</text>
<text transform="translate(294.4,554.7) scale(0.9,1)" font-size="9.6" text-anchor="start" fill="#2a2a2a" font-weight="normal" font-family="'DejaVu Sans', 'Liberation Sans', sans-serif" stroke="#2a2a2a" stroke-width="0.3">87</text>
<text transform="translate(294.4,594.2) scale(0.9,1)" font-size="9.6" text-anchor="start" fill="#2a2a2a" font-weight="normal" font-family="'DejaVu Sans', 'Liberation Sans', sans-serif" stroke="#2a2a2a" stroke-width="0.3">86</text>
<text transform="translate(294.4,633.8) scale(0.9,1)" font-size="9.6" text-anchor="start" fill="#2a2a2a" font-weight="normal" font-family="'DejaVu Sans', 'Liberation Sans', sans-serif" stroke="#2a2a2a" stroke-width="0.3">85</text>
<text transform="translate(294.4,673.3) scale(0.9,1)" font-size="9.6" text-anchor="start" fill="#2a2a2a" font-weight="normal" font-family="'DejaVu Sans', 'Liberation Sans', sans-serif" stroke="#2a2a2a" stroke-width="0.3">84</text>
<text transform="translate(294.4,712.8) scale(0.9,1)" font-size="9.6" text-anchor="start" fill="#2a2a2a" font-weight="normal" font-family="'DejaVu Sans', 'Liberation Sans', sans-serif" stroke="#2a2a2a" stroke-width="0.3">83</text>
<clipPath id="c4"><rect x="48.2" y="416.9" width="240.0" height="317.5"/></clipPath>
<g clip-path="url(#c4)">
<circle cx="94.8" cy="720.2" r="3.2" fill="#fff"/>
<circle cx="99.1" cy="607.3" r="3.2" fill="#fff"/>
<circle cx="102.8" cy="608.0" r="3.2" fill="#fff"/>
<circle cx="105.9" cy="528.3" r="3.2" fill="#fff"/>
<circle cx="109.9" cy="527.7" r="3.2" fill="#fff"/>
<circle cx="113.7" cy="510.2" r="3.2" fill="#fff"/>
<circle cx="117.0" cy="569.5" r="3.2" fill="#fff"/>
<circle cx="120.9" cy="490.5" r="3.2" fill="#fff"/>
<circle cx="124.3" cy="487.1" r="3.2" fill="#fff"/>
<circle cx="127.8" cy="462.0" r="3.2" fill="#fff"/>
<circle cx="131.6" cy="477.3" r="3.2" fill="#fff"/>
<circle cx="135.2" cy="516.2" r="3.2" fill="#fff"/>
<circle cx="139.0" cy="566.2" r="3.2" fill="#fff"/>
<circle cx="142.6" cy="526.1" r="3.2" fill="#fff"/>
<circle cx="146.2" cy="521.2" r="3.2" fill="#fff"/>
<circle cx="150.0" cy="464.6" r="3.2" fill="#fff"/>
<circle cx="153.7" cy="508.0" r="3.2" fill="#fff"/>
<circle cx="157.1" cy="442.7" r="3.2" fill="#fff"/>
<circle cx="160.9" cy="494.9" r="3.2" fill="#fff"/>
<circle cx="164.7" cy="478.3" r="3.2" fill="#fff"/>
<circle cx="168.1" cy="536.1" r="3.2" fill="#fff"/>
<circle cx="171.9" cy="564.0" r="3.2" fill="#fff"/>
<circle cx="175.7" cy="483.3" r="3.2" fill="#fff"/>
<circle cx="179.0" cy="467.4" r="3.2" fill="#fff"/>
<circle cx="182.8" cy="538.9" r="3.2" fill="#fff"/>
<circle cx="186.6" cy="492.5" r="3.2" fill="#fff"/>
<circle cx="190.0" cy="568.4" r="3.2" fill="#fff"/>
<circle cx="193.8" cy="538.9" r="3.2" fill="#fff"/>
<circle cx="197.6" cy="487.1" r="3.2" fill="#fff"/>
<circle cx="201.0" cy="515.2" r="3.2" fill="#fff"/>
<circle cx="204.7" cy="508.4" r="3.2" fill="#fff"/>
<circle cx="208.5" cy="518.4" r="3.2" fill="#fff"/>
<circle cx="211.9" cy="533.3" r="3.2" fill="#fff"/>
<circle cx="215.7" cy="479.3" r="3.2" fill="#fff"/>
<circle cx="219.3" cy="489.9" r="3.2" fill="#fff"/>
<circle cx="222.7" cy="572.8" r="3.2" fill="#fff"/>
<circle cx="226.7" cy="533.3" r="3.2" fill="#fff"/>
<circle cx="230.0" cy="464.6" r="3.2" fill="#fff"/>
<circle cx="233.8" cy="456.4" r="3.2" fill="#fff"/>
<circle cx="237.6" cy="438.9" r="3.2" fill="#fff"/>
<circle cx="241.2" cy="449.2" r="3.2" fill="#fff"/>
<circle cx="245.0" cy="430.1" r="3.2" fill="#fff"/>
<circle cx="248.8" cy="436.5" r="3.2" fill="#fff"/>
<circle cx="252.0" cy="446.1" r="3.2" fill="#fff"/>
<circle cx="255.7" cy="463.0" r="3.2" fill="#fff"/>
<circle cx="259.5" cy="461.0" r="3.2" fill="#fff"/>
<circle cx="262.9" cy="453.0" r="3.2" fill="#fff"/>
<circle cx="266.7" cy="452.0" r="3.2" fill="#fff"/>
<circle cx="270.5" cy="473.5" r="3.2" fill="#fff"/>
<circle cx="274.1" cy="464.6" r="3.2" fill="#fff"/>
<circle cx="277.8" cy="446.5" r="3.2" fill="#fff"/>
<defs><g id="band4">
<polygon points="72.3,400.0 69.1,401.1 73.1,401.4 72.3,402.1 73.2,402.8 71.1,403.5 71.0,404.2 73.2,404.9 73.2,405.6 72.0,406.3 72.4,407.0 71.0,407.7 69.5,408.5 71.5,409.1 70.5,409.8 72.0,410.5 73.2,411.2 71.3,411.9 70.2,412.7 72.7,413.3 70.5,414.0 72.6,414.7 72.7,415.4 71.9,416.2 68.7,417.0 72.0,417.6 73.0,418.3 71.7,419.1 73.4,419.7 72.2,420.5 70.6,421.2 70.3,422.0 71.9,422.6 73.3,423.2 73.0,423.9 69.1,424.9 73.7,425.3 72.5,426.1 73.2,426.7 73.8,427.4 73.5,428.1 71.0,429.0 73.7,429.5 73.1,430.2 74.0,430.9 73.4,431.6 72.4,432.4 70.6,433.2 72.2,433.8 71.7,434.5 72.6,435.2 71.0,436.0 72.0,436.6 73.4,437.2 74.4,437.9 72.5,438.7 71.8,439.5 73.1,440.1 72.6,440.9 72.2,441.7 70.5,442.6 72.9,443.1 69.9,444.1 72.2,444.6 70.7,445.5 73.0,446.0 72.9,446.7 72.5,447.5 74.7,448.0 73.9,448.8 75.2,449.4 72.1,450.4 73.7,451.0 75.1,451.5 73.9,452.4 72.6,453.2 72.7,453.9 74.3,454.5 74.1,455.2 73.7,456.0 75.2,456.6 72.7,457.5 71.3,458.4 76.3,458.6 71.8,459.8 75.2,460.2 72.4,461.2 73.5,461.8 72.4,462.6 76.7,462.9 74.5,463.9 73.6,464.7 76.9,465.1 73.3,466.2 75.7,466.7 77.1,467.2 75.6,468.1 76.8,468.7 73.6,469.8 74.6,470.4 77.0,470.9 72.9,472.1 73.7,472.7 76.3,473.1 77.9,473.6 75.6,474.6 76.8,475.2 77.4,475.9 75.9,476.8 75.1,477.6 73.1,478.5 75.4,479.0 78.4,479.3 76.5,480.3 76.7,481.0 75.8,481.8 78.5,482.2 75.4,483.3 74.7,484.1 77.4,484.5 75.7,485.5 75.4,486.2 77.1,486.7 75.3,487.7 77.7,488.1 76.1,489.0 74.3,490.0 75.5,490.5 76.7,491.1 74.8,492.1 78.7,492.3 77.4,493.2 78.6,493.8 73.4,495.2 76.6,495.5 80.2,495.8 78.7,496.7 80.2,497.2 76.0,498.5 77.1,499.0 78.2,499.6 75.8,500.7 78.6,501.0 81.1,501.4 80.6,502.2 78.0,503.3 74.8,504.4 77.1,504.8 80.0,505.2 81.8,505.7 80.8,506.5 80.5,507.3 77.7,508.4 79.2,508.9 81.8,509.3 80.1,510.2 78.3,511.2 79.9,511.7 81.8,512.2 79.3,513.2 80.9,513.8 81.9,514.4 79.6,515.5 80.1,516.2 79.8,517.0 82.8,517.2 81.5,518.1 83.0,518.6 81.7,519.5 79.8,520.6 82.4,520.8 81.6,521.7 79.3,522.8 81.4,523.2 79.2,524.3 83.7,524.2 84.6,524.7 81.5,526.0 83.5,526.3 81.6,527.4 83.6,527.7 84.4,528.3 84.5,529.0 79.2,530.7 84.2,530.5 85.9,530.9 83.8,532.0 83.1,532.8 84.1,533.4 86.4,533.7 84.7,534.7 85.7,535.2 84.3,536.2 85.1,536.8 87.0,537.2 83.4,538.6 81.9,539.6 86.2,539.5 85.9,540.3 85.5,541.1 87.8,541.4 83.0,543.1 83.7,543.7 86.6,543.9 85.7,544.8 85.7,545.5 88.2,545.8 88.8,546.4 87.7,547.4 86.8,548.3 87.2,548.9 89.3,549.3 89.0,550.1 87.6,551.1 89.0,551.5 84.6,553.1 85.5,553.7 89.2,553.7 90.2,554.2 89.0,555.2 90.2,555.7 89.5,556.6 90.0,557.3 91.0,557.8 88.3,559.1 88.9,559.7 91.4,559.9 91.2,560.7 89.1,561.8 88.0,562.8 88.8,563.4 92.1,563.4 86.3,565.4 89.3,565.4 90.4,566.0 91.5,566.4 89.1,567.7 88.1,568.6 89.7,569.0 87.6,570.2 93.5,569.7 92.3,570.7 89.3,572.1 91.3,572.4 94.1,572.5 92.6,573.6 92.3,574.4 94.2,574.7 92.4,575.9 90.9,577.0 95.1,576.7 93.5,577.8 91.3,579.1 91.7,579.7 94.0,579.9 94.4,580.5 95.8,580.9 94.8,581.9 91.3,583.5 92.9,583.8 93.4,584.4 96.0,584.5 95.6,585.3 93.0,586.7 96.4,586.6 96.9,587.2 97.4,587.8 95.5,589.0 97.1,589.3 94.9,590.6 97.0,590.8 97.5,591.4 95.0,592.8 94.9,593.6 96.9,593.8 98.9,594.0 97.0,595.3 99.2,595.4 98.0,596.5 96.2,597.7 100.6,597.2 96.1,599.2 98.6,599.2 99.6,599.6 98.8,600.6 100.8,600.8 100.2,601.7 99.3,602.7 100.0,603.2 102.4,603.2 99.3,604.8 102.8,604.6 100.9,605.8 100.4,606.7 100.2,607.5 103.4,607.3 103.7,608.0 102.6,609.0 103.9,609.4 103.9,610.2 103.7,611.1 100.8,613.0 102.1,613.3 105.6,612.7 104.2,614.0 105.6,614.2 104.1,615.6 105.8,615.7 106.6,616.1 107.2,616.6 105.7,618.0 104.9,619.1 103.3,620.5 106.0,620.1 105.2,621.2 108.9,620.5 109.2,621.1 108.4,622.2 108.5,622.9 109.4,623.3 109.5,624.1 110.6,624.4 110.9,625.1 109.6,626.5 110.8,626.8 109.6,628.2 111.0,628.3 112.6,628.3 110.1,630.4 110.3,631.2 112.8,630.7 113.8,631.0 112.7,632.4 111.7,633.8 114.3,633.3 115.2,633.6 114.9,634.6 114.6,635.5 116.5,635.4 115.3,637.0 116.8,637.0 115.8,638.7 116.7,639.2 118.1,639.1 118.5,639.9 118.9,640.5 118.9,641.6 118.4,643.0 120.9,641.9 121.8,642.3 122.3,643.4 123.5,643.1 124.6,643.1 125.7,642.9 126.6,642.4 126.6,641.2 126.8,640.4 127.9,640.3 127.8,639.2 128.6,638.9 129.0,638.3 129.3,637.7 129.8,637.2 130.2,636.8 130.7,636.6 131.3,636.4 131.9,636.2 132.6,636.1 133.2,636.0 133.9,635.8 134.5,635.7 135.1,635.7 135.6,635.7 136.1,635.9 136.6,636.1 137.1,636.5 137.7,636.9 138.4,637.3 139.0,637.7 139.6,638.1 140.2,638.6 140.9,639.0 141.5,639.4 142.1,639.8 142.6,640.2 143.2,640.7 143.7,641.2 144.2,641.7 144.7,642.2 145.2,642.6 145.6,643.1 145.9,643.6 146.2,644.1 146.4,644.7 146.6,645.3 146.8,646.0 147.0,646.7 147.2,647.4 147.4,648.1 147.6,648.7 147.8,649.4 148.0,650.1 148.2,650.8 148.3,651.5 148.5,652.2 148.7,652.9 148.9,653.6 149.0,654.3 149.2,655.0 149.4,655.7 149.6,656.4 149.7,657.1 149.9,657.8 150.1,658.5 150.3,659.2 150.4,659.9 150.6,660.6 150.8,661.4 150.9,662.1 151.1,662.8 151.3,663.5 151.5,664.2 151.6,664.9 151.8,665.7 152.0,666.5 152.4,667.2 152.9,667.9 153.6,668.4 154.3,668.8 155.1,669.0 155.9,669.2 156.6,669.3 157.3,669.5 158.0,669.7 158.7,669.9 159.4,670.0 160.1,670.2 160.8,670.4 161.5,670.5 162.2,670.7 162.9,670.9 163.5,671.1 164.1,671.4 164.7,671.7 165.2,672.1 165.8,672.4 166.5,672.8 167.1,673.2 167.7,673.5 168.3,673.9 168.9,674.3 169.5,674.7 170.2,675.0 170.8,675.4 171.4,675.7 172.1,676.1 172.7,676.4 173.4,676.8 174.0,677.1 174.6,677.4 175.3,677.7 175.9,678.0 176.5,678.4 177.2,678.7 177.8,679.0 178.4,679.3 179.1,679.6 179.7,680.0 180.4,680.3 181.0,680.6 181.6,680.9 182.3,681.2 182.9,681.6 183.5,681.9 184.2,682.2 184.8,682.5 185.5,682.8 186.1,683.2 186.8,683.5 187.5,683.7 188.2,684.0 188.9,684.2 189.6,684.4 190.3,684.6 191.0,684.7 191.7,684.9 192.4,685.1 193.1,685.3 193.8,685.4 194.5,685.6 195.2,685.8 195.9,686.0 196.5,686.1 197.2,686.3 197.9,686.5 198.6,686.7 199.3,686.8 200.0,687.0 200.7,687.2 201.4,687.3 202.1,687.5 202.8,687.7 203.5,687.9 204.2,688.0 204.9,688.1 205.6,688.3 206.3,688.4 207.0,688.6 207.7,688.7 208.4,688.8 209.1,689.0 209.8,689.1 210.5,689.2 211.2,689.4 211.9,689.5 212.6,689.6 213.2,689.8 213.9,689.9 214.6,690.0 215.3,690.2 216.0,690.3 216.7,690.4 217.4,690.6 218.1,690.7 218.8,690.9 219.5,691.0 220.1,691.2 220.8,691.4 221.5,691.6 222.2,691.8 222.9,692.0 223.6,692.2 224.3,692.4 224.9,692.6 225.6,692.8 226.3,693.0 227.0,693.3 227.7,693.5 228.4,693.7 229.1,693.9 229.8,694.1 230.5,694.3 231.2,694.5 231.9,694.7 232.5,694.9 233.2,695.1 233.9,695.3 234.6,695.5 235.3,695.8 236.0,696.0 236.7,696.2 237.4,696.4 238.1,696.6 238.8,696.8 239.5,697.0 240.2,697.2 240.9,697.4 241.6,697.6 242.3,697.8 243.0,698.1 243.7,698.3 244.4,698.5 245.1,698.7 245.7,698.9 246.4,699.1 247.1,699.3 247.8,699.5 248.5,699.7 249.2,699.9 249.9,700.1 250.6,700.3 251.4,700.5 252.1,700.7 252.8,700.8 253.5,701.0 254.2,701.1 254.9,701.2 255.6,701.4 256.4,701.5 257.1,701.6 257.8,701.8 258.5,701.9 259.2,702.0 259.9,702.2 260.6,702.3 261.3,702.4 262.0,702.6 262.8,702.7 263.7,702.7 264.5,702.5 265.3,702.1 265.9,701.6 266.4,700.9 266.9,700.4 267.3,699.9 267.7,699.5 268.1,699.2 268.6,699.0 269.2,698.9 269.8,698.8 270.5,698.8 271.2,698.7 272.0,698.6 272.7,698.6 273.4,698.5 274.2,698.4 274.9,698.4 275.6,698.3 276.0,698.3 277.1,698.2 276.9,696.2 275.8,696.3 275.5,696.3 274.7,696.4 274.0,696.4 273.3,696.5 272.5,696.6 271.8,696.6 271.1,696.7 270.3,696.8 269.6,696.8 268.8,696.9 268.0,697.1 267.2,697.4 266.5,697.9 265.9,698.4 265.4,699.1 264.9,699.6 264.5,700.1 264.1,700.5 263.8,700.6 263.4,700.7 262.9,700.7 262.3,700.6 261.7,700.5 261.0,700.4 260.3,700.2 259.5,700.1 258.8,700.0 258.1,699.8 257.4,699.7 256.7,699.6 256.0,699.4 255.3,699.3 254.6,699.2 253.9,699.0 253.2,698.9 252.5,698.7 251.8,698.6 251.2,698.4 250.5,698.2 249.8,698.0 249.1,697.8 248.4,697.6 247.7,697.4 247.0,697.2 246.3,697.0 245.6,696.8 244.9,696.6 244.2,696.3 243.5,696.1 242.8,695.9 242.1,695.7 241.5,695.5 240.8,695.3 240.1,695.1 239.4,694.9 238.7,694.7 238.0,694.5 237.3,694.3 236.6,694.1 235.9,693.8 235.2,693.6 234.5,693.4 233.8,693.2 233.1,693.0 232.4,692.8 231.7,692.6 231.0,692.4 230.4,692.2 229.7,692.0 229.0,691.8 228.3,691.5 227.6,691.3 226.9,691.1 226.2,690.9 225.5,690.7 224.8,690.5 224.1,690.3 223.4,690.1 222.8,689.9 222.1,689.7 221.4,689.5 220.7,689.3 219.9,689.1 219.2,688.9 218.5,688.8 217.8,688.6 217.1,688.5 216.4,688.3 215.7,688.2 215.0,688.1 214.3,687.9 213.6,687.8 212.9,687.7 212.2,687.5 211.5,687.4 210.8,687.3 210.2,687.1 209.5,687.0 208.8,686.9 208.1,686.7 207.4,686.6 206.7,686.5 206.0,686.3 205.3,686.2 204.6,686.0 203.9,685.9 203.2,685.7 202.6,685.6 201.9,685.4 201.2,685.2 200.5,685.1 199.8,684.9 199.1,684.7 198.4,684.5 197.7,684.4 197.0,684.2 196.3,684.0 195.6,683.8 195.0,683.7 194.3,683.5 193.6,683.3 192.9,683.1 192.2,683.0 191.5,682.8 190.8,682.6 190.1,682.5 189.5,682.3 188.8,682.1 188.2,681.9 187.6,681.6 186.9,681.4 186.3,681.0 185.7,680.7 185.1,680.4 184.4,680.1 183.8,679.8 183.2,679.4 182.5,679.1 181.9,678.8 181.3,678.5 180.6,678.2 180.0,677.8 179.3,677.5 178.7,677.2 178.1,676.9 177.4,676.6 176.8,676.2 176.2,675.9 175.5,675.6 174.9,675.3 174.3,675.0 173.6,674.7 173.0,674.3 172.4,674.0 171.8,673.7 171.2,673.3 170.6,672.9 170.0,672.6 169.3,672.2 168.7,671.8 168.1,671.5 167.5,671.1 166.9,670.7 166.2,670.3 165.6,670.0 164.9,669.6 164.2,669.3 163.5,669.0 162.8,668.8 162.0,668.6 161.3,668.4 160.6,668.3 159.9,668.1 159.2,667.9 158.5,667.7 157.8,667.6 157.1,667.4 156.4,667.2 155.7,667.1 155.1,666.9 154.6,666.7 154.3,666.5 154.1,666.2 153.9,665.7 153.7,665.1 153.6,664.4 153.4,663.7 153.2,663.0 153.1,662.3 152.9,661.6 152.7,660.9 152.5,660.2 152.4,659.5 152.2,658.8 152.0,658.0 151.9,657.3 151.7,656.6 151.5,655.9 151.3,655.2 151.2,654.5 151.0,653.8 150.8,653.1 150.6,652.4 150.5,651.7 150.3,651.0 150.1,650.3 149.9,649.6 149.7,648.9 149.5,648.2 149.3,647.5 149.1,646.8 148.9,646.2 148.7,645.5 148.5,644.8 148.3,644.0 148.0,643.3 147.7,642.6 147.2,641.9 146.7,641.3 146.1,640.8 145.6,640.2 145.0,639.7 144.5,639.2 143.9,638.7 143.3,638.2 142.6,637.7 142.0,637.3 141.4,636.9 140.7,636.5 140.1,636.1 139.5,635.7 138.9,635.2 138.2,634.8 137.5,634.3 136.8,634.0 136.0,633.8 135.1,633.7 134.3,633.7 133.6,633.8 132.8,634.0 132.2,634.1 131.4,634.3 130.7,634.5 129.9,634.7 129.2,635.1 128.4,635.5 127.8,636.0 127.3,636.7 126.5,637.1 126.1,637.8 125.3,638.0 125.0,638.8 124.0,638.9 123.5,639.3 122.9,639.4 123.2,639.9 123.5,640.9 123.3,641.0 123.4,640.2 123.9,638.9 122.2,639.6 121.8,638.9 121.9,637.8 121.2,637.5 121.5,636.3 120.8,636.0 121.3,634.9 121.6,634.1 118.7,635.0 119.7,633.8 118.6,633.5 118.7,632.6 118.1,632.1 117.1,631.8 117.1,631.0 117.9,629.8 118.1,628.9 118.8,627.6 116.3,628.1 116.9,627.0 117.1,626.1 114.8,626.4 116.8,624.6 115.5,624.5 113.6,624.6 114.6,623.3 114.3,622.7 115.1,621.7 113.0,621.8 113.3,620.9 115.7,619.2 113.2,619.5 113.6,618.5 112.9,618.1 113.1,617.2 110.9,617.4 110.5,616.8 112.6,615.1 113.7,613.9 111.9,613.9 111.0,613.5 110.7,612.9 110.6,612.1 110.9,611.2 111.0,610.4 110.8,609.8 108.0,610.2 113.2,607.5 112.4,607.2 109.2,607.7 109.1,607.1 108.3,606.6 107.3,606.2 110.4,604.6 109.4,604.1 111.3,602.9 107.0,603.4 107.7,602.4 109.2,601.3 107.7,601.0 109.7,599.7 107.5,599.6 108.1,598.7 106.1,598.5 108.1,597.2 104.2,597.6 108.6,595.6 104.5,596.1 106.1,594.9 103.5,594.9 105.6,593.6 104.9,593.0 104.8,592.4 106.1,591.3 103.2,591.4 102.4,590.9 104.0,589.7 102.1,589.5 101.9,588.8 102.3,588.0 104.1,586.8 104.3,586.0 101.4,586.0 104.4,584.6 102.1,584.4 101.8,583.8 102.6,582.8 102.9,582.0 102.3,581.4 106.3,579.7 102.7,579.9 102.0,579.3 102.1,578.6 103.4,577.5 102.5,577.0 102.1,576.4 100.8,576.0 100.3,575.4 100.1,574.7 100.1,574.0 100.5,573.1 98.1,573.0 100.4,571.7 101.0,570.9 101.1,570.2 99.1,569.9 101.2,568.8 97.3,568.9 101.6,567.2 97.7,567.3 100.9,565.9 98.7,565.7 99.9,564.7 98.0,564.3 97.9,563.6 97.2,563.1 99.7,561.8 99.6,561.1 96.0,561.1 95.4,560.5 95.8,559.7 95.1,559.1 95.5,558.3 94.8,557.7 96.3,556.7 96.1,556.0 95.0,555.5 94.7,554.8 96.6,553.7 96.5,553.0 96.9,552.2 99.5,551.0 93.5,551.4 96.6,550.1 96.4,549.4 94.1,549.1 95.4,548.1 93.9,547.6 97.6,546.2 94.4,546.1 96.3,545.0 95.5,544.4 97.2,543.3 94.0,543.2 92.2,542.8 92.6,542.0 94.8,540.8 91.6,540.7 92.1,539.9 93.9,538.8 93.5,538.1 90.9,537.9 92.4,536.9 90.6,536.5 90.5,535.8 90.3,535.1 92.8,533.9 92.1,533.3 89.9,533.0 93.5,531.6 89.7,531.6 90.0,530.8 91.5,529.8 93.0,528.9 91.0,528.5 89.0,528.2 90.0,527.3 92.2,526.2 90.6,525.7 88.5,525.4 90.3,524.4 92.3,523.3 91.2,522.8 92.0,521.9 90.0,521.6 90.5,520.8 90.5,520.1 91.7,519.1 87.3,519.2 89.7,518.1 88.4,517.6 88.6,516.8 91.4,515.6 89.0,515.4 87.6,514.9 87.6,514.2 88.5,513.4 91.2,512.4 86.2,512.3 87.0,511.5 86.3,510.9 85.9,510.2 85.8,509.5 88.2,508.5 87.7,507.8 87.1,507.2 89.2,506.2 85.7,505.9 90.3,504.6 87.6,504.2 87.0,503.6 89.6,502.5 88.3,501.9 85.8,501.5 86.9,500.7 88.6,499.7 85.5,499.4 87.2,498.5 84.9,498.0 84.9,497.3 87.3,496.3 87.6,495.5 85.9,495.0 84.0,494.5 86.2,493.5 84.2,493.1 85.2,492.2 86.7,491.3 86.6,490.6 85.7,490.0 84.2,489.5 85.1,488.6 86.7,487.7 85.2,487.2 84.7,486.5 85.2,485.8 86.0,484.9 84.7,484.4 82.5,483.9 83.4,483.1 83.5,482.3 86.3,481.3 82.2,481.1 84.2,480.1 83.9,479.4 82.7,478.8 83.6,478.0 87.6,476.8 84.3,476.5 84.0,475.8 86.5,474.8 85.7,474.1 84.8,473.5 81.2,473.2 83.8,472.2 81.0,471.8 80.9,471.1 84.0,470.0 82.7,469.4 84.8,468.5 81.5,468.2 81.9,467.4 82.9,466.5 82.6,465.9 82.0,465.2 84.6,464.2 82.0,463.8 81.7,463.1 83.1,462.3 83.1,461.6 82.4,460.9 83.2,460.1 80.1,459.7 81.4,458.8 80.7,458.2 81.6,457.4 81.0,456.7 80.8,456.0 80.2,455.4 80.8,454.6 81.4,453.8 79.6,453.2 79.6,452.5 81.6,451.6 80.1,451.0 80.6,450.3 80.3,449.6 82.2,448.7 82.2,447.9 78.3,447.6 78.4,446.9 81.1,445.9 81.7,445.1 79.6,444.6 81.4,443.7 79.8,443.1 82.9,442.1 79.2,441.7 77.6,441.2 78.0,440.4 81.0,439.5 79.2,439.0 79.4,438.3 81.1,437.5 79.8,436.9 80.2,436.1 80.1,435.4 78.8,434.8 78.8,434.1 80.5,433.3 79.0,432.7 77.7,432.1 77.0,431.4 76.9,430.7 78.4,429.9 80.0,429.1 82.0,428.3 78.4,427.8 76.7,427.2 78.0,426.4 79.8,425.6 80.9,424.9 78.1,424.3 76.5,423.7 79.9,422.8 78.6,422.2 78.3,421.5 78.9,420.8 78.2,420.1 79.8,419.3 79.0,418.7 77.3,418.1 78.5,417.4 77.1,416.7 77.6,416.0 77.0,415.4 76.9,414.7 78.9,414.0 77.5,413.3 76.4,412.6 79.1,411.8 79.1,411.1 78.0,410.5 76.0,409.8 76.4,409.1 76.0,408.4 77.5,407.7 76.7,407.0 76.4,406.3 79.2,405.5 80.7,404.8 78.3,404.2 79.8,403.4 77.9,402.8 77.8,402.1 77.6,401.4 78.5,401.0 77.3,400.0"/>
<polygon points="74.5,423.2 76.3,423.2 76.3,443.5 78.1,443.5 78.1,463.3 79.9,463.3 79.9,477.7 81.7,477.7 81.7,492.3 83.5,492.3 83.5,504.7 85.3,504.7 85.3,510.6 87.1,510.6 87.1,526.5 88.9,526.5 88.9,533.5 90.7,533.5 90.7,542.8 92.5,542.8 92.5,553.1 94.3,553.1 94.3,561.7 96.1,561.7 96.1,567.2 97.9,567.2 97.9,576.4 99.7,576.4 99.7,582.4 101.5,582.4 101.5,591.5 103.3,591.5 103.3,597.7 105.1,597.7 105.1,599.7 106.9,599.7 106.9,607.6 108.7,607.6 108.7,611.1 110.5,611.1 110.5,611.9 112.3,611.9 112.3,618.5 114.1,618.5 114.1,622.8 115.9,622.8 115.9,626.7 117.7,626.7 117.7,630.4 119.5,630.4 119.5,632.5 121.3,632.5 121.3,629.6 123.1,629.6 123.1,632.0 124.9,632.0 124.9,628.7 126.7,628.7 126.7,631.5 128.5,631.5 128.5,624.6 130.3,624.6 130.3,628.0 132.1,628.0 132.1,628.0 133.9,628.0 133.9,628.7 135.7,628.7 135.7,624.1 137.5,624.1 137.5,630.0 139.3,630.0 139.3,628.7 141.1,628.7 141.1,631.4 142.9,631.4 142.9,629.9 144.7,629.9 144.7,635.5 146.5,635.5 146.5,637.8 148.3,637.8 148.3,644.3 150.1,644.3 150.1,649.0 151.9,649.0 151.9,658.6 153.7,658.6 153.7,661.0 155.5,661.0 155.5,659.6 157.3,659.6 157.3,659.7 159.1,659.7 159.1,660.1 160.9,660.1 160.9,663.6 162.7,663.6 162.7,663.2 164.5,663.2 164.5,664.5 166.3,664.5 166.3,665.9 168.1,665.9 168.1,666.8 169.9,666.8 169.9,667.0 171.7,667.0 171.7,665.8 173.5,665.8 173.5,668.2 175.3,668.2 175.3,670.7 177.1,670.7 177.1,671.9 178.9,671.9 178.9,672.3 180.7,672.3 180.7,671.8 182.5,671.8 182.5,667.1 184.3,667.1 184.3,668.8 186.1,668.8 186.1,676.3 187.9,676.3 187.9,673.7 189.7,673.7 189.7,676.0 191.5,676.0 191.5,678.5 193.3,678.5 193.3,678.3 195.1,678.3 195.1,677.1 196.9,677.1 196.9,678.1 198.7,678.1 198.7,677.1 200.5,677.1 200.5,679.9 202.3,679.9 202.3,677.6 204.1,677.6 204.1,678.4 205.9,678.4 205.9,681.4 207.7,681.4 207.7,682.3 209.5,682.3 209.5,681.3 211.3,681.3 211.3,682.8 213.1,682.8 213.1,683.3 214.9,683.3 214.9,682.4 216.7,682.4 216.7,683.8 218.5,683.8 218.5,681.3 220.3,681.3 220.3,685.0 222.1,685.0 222.1,684.7 223.9,684.7 223.9,685.5 225.7,685.5 225.7,685.6 227.5,685.6 227.5,686.6 229.3,686.6 229.3,687.4 231.1,687.4 231.1,683.6 232.9,683.6 232.9,687.5 234.7,687.5 234.7,686.2 236.5,686.2 236.5,690.0 238.3,690.0 238.3,689.5 240.1,689.5 240.1,686.9 241.9,686.9 241.9,689.4 243.7,689.4 243.7,691.6 245.5,691.6 245.5,691.3 247.3,691.3 247.3,691.8 249.1,691.8 249.1,693.2 250.9,693.2 250.9,691.0 252.7,691.0 252.7,692.7 254.5,692.7 254.5,693.9 256.3,693.9 256.3,694.9 258.1,694.9 258.1,693.4 259.9,693.4 259.9,690.6 261.7,690.6 261.7,696.4 263.5,696.4 263.5,694.8 265.3,694.8 265.3,693.5 267.1,693.5 267.1,691.3 268.9,691.3 268.9,692.1 270.7,692.1 270.7,692.0 272.5,692.0 272.5,690.4 274.3,690.4 274.3,691.9 276.1,691.9 276.1,704.2 274.3,704.2 274.3,703.0 272.5,703.0 272.5,703.0 270.7,703.0 270.7,707.7 268.9,707.7 268.9,706.5 267.1,706.5 267.1,706.3 265.3,706.3 265.3,707.8 263.5,707.8 263.5,708.4 261.7,708.4 261.7,708.8 259.9,708.8 259.9,706.7 258.1,706.7 258.1,706.9 256.3,706.9 256.3,706.9 254.5,706.9 254.5,705.4 252.7,705.4 252.7,709.3 250.9,709.3 250.9,708.4 249.1,708.4 249.1,704.8 247.3,704.8 247.3,703.5 245.5,703.5 245.5,703.7 243.7,703.7 243.7,702.7 241.9,702.7 241.9,702.4 240.1,702.4 240.1,702.2 238.3,702.2 238.3,701.9 236.5,701.9 236.5,700.5 234.7,700.5 234.7,701.0 232.9,701.0 232.9,700.1 231.1,700.1 231.1,702.7 229.3,702.7 229.3,702.1 227.5,702.1 227.5,698.6 225.7,698.6 225.7,697.2 223.9,697.2 223.9,698.6 222.1,698.6 222.1,698.3 220.3,698.3 220.3,696.0 218.5,696.0 218.5,695.3 216.7,695.3 216.7,697.3 214.9,697.3 214.9,696.1 213.1,696.1 213.1,694.8 211.3,694.8 211.3,694.4 209.5,694.4 209.5,693.4 207.7,693.4 207.7,698.8 205.9,698.8 205.9,696.5 204.1,696.5 204.1,693.3 202.3,693.3 202.3,692.3 200.5,692.3 200.5,695.5 198.7,695.5 198.7,693.4 196.9,693.4 196.9,691.1 195.1,691.1 195.1,691.4 193.3,691.4 193.3,694.7 191.5,694.7 191.5,692.7 189.7,692.7 189.7,690.0 187.9,690.0 187.9,696.7 186.1,696.7 186.1,688.0 184.3,688.0 184.3,690.2 182.5,690.2 182.5,688.2 180.7,688.2 180.7,685.3 178.9,685.3 178.9,683.7 177.1,683.7 177.1,683.8 175.3,683.8 175.3,682.6 173.5,682.6 173.5,683.6 171.7,683.6 171.7,680.4 169.9,680.4 169.9,681.3 168.1,681.3 168.1,681.6 166.3,681.6 166.3,680.3 164.5,680.3 164.5,683.0 162.7,683.0 162.7,676.9 160.9,676.9 160.9,675.5 159.1,675.5 159.1,675.6 157.3,675.6 157.3,680.1 155.5,680.1 155.5,675.2 153.7,675.2 153.7,675.7 151.9,675.7 151.9,665.0 150.1,665.0 150.1,658.2 148.3,658.2 148.3,655.1 146.5,655.1 146.5,647.7 144.7,647.7 144.7,646.2 142.9,646.2 142.9,647.1 141.1,647.1 141.1,645.1 139.3,645.1 139.3,642.5 137.5,642.5 137.5,644.0 135.7,644.0 135.7,642.5 133.9,642.5 133.9,647.6 132.1,647.6 132.1,641.9 130.3,641.9 130.3,642.2 128.5,642.2 128.5,644.7 126.7,644.7 126.7,647.0 124.9,647.0 124.9,650.4 123.1,650.4 123.1,647.8 121.3,647.8 121.3,646.2 119.5,646.2 119.5,643.0 117.7,643.0 117.7,640.9 115.9,640.9 115.9,640.7 114.1,640.7 114.1,633.5 112.3,633.5 112.3,630.1 110.5,630.1 110.5,627.1 108.7,627.1 108.7,620.0 106.9,620.0 106.9,616.2 105.1,616.2 105.1,609.5 103.3,609.5 103.3,606.0 101.5,606.0 101.5,600.2 99.7,600.2 99.7,591.2 97.9,591.2 97.9,585.7 96.1,585.7 96.1,576.9 94.3,576.9 94.3,570.0 92.5,570.0 92.5,558.3 90.7,558.3 90.7,549.8 88.9,549.8 88.9,539.4 87.1,539.4 87.1,529.2 85.3,529.2 85.3,526.3 83.5,526.3 83.5,506.8 81.7,506.8 81.7,489.3 79.9,489.3 79.9,476.7 78.1,476.7 78.1,459.4 76.3,459.4 76.3,437.8 74.5,437.8"/>
</g></defs>
</g>
<clipPath id="h4"><rect x="48.2" y="413.5" width="240.0" height="320.9"/></clipPath>
<use href="#band4" fill="#fff" stroke="#fff" stroke-width="3.2" stroke-linejoin="round" clip-path="url(#h4)"/>
<g clip-path="url(#c4)">
<use href="#band4" fill="#3c438e"/>
<rect x="73.1" y="416.9" width="3.2" height="3.2" rx="1.3" fill="#0d0d26" opacity="0.75"/>
<circle cx="94.8" cy="720.2" r="1.6" fill="#3c438e"/>
<circle cx="99.1" cy="607.3" r="1.6" fill="#262a6a"/>
<circle cx="102.8" cy="608.0" r="1.6" fill="#262a6a"/>
<circle cx="105.9" cy="528.3" r="1.6" fill="#3c438e"/>
<circle cx="109.9" cy="527.7" r="1.6" fill="#3c438e"/>
<circle cx="113.7" cy="510.2" r="1.6" fill="#3c438e"/>
<circle cx="117.0" cy="569.5" r="1.6" fill="#3c438e"/>
<circle cx="120.9" cy="490.5" r="1.6" fill="#3c438e"/>
<circle cx="124.3" cy="487.1" r="1.6" fill="#3c438e"/>
<circle cx="127.8" cy="462.0" r="1.6" fill="#3c438e"/>
<circle cx="131.6" cy="477.3" r="1.6" fill="#262a6a"/>
<circle cx="135.2" cy="516.2" r="1.6" fill="#3c438e"/>
<circle cx="139.0" cy="566.2" r="1.6" fill="#3c438e"/>
<circle cx="142.6" cy="526.1" r="1.6" fill="#3c438e"/>
<circle cx="146.2" cy="521.2" r="1.6" fill="#3c438e"/>
<circle cx="150.0" cy="464.6" r="1.6" fill="#3c438e"/>
<circle cx="153.7" cy="508.0" r="1.6" fill="#3c438e"/>
<circle cx="157.1" cy="442.7" r="1.6" fill="#3c438e"/>
<circle cx="160.9" cy="494.9" r="1.6" fill="#3c438e"/>
<circle cx="164.7" cy="478.3" r="1.6" fill="#262a6a"/>
<circle cx="168.1" cy="536.1" r="1.6" fill="#3c438e"/>
<circle cx="171.9" cy="564.0" r="1.6" fill="#3c438e"/>
<circle cx="175.7" cy="483.3" r="1.6" fill="#262a6a"/>
<circle cx="179.0" cy="467.4" r="1.6" fill="#3c438e"/>
<circle cx="182.8" cy="538.9" r="1.6" fill="#3c438e"/>
<circle cx="186.6" cy="492.5" r="1.6" fill="#3c438e"/>
<circle cx="190.0" cy="568.4" r="1.6" fill="#3c438e"/>
<circle cx="193.8" cy="538.9" r="1.6" fill="#3c438e"/>
<circle cx="197.6" cy="487.1" r="1.6" fill="#3c438e"/>
<circle cx="201.0" cy="515.2" r="1.6" fill="#3c438e"/>
<circle cx="204.7" cy="508.4" r="1.6" fill="#3c438e"/>
<circle cx="208.5" cy="518.4" r="1.6" fill="#3c438e"/>
<circle cx="211.9" cy="533.3" r="1.6" fill="#3c438e"/>
<circle cx="215.7" cy="479.3" r="1.6" fill="#262a6a"/>
<circle cx="219.3" cy="489.9" r="1.6" fill="#3c438e"/>
<circle cx="222.7" cy="572.8" r="1.6" fill="#3c438e"/>
<circle cx="226.7" cy="533.3" r="1.6" fill="#3c438e"/>
<circle cx="230.0" cy="464.6" r="1.6" fill="#3c438e"/>
<circle cx="233.8" cy="456.4" r="1.6" fill="#3c438e"/>
<circle cx="237.6" cy="438.9" r="1.6" fill="#3c438e"/>
<circle cx="241.2" cy="449.2" r="1.6" fill="#3c438e"/>
<circle cx="245.0" cy="430.1" r="1.6" fill="#3c438e"/>
<circle cx="248.8" cy="436.5" r="1.6" fill="#3c438e"/>
<circle cx="252.0" cy="446.1" r="1.6" fill="#3c438e"/>
<circle cx="255.7" cy="463.0" r="1.6" fill="#3c438e"/>
<circle cx="259.5" cy="461.0" r="1.6" fill="#3c438e"/>
<circle cx="262.9" cy="453.0" r="1.6" fill="#3c438e"/>
<circle cx="266.7" cy="452.0" r="1.6" fill="#3c438e"/>
<circle cx="270.5" cy="473.5" r="1.6" fill="#3c438e"/>
<circle cx="274.1" cy="464.6" r="1.6" fill="#3c438e"/>
<circle cx="277.8" cy="446.5" r="1.6" fill="#3c438e"/>
</g>
<rect x="190.2" y="565.5" width="93.2" height="19.4" rx="2" fill="#f0f0f0" fill-opacity="0.85" stroke="#e6e6e6" stroke-width="0.8"/>
<rect x="222.2" y="567.0" width="58" height="16.4" rx="3" fill="#ffffff" opacity="0.85"/>
<circle cx="205.9" cy="575.7" r="4" fill="#ffffff" opacity="0.8"/>
<circle cx="205.9" cy="575.7" r="1.7" fill="#0d0d26"/>
<text transform="translate(225.2,578.2) scale(1.03,1)" font-size="10.6" text-anchor="start" fill="#111111" font-weight="normal" font-family="'DejaVu Sans', 'Liberation Sans', sans-serif" stroke="#111" stroke-width="0.3">mAP@0.5</text>
<line x1="373.6" y1="734.4" x2="612.2" y2="734.4" stroke="#e8e8e8" stroke-width="1.8"/>
<text transform="translate(365.6,738.2) scale(1.05,1)" font-size="10.5" text-anchor="end" fill="#262626" font-weight="normal" font-family="'DejaVu Sans', 'Liberation Sans', sans-serif" stroke="#262626" stroke-width="0.15">0</text>
<line x1="373.6" y1="670.7" x2="612.2" y2="670.7" stroke="#e8e8e8" stroke-width="1.8"/>
<text transform="translate(365.6,674.5) scale(1.05,1)" font-size="10.5" text-anchor="end" fill="#262626" font-weight="normal" font-family="'DejaVu Sans', 'Liberation Sans', sans-serif" stroke="#262626" stroke-width="0.15">1</text>
<line x1="373.6" y1="607.0" x2="612.2" y2="607.0" stroke="#e8e8e8" stroke-width="1.8"/>
<text transform="translate(365.6,610.8) scale(1.05,1)" font-size="10.5" text-anchor="end" fill="#262626" font-weight="normal" font-family="'DejaVu Sans', 'Liberation Sans', sans-serif" stroke="#262626" stroke-width="0.15">2</text>
<line x1="373.6" y1="543.4" x2="612.2" y2="543.4" stroke="#e8e8e8" stroke-width="1.8"/>
<text transform="translate(365.6,547.2) scale(1.05,1)" font-size="10.5" text-anchor="end" fill="#262626" font-weight="normal" font-family="'DejaVu Sans', 'Liberation Sans', sans-serif" stroke="#262626" stroke-width="0.15">3</text>
<line x1="373.6" y1="479.7" x2="612.2" y2="479.7" stroke="#e8e8e8" stroke-width="1.8"/>
<text transform="translate(365.6,483.5) scale(1.05,1)" font-size="10.5" text-anchor="end" fill="#262626" font-weight="normal" font-family="'DejaVu Sans', 'Liberation Sans', sans-serif" stroke="#262626" stroke-width="0.15">4</text>
<line x1="373.6" y1="416.0" x2="612.2" y2="416.0" stroke="#e8e8e8" stroke-width="1.8"/>
<text transform="translate(365.6,419.8) scale(1.05,1)" font-size="10.5" text-anchor="end" fill="#262626" font-weight="normal" font-family="'DejaVu Sans', 'Liberation Sans', sans-serif" stroke="#262626" stroke-width="0.15">5</text>
<line x1="372.6" y1="416.0" x2="372.6" y2="734.9" stroke="#eeeeee" stroke-width="1.6"/>
<line x1="614.0" y1="416.0" x2="614.0" y2="734.9" stroke="#f3f3f3" stroke-width="1.8"/>
<text transform="translate(383.0,748.6) scale(1.05,1)" font-size="10.5" text-anchor="middle" fill="#262626" font-weight="normal" font-family="'DejaVu Sans', 'Liberation Sans', sans-serif" stroke="#262626" stroke-width="0.15">0</text>
<text transform="translate(419.5,748.6) scale(1.05,1)" font-size="10.5" text-anchor="middle" fill="#262626" font-weight="normal" font-family="'DejaVu Sans', 'Liberation Sans', sans-serif" stroke="#262626" stroke-width="0.15">1000</text>
<text transform="translate(455.9,748.6) scale(1.05,1)" font-size="10.5" text-anchor="middle" fill="#262626" font-weight="normal" font-family="'DejaVu Sans', 'Liberation Sans', sans-serif" stroke="#262626" stroke-width="0.15">2000</text>
<text transform="translate(492.4,748.6) scale(1.05,1)" font-size="10.5" text-anchor="middle" fill="#262626" font-weight="normal" font-family="'DejaVu Sans', 'Liberation Sans', sans-serif" stroke="#262626" stroke-width="0.15">3000</text>
<text transform="translate(528.9,748.6) scale(1.05,1)" font-size="10.5" text-anchor="middle" fill="#262626" font-weight="normal" font-family="'DejaVu Sans', 'Liberation Sans', sans-serif" stroke="#262626" stroke-width="0.15">4000</text>
<text transform="translate(565.4,748.6) scale(1.05,1)" font-size="10.5" text-anchor="middle" fill="#262626" font-weight="normal" font-family="'DejaVu Sans', 'Liberation Sans', sans-serif" stroke="#262626" stroke-width="0.15">5000</text>
<text transform="translate(601.8,748.6) scale(1.05,1)" font-size="10.5" text-anchor="middle" fill="#262626" font-weight="normal" font-family="'DejaVu Sans', 'Liberation Sans', sans-serif" stroke="#262626" stroke-width="0.15">6000</text>
<text transform="translate(492.8,763.7) scale(1.01,1)" font-size="14.4" text-anchor="middle" fill="#1a1a1a" font-weight="normal" font-family="'DejaVu Sans', 'Liberation Sans', sans-serif" stroke="#1a1a1a" stroke-width="0.15">Iterations</text>
<text transform="translate(492.8,411.4) scale(1.015,1)" font-size="17.0" text-anchor="middle" fill="#111111" font-weight="normal" font-family="'DejaVu Sans', 'Liberation Sans', sans-serif" stroke="#111111" stroke-width="0.15">YOLOv4-512</text>
<text transform="translate(354.0,575.2) rotate(-90) scale(1,1.05)" font-size="14.4" text-anchor="middle" fill="#1a1a1a" font-family="'DejaVu Sans', 'Liberation Sans', sans-serif" stroke="#1a1a1a" stroke-width="0.15">Loss</text>
<text transform="translate(619.2,425.7) scale(0.9,1)" font-size="9.6" text-anchor="start" fill="#2a2a2a" font-weight="normal" font-family="'DejaVu Sans', 'Liberation Sans', sans-serif" stroke="#2a2a2a" stroke-width="0.3">93</text>
<text transform="translate(619.2,479.9) scale(0.9,1)" font-size="9.6" text-anchor="start" fill="#2a2a2a" font-weight="normal" font-family="'DejaVu Sans', 'Liberation Sans', sans-serif" stroke="#2a2a2a" stroke-width="0.3">92</text>
<text transform="translate(619.2,534.1) scale(0.9,1)" font-size="9.6" text-anchor="start" fill="#2a2a2a" font-weight="normal" font-family="'DejaVu Sans', 'Liberation Sans', sans-serif" stroke="#2a2a2a" stroke-width="0.3">91</text>
<text transform="translate(619.2,588.3) scale(0.9,1)" font-size="9.6" text-anchor="start" fill="#2a2a2a" font-weight="normal" font-family="'DejaVu Sans', 'Liberation Sans', sans-serif" stroke="#2a2a2a" stroke-width="0.3">90</text>
<text transform="translate(619.2,642.5) scale(0.9,1)" font-size="9.6" text-anchor="start" fill="#2a2a2a" font-weight="normal" font-family="'DejaVu Sans', 'Liberation Sans', sans-serif" stroke="#2a2a2a" stroke-width="0.3">89</text>
<text transform="translate(619.2,696.7) scale(0.9,1)" font-size="9.6" text-anchor="start" fill="#2a2a2a" font-weight="normal" font-family="'DejaVu Sans', 'Liberation Sans', sans-serif" stroke="#2a2a2a" stroke-width="0.3">88</text>
<clipPath id="c5"><rect x="372.6" y="416.9" width="240.4" height="317.5"/></clipPath>
<g clip-path="url(#c5)">
<circle cx="419.2" cy="720.3" r="3.2" fill="#fff"/>
<circle cx="422.9" cy="682.0" r="3.2" fill="#fff"/>
<circle cx="426.4" cy="570.0" r="3.2" fill="#fff"/>
<circle cx="430.3" cy="548.7" r="3.2" fill="#fff"/>
<circle cx="434.1" cy="577.7" r="3.2" fill="#fff"/>
<circle cx="437.5" cy="564.0" r="3.2" fill="#fff"/>
<circle cx="441.3" cy="538.7" r="3.2" fill="#fff"/>
<circle cx="445.1" cy="503.6" r="3.2" fill="#fff"/>
<circle cx="448.5" cy="520.2" r="3.2" fill="#fff"/>
<circle cx="452.3" cy="539.3" r="3.2" fill="#fff"/>
<circle cx="456.0" cy="533.3" r="3.2" fill="#fff"/>
<circle cx="459.4" cy="567.4" r="3.2" fill="#fff"/>
<circle cx="463.2" cy="520.6" r="3.2" fill="#fff"/>
<circle cx="467.2" cy="459.6" r="3.2" fill="#fff"/>
<circle cx="470.6" cy="512.4" r="3.2" fill="#fff"/>
<circle cx="474.4" cy="521.8" r="3.2" fill="#fff"/>
<circle cx="478.1" cy="583.7" r="3.2" fill="#fff"/>
<circle cx="481.5" cy="474.0" r="3.2" fill="#fff"/>
<circle cx="485.1" cy="525.6" r="3.2" fill="#fff"/>
<circle cx="488.9" cy="505.8" r="3.2" fill="#fff"/>
<circle cx="492.5" cy="525.0" r="3.2" fill="#fff"/>
<circle cx="496.1" cy="486.5" r="3.2" fill="#fff"/>
<circle cx="499.7" cy="543.7" r="3.2" fill="#fff"/>
<circle cx="503.2" cy="504.0" r="3.2" fill="#fff"/>
<circle cx="507.0" cy="496.9" r="3.2" fill="#fff"/>
<circle cx="510.6" cy="507.4" r="3.2" fill="#fff"/>
<circle cx="514.2" cy="476.2" r="3.2" fill="#fff"/>
<circle cx="518.0" cy="483.3" r="3.2" fill="#fff"/>
<circle cx="521.6" cy="474.0" r="3.2" fill="#fff"/>
<circle cx="525.4" cy="464.6" r="3.2" fill="#fff"/>
<circle cx="529.1" cy="493.3" r="3.2" fill="#fff"/>
<circle cx="532.3" cy="550.9" r="3.2" fill="#fff"/>
<circle cx="536.3" cy="483.9" r="3.2" fill="#fff"/>
<circle cx="540.1" cy="507.4" r="3.2" fill="#fff"/>
<circle cx="543.5" cy="557.4" r="3.2" fill="#fff"/>
<circle cx="547.3" cy="529.3" r="3.2" fill="#fff"/>
<circle cx="551.3" cy="496.5" r="3.2" fill="#fff"/>
<circle cx="554.4" cy="505.8" r="3.2" fill="#fff"/>
<circle cx="558.2" cy="557.4" r="3.2" fill="#fff"/>
<circle cx="562.0" cy="521.8" r="3.2" fill="#fff"/>
<circle cx="565.4" cy="483.3" r="3.2" fill="#fff"/>
<circle cx="569.2" cy="468.4" r="3.2" fill="#fff"/>
<circle cx="573.0" cy="481.1" r="3.2" fill="#fff"/>
<circle cx="576.4" cy="475.0" r="3.2" fill="#fff"/>
<circle cx="580.1" cy="483.3" r="3.2" fill="#fff"/>
<circle cx="583.5" cy="474.0" r="3.2" fill="#fff"/>
<circle cx="587.3" cy="469.0" r="3.2" fill="#fff"/>
<circle cx="591.1" cy="430.0" r="3.2" fill="#fff"/>
<circle cx="594.5" cy="466.4" r="3.2" fill="#fff"/>
<circle cx="598.3" cy="473.6" r="3.2" fill="#fff"/>
<circle cx="602.3" cy="458.0" r="3.2" fill="#fff"/>
<defs><g id="band5">
<polygon points="397.1,400.0 396.6,401.1 395.4,401.4 396.9,402.1 395.7,402.8 396.1,403.5 397.2,404.2 396.2,404.9 396.5,405.6 397.0,406.3 397.0,407.0 396.5,407.7 396.0,408.4 397.6,409.1 397.3,409.8 397.6,410.5 396.5,411.2 397.4,411.9 397.4,412.6 396.2,413.3 395.4,414.0 397.7,414.7 397.4,415.4 396.4,416.1 396.7,416.8 395.6,417.6 395.8,418.3 396.8,419.0 395.2,419.7 394.4,420.5 395.8,421.1 397.1,421.8 395.4,422.6 396.4,423.3 396.1,424.0 396.8,424.7 396.6,425.4 395.9,426.1 397.8,426.8 395.8,427.6 397.6,428.2 396.4,429.0 397.9,429.6 397.9,430.3 396.8,431.1 396.9,431.8 397.3,432.5 398.1,433.2 397.2,433.9 397.3,434.6 397.6,435.3 396.8,436.1 396.9,436.8 396.5,437.5 395.4,438.2 397.9,438.9 397.0,439.6 397.6,440.3 397.0,441.1 397.4,441.8 395.4,442.5 396.9,443.2 398.1,443.9 397.2,444.6 397.7,445.3 396.5,446.1 396.4,446.8 396.8,447.5 396.7,448.2 396.7,449.0 397.7,449.6 396.8,450.4 397.4,451.1 395.7,451.9 398.5,452.5 397.5,453.2 398.0,453.9 396.2,454.7 397.9,455.3 398.0,456.1 397.5,456.8 397.2,457.5 398.9,458.1 398.5,458.9 399.2,459.6 397.1,460.4 397.1,461.1 399.3,461.7 398.4,462.5 398.2,463.2 398.2,463.9 396.1,464.7 399.1,465.3 399.1,466.0 398.2,466.8 397.3,467.5 399.2,468.1 398.1,468.9 398.4,469.6 399.4,470.3 399.0,471.0 399.1,471.7 397.5,472.5 398.0,473.2 399.3,473.8 397.0,474.7 397.9,475.3 397.7,476.1 398.9,476.7 398.8,477.5 396.3,478.4 397.8,479.0 399.2,479.6 400.4,480.2 398.3,481.1 400.3,481.6 399.5,482.4 399.6,483.1 398.6,483.9 399.6,484.5 399.5,485.3 399.1,486.0 399.7,486.7 400.2,487.3 399.5,488.1 401.0,488.7 400.1,489.5 400.1,490.2 399.5,490.9 399.0,491.7 399.2,492.4 400.0,493.0 400.3,493.7 399.0,494.5 401.5,495.0 400.2,495.9 401.5,496.5 399.6,497.3 400.7,497.9 400.6,498.7 401.5,499.3 400.5,500.1 400.5,500.8 400.1,501.5 400.9,502.2 401.7,502.8 401.4,503.6 401.7,504.3 400.1,505.1 402.3,505.6 402.0,506.4 401.1,507.2 401.7,507.8 400.2,508.7 400.3,509.4 401.5,510.1 402.4,510.7 402.1,511.5 402.9,512.1 403.0,512.8 399.8,514.0 401.3,514.5 400.2,515.4 402.0,515.9 402.2,516.6 403.0,517.2 402.4,518.0 401.6,518.9 402.8,519.4 402.6,520.2 401.6,521.0 402.1,521.7 403.3,522.2 404.5,522.8 404.5,523.5 403.1,524.5 404.1,525.0 404.1,525.8 404.0,526.5 404.2,527.2 403.3,528.1 404.6,528.6 403.6,529.5 404.2,530.1 405.7,530.6 404.0,531.6 403.7,532.4 404.5,533.0 403.7,533.8 404.2,534.5 404.6,535.2 405.5,535.8 406.0,536.4 403.5,537.6 404.1,538.3 404.7,538.9 406.7,539.3 404.0,540.5 405.9,540.9 405.7,541.7 404.4,542.6 407.7,542.7 405.3,543.9 405.9,544.6 406.9,545.1 405.8,546.1 406.6,546.6 407.2,547.3 405.5,548.3 407.8,548.6 406.6,549.6 409.0,549.9 408.2,550.7 409.3,551.3 407.6,552.3 409.4,552.7 406.7,554.0 408.0,554.5 409.2,555.0 409.0,555.8 408.2,556.7 406.7,557.7 407.7,558.3 409.9,558.5 408.4,559.6 408.7,560.3 409.4,560.8 409.5,561.6 410.7,562.0 408.2,563.3 410.9,563.4 410.9,564.2 410.3,565.0 410.3,565.8 410.2,566.5 410.8,567.1 412.1,567.6 410.4,568.7 410.8,569.3 411.3,569.9 411.4,570.7 412.2,571.2 412.4,571.9 411.7,572.7 410.9,573.6 414.0,573.8 411.6,574.9 412.0,575.6 413.8,576.0 412.3,577.0 414.1,577.4 413.0,578.4 413.4,579.0 413.8,579.7 413.2,580.5 413.4,581.2 415.0,581.7 412.6,582.9 415.7,583.0 412.3,584.4 414.6,584.7 415.7,585.2 414.6,586.1 416.4,586.5 415.9,587.4 415.0,588.3 413.9,589.2 414.1,589.9 416.2,590.3 415.5,591.1 417.4,591.5 415.3,592.6 416.5,593.1 417.7,593.6 415.3,594.7 416.5,595.3 417.8,595.8 415.0,596.9 416.6,597.4 417.6,598.0 417.5,598.7 418.7,599.2 418.8,599.9 416.9,601.0 417.9,601.5 417.8,602.3 418.1,602.9 417.8,603.7 419.5,604.1 418.8,605.0 419.7,605.6 419.4,606.3 418.0,607.3 418.6,607.9 417.9,608.7 419.8,609.2 419.1,610.0 419.3,610.7 420.5,611.2 418.1,612.3 417.4,613.2 419.4,613.6 420.4,614.2 420.4,614.9 420.9,615.6 418.7,616.9 419.6,617.5 420.4,618.0 419.6,618.9 420.9,619.3 420.5,620.2 421.2,620.7 420.7,621.6 420.8,622.2 422.2,622.6 421.4,623.5 420.4,624.5 423.9,624.3 420.7,625.9 423.6,625.8 423.1,626.7 424.0,627.1 423.0,628.2 422.7,629.0 424.4,629.2 423.9,630.1 424.6,630.6 424.2,631.5 424.9,632.1 424.4,633.0 425.4,633.5 425.2,634.4 426.7,634.6 427.1,635.2 426.8,636.1 427.5,636.5 427.4,637.3 428.2,637.7 426.7,639.1 428.6,639.1 429.5,639.5 429.1,640.4 429.3,641.1 429.2,641.9 430.6,642.0 429.5,643.3 430.0,643.9 430.0,644.6 431.2,644.8 431.5,645.5 430.7,646.6 430.7,647.4 432.4,647.5 431.8,648.6 433.3,648.7 433.1,649.6 433.5,650.2 434.1,650.8 433.9,651.7 435.0,652.0 434.9,652.8 435.0,653.6 435.9,654.0 435.9,654.8 436.4,655.4 436.9,656.0 437.1,656.7 437.6,657.3 437.9,657.9 438.3,658.6 438.7,659.3 439.2,659.9 439.7,660.5 440.2,661.1 440.7,661.6 441.2,662.1 441.7,662.6 442.2,663.1 442.7,663.6 443.2,664.1 443.7,664.6 444.2,665.1 444.7,665.6 445.2,666.1 445.8,666.7 446.5,667.1 447.2,667.5 448.0,667.6 448.8,667.6 449.6,667.5 450.4,667.3 451.0,667.2 451.8,667.0 452.5,666.8 453.3,666.5 454.0,666.1 454.6,665.6 455.1,664.9 455.4,664.2 455.8,663.6 456.1,662.9 456.4,662.3 456.8,661.7 457.1,661.0 457.4,660.4 457.7,659.7 458.0,659.0 458.2,658.3 458.5,657.6 458.7,656.9 459.0,656.3 459.1,656.0 458.5,656.2 457.9,655.9 458.0,656.2 458.1,656.8 458.3,657.5 458.4,658.2 458.6,658.9 458.7,659.6 458.9,660.3 459.1,661.1 459.2,661.8 459.4,662.5 459.6,663.3 459.9,664.0 460.2,664.7 460.5,665.4 460.8,666.1 461.2,666.8 461.7,667.4 462.3,668.0 462.9,668.5 463.6,668.9 464.3,669.4 464.9,669.8 465.5,670.2 466.1,670.6 466.8,671.0 467.4,671.4 468.0,671.8 468.7,672.2 469.3,672.6 469.9,673.0 470.6,673.3 471.2,673.6 471.8,674.0 472.5,674.3 473.1,674.6 473.7,674.9 474.3,675.2 475.0,675.5 475.6,675.9 476.2,676.2 476.8,676.5 477.5,676.9 478.1,677.3 478.8,677.7 479.4,678.1 480.1,678.5 480.8,678.9 481.4,679.3 482.1,679.7 482.8,680.1 483.4,680.4 484.1,680.8 484.7,681.1 485.4,681.4 486.0,681.7 486.7,682.1 487.3,682.4 488.0,682.7 488.6,683.0 489.3,683.4 489.9,683.7 490.6,684.0 491.2,684.3 491.8,684.6 492.5,685.0 493.1,685.3 493.6,685.7 494.2,686.0 494.8,686.4 495.3,686.8 495.9,687.2 496.5,687.6 497.1,688.0 497.7,688.4 498.2,688.8 498.8,689.2 499.4,689.6 500.0,690.0 500.6,690.4 501.1,690.8 501.7,691.2 502.3,691.6 502.9,692.1 503.6,692.4 504.3,692.8 505.0,693.0 505.8,693.3 506.6,693.4 507.3,693.6 508.0,693.7 508.8,693.9 509.5,694.0 510.2,694.2 510.9,694.3 511.7,694.4 512.4,694.6 513.1,694.7 513.9,694.9 514.7,695.0 515.5,695.0 516.3,695.0 517.0,694.9 517.7,694.8 518.4,694.6 519.1,694.5 519.8,694.4 520.5,694.2 521.2,694.1 521.9,693.9 522.6,693.8 523.3,693.7 523.9,693.5 524.6,693.4 525.3,693.3 526.1,693.1 526.8,692.9 527.5,692.7 528.2,692.4 528.9,692.2 529.5,691.9 530.2,691.7 530.9,691.4 531.5,691.2 532.2,690.9 532.9,690.7 533.5,690.4 534.1,690.2 534.7,690.0 535.3,689.9 535.9,689.9 536.6,689.9 537.3,690.1 538.0,690.2 538.7,690.3 539.4,690.4 540.1,690.5 540.8,690.7 541.4,690.9 541.9,691.2 542.5,691.5 543.1,691.8 543.6,692.2 544.2,692.6 544.8,693.0 545.4,693.4 546.1,693.8 546.7,694.3 547.3,694.6 548.0,695.0 548.7,695.3 549.4,695.6 550.1,695.8 550.8,696.0 551.5,696.2 552.2,696.4 552.9,696.6 553.6,696.8 554.2,697.0 554.9,697.2 555.6,697.4 556.3,697.6 557.0,697.8 557.7,698.0 558.3,698.2 559.0,698.4 559.7,698.6 560.4,698.8 561.1,699.0 561.8,699.2 562.5,699.4 563.2,699.6 563.8,699.8 564.5,700.0 565.2,700.2 565.9,700.3 566.6,700.5 567.3,700.7 568.0,700.9 568.7,701.1 569.4,701.3 570.1,701.4 570.9,701.5 571.6,701.6 572.4,701.7 573.1,701.8 573.8,701.8 574.6,701.9 575.3,702.0 576.0,702.0 576.7,702.1 577.5,702.2 578.2,702.2 578.9,702.3 579.7,702.4 580.4,702.4 581.1,702.5 581.9,702.6 582.6,702.6 583.3,702.7 584.1,702.7 584.8,702.8 585.5,702.9 586.3,702.9 587.0,703.0 587.7,703.0 588.5,703.1 589.2,703.2 589.9,703.2 590.7,703.3 591.4,703.3 592.1,703.4 592.9,703.4 593.6,703.5 594.4,703.5 595.1,703.5 595.8,703.6 596.6,703.6 597.3,703.6 598.0,703.7 598.8,703.7 599.5,703.7 599.9,703.7 601.0,703.8 601.0,701.8 599.9,701.8 599.6,701.7 598.8,701.7 598.1,701.7 597.4,701.6 596.6,701.6 595.9,701.6 595.2,701.5 594.4,701.5 593.7,701.5 593.0,701.4 592.3,701.4 591.5,701.3 590.8,701.3 590.1,701.2 589.3,701.2 588.6,701.1 587.9,701.0 587.1,701.0 586.4,700.9 585.7,700.9 584.9,700.8 584.2,700.7 583.5,700.7 582.7,700.6 582.0,700.6 581.3,700.5 580.6,700.4 579.8,700.4 579.1,700.3 578.4,700.2 577.7,700.2 576.9,700.1 576.2,700.0 575.5,700.0 574.8,699.9 574.0,699.8 573.3,699.8 572.6,699.7 571.9,699.6 571.2,699.6 570.5,699.4 569.8,699.3 569.2,699.2 568.5,699.0 567.8,698.8 567.1,698.6 566.4,698.4 565.8,698.2 565.1,698.0 564.4,697.8 563.7,697.7 563.0,697.5 562.3,697.3 561.6,697.1 560.9,696.9 560.3,696.7 559.6,696.5 558.9,696.3 558.2,696.1 557.5,695.9 556.9,695.7 556.2,695.5 555.5,695.3 554.8,695.1 554.1,694.9 553.5,694.7 552.8,694.5 552.1,694.3 551.4,694.1 550.7,693.9 550.1,693.7 549.5,693.4 548.9,693.2 548.3,692.9 547.7,692.5 547.1,692.2 546.6,691.8 546.0,691.4 545.4,691.0 544.8,690.6 544.1,690.2 543.5,689.7 542.8,689.4 542.1,689.0 541.3,688.8 540.6,688.6 539.8,688.5 539.0,688.3 538.3,688.2 537.5,688.1 536.8,687.9 536.0,687.9 535.1,687.9 534.3,688.0 533.6,688.2 532.9,688.5 532.2,688.8 531.5,689.0 530.8,689.3 530.2,689.5 529.5,689.8 528.8,690.0 528.2,690.3 527.5,690.5 526.9,690.8 526.2,691.0 525.6,691.1 524.9,691.3 524.2,691.4 523.6,691.6 522.9,691.7 522.2,691.8 521.5,692.0 520.8,692.1 520.1,692.3 519.4,692.4 518.7,692.5 518.1,692.7 517.4,692.8 516.7,692.9 516.1,693.0 515.5,693.0 514.9,693.0 514.2,692.9 513.5,692.8 512.8,692.6 512.1,692.5 511.3,692.3 510.6,692.2 509.9,692.0 509.2,691.9 508.4,691.8 507.7,691.6 507.0,691.5 506.3,691.3 505.7,691.1 505.1,690.9 504.5,690.7 504.0,690.3 503.4,690.0 502.9,689.6 502.3,689.2 501.7,688.8 501.1,688.4 500.5,688.0 500.0,687.6 499.4,687.2 498.8,686.8 498.2,686.4 497.6,686.0 497.1,685.6 496.5,685.2 495.9,684.8 495.3,684.4 494.7,684.0 494.1,683.6 493.4,683.2 492.8,682.9 492.1,682.5 491.5,682.2 490.8,681.9 490.2,681.6 489.5,681.2 488.9,680.9 488.2,680.6 487.6,680.3 486.9,679.9 486.3,679.6 485.6,679.3 485.0,679.0 484.4,678.7 483.7,678.3 483.1,678.0 482.4,677.6 481.8,677.2 481.1,676.8 480.5,676.4 479.8,676.0 479.1,675.6 478.5,675.2 477.8,674.8 477.2,674.4 476.5,674.1 475.9,673.8 475.3,673.4 474.6,673.1 474.0,672.8 473.4,672.5 472.8,672.2 472.1,671.9 471.5,671.5 470.9,671.2 470.3,670.9 469.7,670.5 469.1,670.1 468.5,669.7 467.8,669.3 467.2,668.9 466.6,668.5 466.0,668.1 465.3,667.7 464.7,667.3 464.2,666.9 463.7,666.5 463.2,666.1 462.9,665.6 462.6,665.1 462.3,664.5 462.0,663.9 461.8,663.3 461.5,662.6 461.3,662.0 461.2,661.3 461.0,660.6 460.8,659.9 460.7,659.2 460.5,658.5 460.4,657.8 460.2,657.1 460.0,656.3 459.9,655.5 459.6,654.9 458.6,654.3 457.6,654.7 457.2,655.3 456.9,656.1 456.6,656.8 456.4,657.5 456.1,658.2 455.8,658.9 455.5,659.5 455.3,660.2 455.0,660.8 454.6,661.4 454.3,662.0 454.0,662.7 453.7,663.2 453.4,663.8 453.1,664.2 452.8,664.5 452.4,664.8 451.9,664.9 451.3,665.1 450.6,665.2 450.0,665.3 449.3,665.5 448.7,665.6 448.2,665.6 447.8,665.6 447.4,665.4 447.0,665.1 446.6,664.7 446.1,664.2 445.6,663.7 445.1,663.2 444.6,662.7 444.1,662.2 443.6,661.7 443.1,661.2 442.6,660.7 442.1,660.2 441.6,659.7 441.2,659.2 440.8,658.7 440.5,658.2 440.2,657.6 439.9,656.9 439.6,656.3 439.3,655.6 439.0,654.9 438.7,654.2 438.4,653.5 437.9,653.0 438.0,652.1 437.6,651.5 437.4,650.8 436.9,650.2 437.0,649.3 436.0,649.0 436.2,648.1 435.2,647.8 434.7,647.2 435.4,646.1 435.2,645.4 434.1,645.2 433.6,644.6 434.2,643.6 433.8,643.0 434.2,642.1 432.5,642.0 432.2,641.4 432.1,640.7 432.1,639.9 432.6,639.0 431.8,638.5 432.9,637.3 431.3,637.2 432.0,636.2 431.0,635.8 430.9,635.1 430.1,634.7 431.9,633.2 429.1,633.6 429.4,632.7 431.3,631.3 428.5,631.6 430.1,630.4 429.4,629.9 430.8,628.8 427.9,628.9 427.5,628.3 429.3,627.1 429.2,626.4 430.2,625.4 426.8,625.6 431.0,623.7 427.1,624.1 429.2,622.7 426.7,622.7 425.8,622.3 427.5,621.1 428.1,620.1 428.7,619.3 426.6,619.1 425.5,618.7 424.7,618.2 426.2,617.1 428.2,615.8 425.7,615.8 423.9,615.5 426.1,614.3 425.0,613.9 423.7,613.5 424.3,612.7 423.9,612.1 424.2,611.3 424.7,610.5 425.1,609.7 424.3,609.1 425.0,608.3 425.0,607.6 423.8,607.1 422.6,606.5 422.8,605.8 424.2,604.8 422.2,604.4 423.6,603.5 424.8,602.6 423.0,602.1 422.6,601.5 422.2,600.8 422.8,600.0 424.0,599.1 421.6,598.7 423.0,597.8 420.8,597.4 422.2,596.5 421.4,595.9 423.2,594.9 421.6,594.4 423.4,593.4 422.0,592.9 421.0,592.3 421.7,591.5 419.7,591.1 421.1,590.1 422.1,589.1 419.6,588.9 421.8,587.7 421.7,587.0 420.4,586.5 419.2,586.0 420.4,585.0 418.5,584.7 419.0,583.8 419.5,583.0 418.1,582.5 418.0,581.8 419.6,580.8 418.9,580.2 418.0,579.6 419.2,578.6 419.0,577.9 417.2,577.6 418.4,576.6 417.3,576.1 419.1,575.0 419.0,574.3 420.1,573.3 418.5,572.9 416.2,572.6 418.0,571.5 418.1,570.7 417.8,570.0 416.4,569.6 416.0,568.9 416.3,568.2 417.2,567.2 418.1,566.3 414.9,566.2 416.8,565.1 418.0,564.1 416.1,563.8 417.7,562.7 416.8,562.2 414.4,562.0 415.4,561.0 414.7,560.4 413.8,559.9 413.8,559.2 414.7,558.2 415.6,557.3 413.2,557.1 415.3,555.9 414.5,555.4 415.4,554.5 414.8,553.9 414.6,553.2 412.2,552.9 413.5,552.0 413.9,551.2 414.7,550.3 413.4,549.8 412.6,549.2 413.7,548.3 414.1,547.4 412.3,547.1 413.7,546.0 411.8,545.7 413.2,544.7 412.9,544.0 411.5,543.5 412.4,542.6 413.6,541.7 411.1,541.4 410.2,540.8 410.5,540.0 410.4,539.3 411.4,538.4 411.7,537.6 411.6,536.9 410.2,536.4 410.0,535.7 409.9,535.0 411.1,534.1 410.2,533.5 409.3,533.0 408.4,532.4 409.9,531.4 411.0,530.5 409.8,530.0 407.9,529.5 409.0,528.6 408.5,528.0 409.4,527.1 409.3,526.4 408.7,525.8 408.3,525.1 407.6,524.5 408.4,523.6 406.9,523.1 407.7,522.3 407.7,521.6 406.6,521.0 409.2,519.9 409.0,519.2 409.5,518.4 406.2,518.2 407.1,517.3 406.6,516.6 406.4,515.9 405.8,515.3 407.5,514.3 407.3,513.6 407.8,512.8 405.3,512.5 407.0,511.5 405.7,511.0 404.9,510.4 405.1,509.6 408.2,508.6 405.9,508.2 406.5,507.4 405.3,506.8 407.1,506.0 406.9,505.3 405.2,504.7 405.9,503.9 404.8,503.3 406.4,502.5 405.6,501.8 405.2,501.2 404.1,500.5 405.5,499.7 406.6,498.9 405.0,498.3 405.3,497.6 405.0,496.9 406.8,496.1 405.7,495.4 406.1,494.7 404.1,494.1 405.4,493.3 405.3,492.6 404.4,492.0 406.0,491.1 405.6,490.5 404.9,489.8 404.2,489.2 404.6,488.4 403.5,487.8 405.0,487.0 403.1,486.4 404.8,485.5 405.4,484.8 403.5,484.2 404.5,483.4 403.5,482.8 402.9,482.1 404.9,481.3 402.5,480.8 403.9,479.9 404.8,479.2 404.9,478.4 403.4,477.9 403.5,477.1 402.7,476.5 403.3,475.7 403.7,475.0 405.0,474.2 403.2,473.6 404.0,472.9 402.3,472.2 403.2,471.5 401.9,470.8 404.5,470.0 401.8,469.4 404.8,468.5 403.5,467.9 403.3,467.2 403.4,466.5 402.3,465.8 405.3,464.9 402.3,464.4 404.5,463.5 402.5,462.9 403.3,462.2 402.1,461.5 403.8,460.7 401.6,460.1 404.3,459.3 401.9,458.7 402.5,457.9 401.5,457.3 403.3,456.5 401.4,455.9 402.0,455.1 401.5,454.4 401.7,453.7 400.9,453.0 403.3,452.2 403.0,451.5 400.7,450.9 403.4,450.0 402.6,449.4 401.0,448.7 401.9,448.0 403.4,447.2 402.2,446.6 402.0,445.9 401.8,445.2 402.1,444.5 400.7,443.8 401.4,443.1 400.5,442.4 402.0,441.6 402.6,440.9 400.7,440.2 401.0,439.5 402.4,438.8 401.8,438.1 400.3,437.4 403.2,436.6 401.1,436.0 401.0,435.2 401.0,434.5 401.6,433.8 401.2,433.1 400.2,432.4 402.5,431.6 400.9,431.0 401.0,430.3 401.8,429.5 400.3,428.9 400.2,428.1 400.9,427.4 400.0,426.7 400.0,426.0 400.4,425.3 401.4,424.6 400.8,423.9 401.1,423.1 400.7,422.4 401.0,421.7 401.8,421.0 401.6,420.3 401.5,419.6 400.2,418.9 400.0,418.2 399.9,417.5 400.7,416.8 399.7,416.1 401.0,415.4 401.2,414.7 401.6,414.0 399.9,413.3 399.7,412.6 400.5,411.9 400.6,411.2 400.9,410.5 400.7,409.8 400.7,409.1 401.6,408.4 400.3,407.7 401.4,407.0 400.4,406.3 399.8,405.6 399.6,404.9 402.3,404.2 399.8,403.5 402.3,402.8 400.1,402.1 400.9,401.4 401.2,401.0 399.6,400.0"/>
<polygon points="398.6,442.1 400.4,442.1 400.4,469.3 402.2,469.3 402.2,495.4 404.0,495.4 404.0,510.0 405.8,510.0 405.8,524.7 407.6,524.7 407.6,533.2 409.4,533.2 409.4,542.9 411.2,542.9 411.2,551.3 413.0,551.3 413.0,562.1 414.8,562.1 414.8,571.2 416.6,571.2 416.6,580.2 418.4,580.2 418.4,589.9 420.2,589.9 420.2,601.5 422.0,601.5 422.0,609.8 423.8,609.8 423.8,617.3 425.6,617.3 425.6,622.2 427.4,622.2 427.4,627.1 429.2,627.1 429.2,631.7 431.0,631.7 431.0,632.3 432.8,632.3 432.8,640.7 434.6,640.7 434.6,645.0 436.4,645.0 436.4,648.8 438.2,648.8 438.2,648.9 440.0,648.9 440.0,653.4 441.8,653.4 441.8,656.0 443.6,656.0 443.6,658.1 445.4,658.1 445.4,658.5 447.2,658.5 447.2,659.8 449.0,659.8 449.0,655.7 450.8,655.7 450.8,660.3 452.6,660.3 452.6,658.5 454.4,658.5 454.4,656.4 456.2,656.4 456.2,650.7 458.0,650.7 458.0,648.5 459.8,648.5 459.8,655.7 461.6,655.7 461.6,661.6 463.4,661.6 463.4,662.4 465.2,662.4 465.2,663.6 467.0,663.6 467.0,661.2 468.8,661.2 468.8,665.3 470.6,665.3 470.6,667.1 472.4,667.1 472.4,667.6 474.2,667.6 474.2,667.4 476.0,667.4 476.0,667.0 477.8,667.0 477.8,669.8 479.6,669.8 479.6,671.9 481.4,671.9 481.4,672.4 483.2,672.4 483.2,673.2 485.0,673.2 485.0,672.2 486.8,672.2 486.8,673.9 488.6,673.9 488.6,673.6 490.4,673.6 490.4,672.7 492.2,672.7 492.2,674.1 494.0,674.1 494.0,678.1 495.8,678.1 495.8,680.3 497.6,680.3 497.6,681.1 499.4,681.1 499.4,681.9 501.2,681.9 501.2,684.4 503.0,684.4 503.0,684.7 504.8,684.7 504.8,681.1 506.6,681.1 506.6,682.8 508.4,682.8 508.4,683.2 510.2,683.2 510.2,685.7 512.0,685.7 512.0,688.2 513.8,688.2 513.8,688.1 515.6,688.1 515.6,685.1 517.4,685.1 517.4,686.0 519.2,686.0 519.2,684.2 521.0,684.2 521.0,687.3 522.8,687.3 522.8,684.7 524.6,684.7 524.6,686.6 526.4,686.6 526.4,682.8 528.2,682.8 528.2,683.7 530.0,683.7 530.0,684.1 531.8,684.1 531.8,682.8 533.6,682.8 533.6,683.1 535.4,683.1 535.4,682.5 537.2,682.5 537.2,681.4 539.0,681.4 539.0,684.2 540.8,684.2 540.8,682.9 542.6,682.9 542.6,684.0 544.4,684.0 544.4,685.9 546.2,685.9 546.2,685.6 548.0,685.6 548.0,686.4 549.8,686.4 549.8,681.8 551.6,681.8 551.6,688.7 553.4,688.7 553.4,688.7 555.2,688.7 555.2,688.0 557.0,688.0 557.0,690.8 558.8,690.8 558.8,690.8 560.6,690.8 560.6,692.0 562.4,692.0 562.4,692.8 564.2,692.8 564.2,691.1 566.0,691.1 566.0,688.3 567.8,688.3 567.8,693.4 569.6,693.4 569.6,693.6 571.4,693.6 571.4,693.5 573.2,693.5 573.2,692.8 575.0,692.8 575.0,689.2 576.8,689.2 576.8,695.6 578.6,695.6 578.6,695.8 580.4,695.8 580.4,694.6 582.2,694.6 582.2,695.9 584.0,695.9 584.0,694.7 585.8,694.7 585.8,692.6 587.6,692.6 587.6,696.4 589.4,696.4 589.4,696.0 591.2,696.0 591.2,696.0 593.0,696.0 593.0,695.0 594.8,695.0 594.8,696.5 596.6,696.5 596.6,695.8 598.4,695.8 598.4,696.4 600.2,696.4 600.2,710.2 598.4,710.2 598.4,710.3 596.6,710.3 596.6,709.0 594.8,709.0 594.8,713.5 593.0,713.5 593.0,712.8 591.2,712.8 591.2,707.9 589.4,707.9 589.4,715.1 587.6,715.1 587.6,707.9 585.8,707.9 585.8,708.4 584.0,708.4 584.0,706.9 582.2,706.9 582.2,709.4 580.4,709.4 580.4,708.7 578.6,708.7 578.6,707.9 576.8,707.9 576.8,706.5 575.0,706.5 575.0,706.2 573.2,706.2 573.2,709.6 571.4,709.6 571.4,710.0 569.6,710.0 569.6,708.0 567.8,708.0 567.8,710.5 566.0,710.5 566.0,704.6 564.2,704.6 564.2,708.9 562.4,708.9 562.4,705.2 560.6,705.2 560.6,704.9 558.8,704.9 558.8,703.1 557.0,703.1 557.0,702.2 555.2,702.2 555.2,703.1 553.4,703.1 553.4,701.8 551.6,701.8 551.6,703.2 549.8,703.2 549.8,700.4 548.0,700.4 548.0,698.8 546.2,698.8 546.2,697.8 544.4,697.8 544.4,697.2 542.6,697.2 542.6,699.2 540.8,699.2 540.8,696.4 539.0,696.4 539.0,697.4 537.2,697.4 537.2,694.3 535.4,694.3 535.4,694.7 533.6,694.7 533.6,697.0 531.8,697.0 531.8,695.8 530.0,695.8 530.0,697.8 528.2,697.8 528.2,697.1 526.4,697.1 526.4,697.8 524.6,697.8 524.6,701.5 522.8,701.5 522.8,699.5 521.0,699.5 521.0,701.5 519.2,701.5 519.2,702.6 517.4,702.6 517.4,700.0 515.6,700.0 515.6,700.7 513.8,700.7 513.8,701.0 512.0,701.0 512.0,698.8 510.2,698.8 510.2,698.5 508.4,698.5 508.4,699.1 506.6,699.1 506.6,698.2 504.8,698.2 504.8,699.3 503.0,699.3 503.0,698.0 501.2,698.0 501.2,695.0 499.4,695.0 499.4,693.5 497.6,693.5 497.6,692.4 495.8,692.4 495.8,691.9 494.0,691.9 494.0,689.9 492.2,689.9 492.2,690.9 490.4,690.9 490.4,689.7 488.6,689.7 488.6,687.7 486.8,687.7 486.8,686.7 485.0,686.7 485.0,687.5 483.2,687.5 483.2,685.2 481.4,685.2 481.4,683.8 479.6,683.8 479.6,685.7 477.8,685.7 477.8,680.9 476.0,680.9 476.0,681.1 474.2,681.1 474.2,683.2 472.4,683.2 472.4,678.4 470.6,678.4 470.6,677.9 468.8,677.9 468.8,679.2 467.0,679.2 467.0,676.6 465.2,676.6 465.2,675.7 463.4,675.7 463.4,673.1 461.6,673.1 461.6,671.5 459.8,671.5 459.8,661.5 458.0,661.5 458.0,664.2 456.2,664.2 456.2,671.9 454.4,671.9 454.4,671.5 452.6,671.5 452.6,671.8 450.8,671.8 450.8,672.2 449.0,672.2 449.0,674.0 447.2,674.0 447.2,676.8 445.4,676.8 445.4,672.2 443.6,672.2 443.6,670.9 441.8,670.9 441.8,666.9 440.0,666.9 440.0,665.3 438.2,665.3 438.2,664.7 436.4,664.7 436.4,656.6 434.6,656.6 434.6,652.4 432.8,652.4 432.8,650.3 431.0,650.3 431.0,645.7 429.2,645.7 429.2,641.4 427.4,641.4 427.4,634.4 425.6,634.4 425.6,628.4 423.8,628.4 423.8,624.4 422.0,624.4 422.0,612.5 420.2,612.5 420.2,603.0 418.4,603.0 418.4,591.8 416.6,591.8 416.6,581.1 414.8,581.1 414.8,572.3 413.0,572.3 413.0,565.5 411.2,565.5 411.2,554.7 409.4,554.7 409.4,544.6 407.6,544.6 407.6,535.6 405.8,535.6 405.8,524.8 404.0,524.8 404.0,508.7 402.2,508.7 402.2,483.3 400.4,483.3 400.4,451.8 398.6,451.8"/>
</g></defs>
</g>
<clipPath id="h5"><rect x="372.6" y="413.5" width="240.4" height="320.9"/></clipPath>
<use href="#band5" fill="#fff" stroke="#fff" stroke-width="3.2" stroke-linejoin="round" clip-path="url(#h5)"/>
<g clip-path="url(#c5)">
<use href="#band5" fill="#02968f"/>
<rect x="397.1" y="416.9" width="3.2" height="3.2" rx="1.3" fill="#03302e" opacity="0.75"/>
<circle cx="419.2" cy="720.3" r="1.6" fill="#02968f"/>
<circle cx="422.9" cy="682.0" r="1.6" fill="#02968f"/>
<circle cx="426.4" cy="570.0" r="1.6" fill="#02968f"/>
<circle cx="430.3" cy="548.7" r="1.6" fill="#02968f"/>
<circle cx="434.1" cy="577.7" r="1.6" fill="#02968f"/>
<circle cx="437.5" cy="564.0" r="1.6" fill="#02968f"/>
<circle cx="441.3" cy="538.7" r="1.6" fill="#02968f"/>
<circle cx="445.1" cy="503.6" r="1.6" fill="#02968f"/>
<circle cx="448.5" cy="520.2" r="1.6" fill="#02968f"/>
<circle cx="452.3" cy="539.3" r="1.6" fill="#04706b"/>
<circle cx="456.0" cy="533.3" r="1.6" fill="#02968f"/>
<circle cx="459.4" cy="567.4" r="1.6" fill="#02968f"/>
<circle cx="463.2" cy="520.6" r="1.6" fill="#02968f"/>
<circle cx="467.2" cy="459.6" r="1.6" fill="#02968f"/>
<circle cx="470.6" cy="512.4" r="1.6" fill="#02968f"/>
<circle cx="474.4" cy="521.8" r="1.6" fill="#02968f"/>
<circle cx="478.1" cy="583.7" r="1.6" fill="#02968f"/>
<circle cx="481.5" cy="474.0" r="1.6" fill="#02968f"/>
<circle cx="485.1" cy="525.6" r="1.6" fill="#02968f"/>
<circle cx="488.9" cy="505.8" r="1.6" fill="#02968f"/>
<circle cx="492.5" cy="525.0" r="1.6" fill="#02968f"/>
<circle cx="496.1" cy="486.5" r="1.6" fill="#02968f"/>
<circle cx="499.7" cy="543.7" r="1.6" fill="#04706b"/>
<circle cx="503.2" cy="504.0" r="1.6" fill="#02968f"/>
<circle cx="507.0" cy="496.9" r="1.6" fill="#02968f"/>
<circle cx="510.6" cy="507.4" r="1.6" fill="#02968f"/>
<circle cx="514.2" cy="476.2" r="1.6" fill="#04706b"/>
<circle cx="518.0" cy="483.3" r="1.6" fill="#04706b"/>
<circle cx="521.6" cy="474.0" r="1.6" fill="#02968f"/>
<circle cx="525.4" cy="464.6" r="1.6" fill="#02968f"/>
<circle cx="529.1" cy="493.3" r="1.6" fill="#02968f"/>
<circle cx="532.3" cy="550.9" r="1.6" fill="#02968f"/>
<circle cx="536.3" cy="483.9" r="1.6" fill="#02968f"/>
<circle cx="540.1" cy="507.4" r="1.6" fill="#02968f"/>
<circle cx="543.5" cy="557.4" r="1.6" fill="#02968f"/>
<circle cx="547.3" cy="529.3" r="1.6" fill="#02968f"/>
<circle cx="551.3" cy="496.5" r="1.6" fill="#02968f"/>
<circle cx="554.4" cy="505.8" r="1.6" fill="#02968f"/>
<circle cx="558.2" cy="557.4" r="1.6" fill="#02968f"/>
<circle cx="562.0" cy="521.8" r="1.6" fill="#02968f"/>
<circle cx="565.4" cy="483.3" r="1.6" fill="#04706b"/>
<circle cx="569.2" cy="468.4" r="1.6" fill="#02968f"/>
<circle cx="573.0" cy="481.1" r="1.6" fill="#04706b"/>
<circle cx="576.4" cy="475.0" r="1.6" fill="#02968f"/>
<circle cx="580.1" cy="483.3" r="1.6" fill="#04706b"/>
<circle cx="583.5" cy="474.0" r="1.6" fill="#02968f"/>
<circle cx="587.3" cy="469.0" r="1.6" fill="#02968f"/>
<circle cx="591.1" cy="430.0" r="1.6" fill="#02968f"/>
<circle cx="594.5" cy="466.4" r="1.6" fill="#02968f"/>
<circle cx="598.3" cy="473.6" r="1.6" fill="#02968f"/>
<circle cx="602.3" cy="458.0" r="1.6" fill="#02968f"/>
</g>
<rect x="515.0" y="565.5" width="93.2" height="19.4" rx="2" fill="#f0f0f0" fill-opacity="0.85" stroke="#e6e6e6" stroke-width="0.8"/>
<rect x="547.0" y="567.0" width="58" height="16.4" rx="3" fill="#ffffff" opacity="0.85"/>
<circle cx="530.7" cy="575.7" r="4" fill="#ffffff" opacity="0.8"/>
<circle cx="530.7" cy="575.7" r="1.7" fill="#03302e"/>
<text transform="translate(550.0,578.2) scale(1.03,1)" font-size="10.6" text-anchor="start" fill="#111111" font-weight="normal" font-family="'DejaVu Sans', 'Liberation Sans', sans-serif" stroke="#111" stroke-width="0.3">mAP@0.5</text>
<line x1="697.8" y1="734.4" x2="936.0" y2="734.4" stroke="#e8e8e8" stroke-width="1.8"/>
<text transform="translate(689.8,738.2) scale(1.05,1)" font-size="10.5" text-anchor="end" fill="#262626" font-weight="normal" font-family="'DejaVu Sans', 'Liberation Sans', sans-serif" stroke="#262626" stroke-width="0.15">0</text>
<line x1="697.8" y1="670.7" x2="936.0" y2="670.7" stroke="#e8e8e8" stroke-width="1.8"/>
<text transform="translate(689.8,674.5) scale(1.05,1)" font-size="10.5" text-anchor="end" fill="#262626" font-weight="normal" font-family="'DejaVu Sans', 'Liberation Sans', sans-serif" stroke="#262626" stroke-width="0.15">1</text>
<line x1="697.8" y1="607.0" x2="936.0" y2="607.0" stroke="#e8e8e8" stroke-width="1.8"/>
<text transform="translate(689.8,610.8) scale(1.05,1)" font-size="10.5" text-anchor="end" fill="#262626" font-weight="normal" font-family="'DejaVu Sans', 'Liberation Sans', sans-serif" stroke="#262626" stroke-width="0.15">2</text>
<line x1="697.8" y1="543.4" x2="936.0" y2="543.4" stroke="#e8e8e8" stroke-width="1.8"/>
<text transform="translate(689.8,547.2) scale(1.05,1)" font-size="10.5" text-anchor="end" fill="#262626" font-weight="normal" font-family="'DejaVu Sans', 'Liberation Sans', sans-serif" stroke="#262626" stroke-width="0.15">3</text>
<line x1="697.8" y1="479.7" x2="936.0" y2="479.7" stroke="#e8e8e8" stroke-width="1.8"/>
<text transform="translate(689.8,483.5) scale(1.05,1)" font-size="10.5" text-anchor="end" fill="#262626" font-weight="normal" font-family="'DejaVu Sans', 'Liberation Sans', sans-serif" stroke="#262626" stroke-width="0.15">4</text>
<line x1="697.8" y1="416.0" x2="936.0" y2="416.0" stroke="#e8e8e8" stroke-width="1.8"/>
<text transform="translate(689.8,419.8) scale(1.05,1)" font-size="10.5" text-anchor="end" fill="#262626" font-weight="normal" font-family="'DejaVu Sans', 'Liberation Sans', sans-serif" stroke="#262626" stroke-width="0.15">5</text>
<line x1="696.8" y1="416.0" x2="696.8" y2="734.9" stroke="#eeeeee" stroke-width="1.6"/>
<line x1="937.8" y1="416.0" x2="937.8" y2="734.9" stroke="#f3f3f3" stroke-width="1.8"/>
<text transform="translate(707.3,748.6) scale(1.05,1)" font-size="10.5" text-anchor="middle" fill="#262626" font-weight="normal" font-family="'DejaVu Sans', 'Liberation Sans', sans-serif" stroke="#262626" stroke-width="0.15">0</text>
<text transform="translate(743.8,748.6) scale(1.05,1)" font-size="10.5" text-anchor="middle" fill="#262626" font-weight="normal" font-family="'DejaVu Sans', 'Liberation Sans', sans-serif" stroke="#262626" stroke-width="0.15">1000</text>
<text transform="translate(780.2,748.6) scale(1.05,1)" font-size="10.5" text-anchor="middle" fill="#262626" font-weight="normal" font-family="'DejaVu Sans', 'Liberation Sans', sans-serif" stroke="#262626" stroke-width="0.15">2000</text>
<text transform="translate(816.7,748.6) scale(1.05,1)" font-size="10.5" text-anchor="middle" fill="#262626" font-weight="normal" font-family="'DejaVu Sans', 'Liberation Sans', sans-serif" stroke="#262626" stroke-width="0.15">3000</text>
<text transform="translate(853.2,748.6) scale(1.05,1)" font-size="10.5" text-anchor="middle" fill="#262626" font-weight="normal" font-family="'DejaVu Sans', 'Liberation Sans', sans-serif" stroke="#262626" stroke-width="0.15">4000</text>
<text transform="translate(889.6,748.6) scale(1.05,1)" font-size="10.5" text-anchor="middle" fill="#262626" font-weight="normal" font-family="'DejaVu Sans', 'Liberation Sans', sans-serif" stroke="#262626" stroke-width="0.15">5000</text>
<text transform="translate(926.1,748.6) scale(1.05,1)" font-size="10.5" text-anchor="middle" fill="#262626" font-weight="normal" font-family="'DejaVu Sans', 'Liberation Sans', sans-serif" stroke="#262626" stroke-width="0.15">6000</text>
<text transform="translate(816.8,763.7) scale(1.01,1)" font-size="14.4" text-anchor="middle" fill="#1a1a1a" font-weight="normal" font-family="'DejaVu Sans', 'Liberation Sans', sans-serif" stroke="#1a1a1a" stroke-width="0.15">Iterations</text>
<text transform="translate(816.8,411.4) scale(1.015,1)" font-size="17.0" text-anchor="middle" fill="#111111" font-weight="normal" font-family="'DejaVu Sans', 'Liberation Sans', sans-serif" stroke="#111111" stroke-width="0.15">YOLOv4-608</text>
<text transform="translate(943.0,436.1) scale(0.9,1)" font-size="9.6" text-anchor="start" fill="#2a2a2a" font-weight="normal" font-family="'DejaVu Sans', 'Liberation Sans', sans-serif" stroke="#2a2a2a" stroke-width="0.3">90</text>
<text transform="translate(943.0,475.6) scale(0.9,1)" font-size="9.6" text-anchor="start" fill="#2a2a2a" font-weight="normal" font-family="'DejaVu Sans', 'Liberation Sans', sans-serif" stroke="#2a2a2a" stroke-width="0.3">89</text>
<text transform="translate(943.0,515.2) scale(0.9,1)" font-size="9.6" text-anchor="start" fill="#2a2a2a" font-weight="normal" font-family="'DejaVu Sans', 'Liberation Sans', sans-serif" stroke="#2a2a2a" stroke-width="0.3">88</text>
<text transform="translate(943.0,554.7) scale(0.9,1)" font-size="9.6" text-anchor="start" fill="#2a2a2a" font-weight="normal" font-family="'DejaVu Sans', 'Liberation Sans', sans-serif" stroke="#2a2a2a" stroke-width="0.3">87</text>
<text transform="translate(943.0,594.2) scale(0.9,1)" font-size="9.6" text-anchor="start" fill="#2a2a2a" font-weight="normal" font-family="'DejaVu Sans', 'Liberation Sans', sans-serif" stroke="#2a2a2a" stroke-width="0.3">86</text>
<text transform="translate(943.0,633.8) scale(0.9,1)" font-size="9.6" text-anchor="start" fill="#2a2a2a" font-weight="normal" font-family="'DejaVu Sans', 'Liberation Sans', sans-serif" stroke="#2a2a2a" stroke-width="0.3">85</text>
<text transform="translate(943.0,673.3) scale(0.9,1)" font-size="9.6" text-anchor="start" fill="#2a2a2a" font-weight="normal" font-family="'DejaVu Sans', 'Liberation Sans', sans-serif" stroke="#2a2a2a" stroke-width="0.3">84</text>
<text transform="translate(943.0,712.8) scale(0.9,1)" font-size="9.6" text-anchor="start" fill="#2a2a2a" font-weight="normal" font-family="'DejaVu Sans', 'Liberation Sans', sans-serif" stroke="#2a2a2a" stroke-width="0.3">83</text>
<text transform="translate(975.9,575.2) rotate(-90) scale(1,1.05)" font-size="14.6" text-anchor="middle" fill="#1a1a1a" font-family="'DejaVu Sans', 'Liberation Sans', sans-serif" stroke="#1a1a1a" stroke-width="0.15">Mean Average Precision at 50% IoU Threshold</text>
<clipPath id="c6"><rect x="696.8" y="416.9" width="240.0" height="317.5"/></clipPath>
<g clip-path="url(#c6)">
<circle cx="743.1" cy="720.2" r="3.2" fill="#fff"/>
<circle cx="747.4" cy="607.3" r="3.2" fill="#fff"/>
<circle cx="751.1" cy="608.0" r="3.2" fill="#fff"/>
<circle cx="754.2" cy="528.3" r="3.2" fill="#fff"/>
<circle cx="758.2" cy="527.7" r="3.2" fill="#fff"/>
<circle cx="762.0" cy="510.2" r="3.2" fill="#fff"/>
<circle cx="765.3" cy="569.5" r="3.2" fill="#fff"/>
<circle cx="769.2" cy="490.5" r="3.2" fill="#fff"/>
<circle cx="772.6" cy="487.1" r="3.2" fill="#fff"/>
<circle cx="776.1" cy="462.0" r="3.2" fill="#fff"/>
<circle cx="779.9" cy="477.3" r="3.2" fill="#fff"/>
<circle cx="783.5" cy="516.2" r="3.2" fill="#fff"/>
<circle cx="787.3" cy="566.2" r="3.2" fill="#fff"/>
<circle cx="790.9" cy="526.1" r="3.2" fill="#fff"/>
<circle cx="794.5" cy="521.2" r="3.2" fill="#fff"/>
<circle cx="798.3" cy="464.6" r="3.2" fill="#fff"/>
<circle cx="802.0" cy="508.0" r="3.2" fill="#fff"/>
<circle cx="805.4" cy="442.7" r="3.2" fill="#fff"/>
<circle cx="809.2" cy="494.9" r="3.2" fill="#fff"/>
<circle cx="813.0" cy="478.3" r="3.2" fill="#fff"/>
<circle cx="816.4" cy="536.1" r="3.2" fill="#fff"/>
<circle cx="820.2" cy="564.0" r="3.2" fill="#fff"/>
<circle cx="824.0" cy="483.3" r="3.2" fill="#fff"/>
<circle cx="827.3" cy="467.4" r="3.2" fill="#fff"/>
<circle cx="831.1" cy="538.9" r="3.2" fill="#fff"/>
<circle cx="834.9" cy="492.5" r="3.2" fill="#fff"/>
<circle cx="838.3" cy="568.4" r="3.2" fill="#fff"/>
<circle cx="842.1" cy="538.9" r="3.2" fill="#fff"/>
<circle cx="845.9" cy="487.1" r="3.2" fill="#fff"/>
<circle cx="849.3" cy="515.2" r="3.2" fill="#fff"/>
<circle cx="853.0" cy="508.4" r="3.2" fill="#fff"/>
<circle cx="856.8" cy="518.4" r="3.2" fill="#fff"/>
<circle cx="860.2" cy="533.3" r="3.2" fill="#fff"/>
<circle cx="864.0" cy="479.3" r="3.2" fill="#fff"/>
<circle cx="867.6" cy="489.9" r="3.2" fill="#fff"/>
<circle cx="871.0" cy="572.8" r="3.2" fill="#fff"/>
<circle cx="875.0" cy="533.3" r="3.2" fill="#fff"/>
<circle cx="878.3" cy="464.6" r="3.2" fill="#fff"/>
<circle cx="882.1" cy="456.4" r="3.2" fill="#fff"/>
<circle cx="885.9" cy="438.9" r="3.2" fill="#fff"/>
<circle cx="889.5" cy="449.2" r="3.2" fill="#fff"/>
<circle cx="893.3" cy="430.1" r="3.2" fill="#fff"/>
<circle cx="897.1" cy="436.5" r="3.2" fill="#fff"/>
<circle cx="900.3" cy="446.1" r="3.2" fill="#fff"/>
<circle cx="904.0" cy="463.0" r="3.2" fill="#fff"/>
<circle cx="907.8" cy="461.0" r="3.2" fill="#fff"/>
<circle cx="911.2" cy="453.0" r="3.2" fill="#fff"/>
<circle cx="915.0" cy="452.0" r="3.2" fill="#fff"/>
<circle cx="918.8" cy="473.5" r="3.2" fill="#fff"/>
<circle cx="922.4" cy="464.6" r="3.2" fill="#fff"/>
<circle cx="926.1" cy="446.5" r="3.2" fill="#fff"/>
<defs><g id="band6">
<polygon points="718.2,400.0 720.5,401.1 718.2,401.4 718.6,402.1 718.9,402.8 719.0,403.5 720.0,404.2 719.8,404.9 718.0,405.6 719.2,406.3 720.1,407.0 719.1,407.7 720.6,408.4 718.9,409.1 718.1,409.8 718.9,410.5 718.4,411.2 718.2,411.9 719.5,412.6 718.7,413.3 720.1,414.0 719.6,414.7 718.9,415.4 719.4,416.1 719.2,416.8 718.5,417.6 719.5,418.3 720.7,419.0 719.7,419.7 719.8,420.4 718.5,421.2 718.9,421.9 720.7,422.5 720.9,423.2 719.3,424.0 720.6,424.7 720.0,425.4 720.5,426.1 720.7,426.8 720.1,427.6 721.1,428.2 718.6,429.0 721.0,429.7 720.1,430.4 720.7,431.1 719.2,431.9 721.0,432.5 720.8,433.2 720.9,433.9 720.3,434.7 719.5,435.4 720.3,436.1 721.4,436.8 720.6,437.5 721.5,438.2 720.9,438.9 719.3,439.7 719.0,440.4 720.1,441.1 720.1,441.8 719.9,442.5 719.3,443.3 719.1,444.0 721.8,444.6 721.0,445.4 720.2,446.1 719.6,446.9 720.1,447.6 718.9,448.4 719.5,449.1 719.4,449.8 720.5,450.5 721.5,451.1 721.0,451.9 721.9,452.5 721.9,453.2 718.6,454.2 720.3,454.8 721.3,455.4 722.6,456.0 720.8,456.9 721.1,457.6 720.4,458.3 722.2,458.9 721.4,459.7 718.4,460.7 721.4,461.1 721.6,461.8 721.2,462.6 722.4,463.2 720.8,464.0 720.2,464.8 721.9,465.4 723.0,466.0 720.0,467.0 722.1,467.5 720.5,468.4 721.8,469.0 721.8,469.7 722.3,470.4 723.7,471.0 723.0,471.8 723.9,472.4 723.9,473.1 721.1,474.1 721.0,474.9 721.7,475.5 722.3,476.2 723.1,476.8 721.4,477.7 724.4,478.1 723.0,479.0 723.3,479.7 724.6,480.3 722.7,481.2 723.0,481.9 724.0,482.5 722.7,483.3 724.6,483.9 723.5,484.7 724.4,485.3 722.1,486.3 724.2,486.8 722.1,487.7 722.7,488.4 725.5,488.8 723.5,489.8 723.9,490.4 724.9,491.1 724.7,491.8 724.1,492.6 723.2,493.4 725.9,493.8 725.2,494.6 725.8,495.3 724.0,496.2 725.8,496.7 726.0,497.4 723.9,498.4 725.9,498.9 725.6,499.6 725.3,500.4 726.4,501.0 725.1,501.9 725.2,502.6 726.9,503.1 724.9,504.0 725.1,504.7 725.3,505.4 725.5,506.1 726.5,506.7 727.0,507.4 724.1,508.4 725.6,509.0 725.2,509.8 727.5,510.2 726.6,511.0 726.0,511.8 727.0,512.4 723.7,513.5 727.2,513.9 725.8,514.7 726.5,515.4 727.9,515.9 725.6,516.9 728.3,517.3 725.6,518.3 728.4,518.8 726.1,519.7 727.3,520.3 727.6,521.0 726.5,521.9 727.5,522.5 728.5,523.1 727.5,524.0 727.9,524.7 727.2,525.5 727.6,526.2 728.9,526.7 726.4,527.8 729.6,528.1 727.1,529.2 727.7,529.8 728.0,530.5 727.2,531.4 730.0,531.7 728.7,532.6 729.7,533.2 728.6,534.1 728.2,534.9 729.2,535.4 729.0,536.2 730.5,536.7 725.8,538.1 731.0,538.1 728.1,539.2 730.1,539.7 730.7,540.3 728.6,541.4 730.1,541.9 731.0,542.5 729.4,543.5 730.0,544.2 731.8,544.6 728.8,545.9 729.9,546.4 732.1,546.7 732.2,547.4 731.9,548.2 730.3,549.2 731.2,549.7 731.4,550.4 731.6,551.1 732.1,551.7 732.5,552.4 732.1,553.2 731.7,554.0 731.4,554.7 731.6,555.4 733.5,555.8 732.6,556.7 733.7,557.2 733.7,557.9 732.1,558.9 732.0,559.6 734.2,560.0 731.4,561.1 734.2,561.4 731.1,562.6 734.0,562.9 733.0,563.8 732.2,564.6 733.3,565.2 734.4,565.8 733.7,566.6 734.7,567.2 734.8,567.9 734.3,568.7 733.0,569.6 735.7,569.9 736.6,570.5 735.3,571.5 735.6,572.2 732.7,573.3 732.6,574.1 735.7,574.3 737.3,574.8 735.2,575.9 735.6,576.5 736.7,577.1 737.3,577.7 736.0,578.7 737.5,579.2 736.8,580.0 735.4,580.9 737.3,581.4 737.7,582.0 737.5,582.8 737.7,583.5 738.5,584.1 734.5,585.4 736.6,585.8 737.7,586.4 738.0,587.1 739.2,587.6 739.0,588.4 738.9,589.1 737.9,590.0 735.5,591.1 739.8,591.2 737.9,592.2 738.1,592.9 738.4,593.6 738.4,594.3 738.9,594.9 739.1,595.6 737.2,596.7 737.7,597.3 738.9,597.9 739.0,598.6 737.8,599.6 740.3,599.9 741.3,600.5 738.5,601.8 739.4,602.3 738.8,603.2 740.1,603.7 741.1,604.2 740.8,605.0 739.8,605.9 741.4,606.3 741.7,607.0 741.3,607.8 742.1,608.4 742.3,609.0 741.8,609.9 743.4,610.3 740.6,611.6 741.4,612.2 743.0,612.6 742.0,613.5 742.1,614.2 741.9,615.0 743.1,615.5 744.3,615.9 743.7,616.8 742.7,617.8 743.4,618.3 743.1,619.1 743.8,619.7 745.6,620.1 744.0,621.2 743.0,622.1 744.3,622.5 744.6,623.2 744.8,623.9 744.0,624.8 746.6,625.0 745.2,626.0 745.2,626.8 746.1,627.3 745.4,628.2 746.1,628.8 746.9,629.3 746.6,630.1 744.8,631.2 748.0,631.3 746.9,632.3 745.0,633.4 746.1,633.9 747.9,634.2 747.0,635.2 747.1,635.9 747.1,636.6 748.2,637.1 747.0,638.1 748.0,638.7 749.8,639.0 747.9,640.3 747.9,641.2 748.8,641.7 749.5,642.2 749.6,643.0 750.1,643.6 749.2,644.7 751.4,644.6 752.0,645.2 751.7,646.0 750.7,647.2 752.1,647.4 752.0,648.2 751.1,649.3 751.9,649.8 752.1,650.4 752.6,651.0 752.8,651.7 754.6,651.8 754.0,652.8 753.7,653.7 754.6,654.1 754.2,655.0 754.0,655.9 754.7,656.4 755.1,657.1 755.2,658.0 756.5,658.2 756.4,659.2 757.8,659.2 757.5,660.3 758.1,660.8 757.8,661.9 758.3,662.4 758.9,662.9 759.9,663.2 760.3,663.8 760.5,664.5 760.9,665.1 761.3,665.8 761.6,666.4 762.3,666.9 762.6,667.5 763.0,668.1 763.5,668.7 763.9,669.3 764.3,669.9 764.7,670.5 765.1,671.1 765.5,671.8 765.9,672.4 766.3,673.0 766.7,673.6 767.1,674.2 767.5,674.9 767.9,675.5 768.3,676.2 768.9,676.8 769.5,677.3 770.2,677.8 771.0,678.0 771.7,678.2 772.5,678.4 773.1,678.5 773.9,678.7 774.7,678.8 775.5,678.8 776.3,678.5 777.0,678.1 777.6,677.5 778.0,676.7 778.4,676.1 778.8,675.5 779.1,674.8 779.5,674.2 779.8,673.6 780.2,672.9 780.5,672.3 780.9,671.7 781.1,671.2 781.3,671.0 781.3,671.0 781.3,671.0 781.6,671.2 782.0,671.7 782.5,672.2 783.2,672.8 783.8,673.3 784.8,673.7 785.3,673.8 786.7,673.8 786.9,671.8 785.6,671.9 785.3,671.7 784.9,671.6 784.3,671.2 783.9,670.7 783.4,670.2 782.7,669.6 782.0,669.1 781.1,669.0 780.2,669.3 779.6,669.9 779.2,670.6 778.8,671.3 778.4,671.9 778.1,672.6 777.7,673.2 777.4,673.8 777.0,674.5 776.7,675.1 776.3,675.7 776.0,676.2 775.7,676.6 775.5,676.7 775.2,676.8 774.8,676.8 774.2,676.7 773.5,676.5 772.9,676.4 772.2,676.3 771.6,676.1 771.1,675.9 770.7,675.7 770.3,675.4 769.9,674.9 769.5,674.4 769.2,673.8 768.8,673.2 768.4,672.6 768.0,671.9 767.6,671.3 767.2,670.7 766.8,670.1 766.4,669.5 766.0,668.8 765.6,668.2 765.3,667.6 765.0,666.9 764.6,666.3 764.3,665.6 764.0,664.9 763.5,664.4 763.2,663.7 763.0,662.9 762.1,662.7 762.2,661.7 761.2,661.5 761.3,660.6 760.7,660.1 760.4,659.4 759.7,658.9 760.5,657.6 760.7,656.7 759.5,656.6 760.1,655.6 758.8,655.5 757.9,655.2 758.1,654.3 757.3,653.9 757.6,653.0 758.0,652.1 758.3,651.3 757.9,650.7 759.2,649.4 757.3,649.3 755.7,649.2 755.4,648.5 756.2,647.5 756.6,646.5 757.1,645.6 756.0,645.2 756.9,644.1 754.7,644.2 755.8,643.0 755.7,642.3 755.1,641.8 753.3,641.7 754.7,640.4 753.6,640.1 754.3,639.1 753.3,638.8 753.4,638.1 753.0,637.5 752.2,637.0 752.8,636.1 751.5,635.6 753.8,634.4 753.9,633.6 753.1,633.1 752.2,632.6 751.8,631.9 752.7,631.0 752.6,630.3 750.3,630.0 752.6,628.8 752.7,628.1 751.7,627.5 750.0,627.2 751.6,626.1 751.6,625.4 750.9,624.8 751.1,624.0 749.0,623.7 750.2,622.7 751.0,621.8 751.2,621.0 748.4,620.9 749.7,619.9 748.3,619.5 749.6,618.5 749.0,617.9 748.6,617.2 749.2,616.3 749.3,615.6 748.7,615.0 749.6,614.1 747.9,613.7 746.8,613.2 746.5,612.5 746.8,611.7 748.2,610.7 747.2,610.2 747.1,609.5 746.6,608.9 748.4,607.7 746.6,607.4 745.5,606.9 746.9,605.9 747.3,605.0 745.4,604.7 745.4,604.0 746.9,602.9 744.4,602.7 746.4,601.6 746.1,600.9 745.5,600.3 745.4,599.6 745.7,598.9 744.8,598.4 745.6,597.5 745.5,596.8 744.4,596.3 745.2,595.4 745.3,594.7 745.5,593.9 744.3,593.4 745.0,592.6 744.4,591.9 743.7,591.3 744.0,590.5 742.3,590.1 742.2,589.4 742.1,588.6 742.5,587.9 743.6,587.0 742.2,586.4 745.5,585.2 743.5,584.8 743.7,584.0 743.0,583.4 741.5,582.9 742.5,582.0 742.0,581.4 741.8,580.7 743.9,579.6 742.3,579.1 742.2,578.4 742.9,577.6 741.6,577.1 740.3,576.5 742.8,575.4 740.6,575.0 741.8,574.1 739.8,573.7 741.6,572.7 740.7,572.1 741.6,571.2 740.4,570.6 739.2,570.1 740.9,569.1 739.1,568.7 739.4,567.9 741.5,566.8 742.0,566.0 741.1,565.4 741.6,564.6 738.5,564.4 741.0,563.2 738.5,562.9 741.1,561.7 738.3,561.5 740.1,560.4 741.2,559.5 738.7,559.2 737.8,558.6 739.4,557.6 737.6,557.2 737.2,556.5 736.9,555.9 737.6,555.0 737.4,554.3 739.0,553.3 737.8,552.8 738.0,552.0 739.1,551.1 737.8,550.6 736.9,550.1 735.7,549.6 737.7,548.5 737.8,547.8 736.3,547.3 737.5,546.4 735.4,546.0 735.8,545.3 737.8,544.1 735.2,543.9 736.5,543.0 738.3,542.0 734.2,542.0 737.7,540.7 735.1,540.4 734.6,539.8 734.9,539.0 733.7,538.4 735.2,537.5 736.4,536.6 736.8,535.8 733.8,535.5 734.6,534.7 734.5,533.9 734.1,533.3 732.8,532.7 735.3,531.6 732.6,531.3 732.9,530.5 734.4,529.6 736.4,528.6 733.3,528.3 734.9,527.3 734.5,526.6 731.9,526.3 732.3,525.5 732.1,524.8 734.4,523.8 733.6,523.2 732.1,522.7 733.7,521.7 733.4,521.1 732.3,520.5 731.0,519.9 733.1,519.0 732.6,518.3 733.8,517.5 732.8,516.9 731.9,516.3 730.8,515.6 730.5,515.0 731.7,514.1 730.8,513.5 731.9,512.7 732.8,511.9 731.5,511.3 730.9,510.6 731.1,509.9 730.6,509.2 729.9,508.6 730.6,507.8 732.7,506.8 732.9,506.1 729.6,505.7 732.0,504.8 731.2,504.1 730.3,503.5 729.4,502.9 729.2,502.2 731.4,501.2 732.2,500.4 730.7,499.9 732.0,499.0 730.1,498.5 728.8,497.9 730.6,497.0 729.9,496.3 730.6,495.5 730.8,494.8 730.7,494.1 729.5,493.5 731.2,492.6 729.9,492.0 729.6,491.3 730.1,490.5 728.9,489.9 729.0,489.2 727.9,488.6 730.1,487.7 730.8,486.9 727.7,486.5 730.0,485.5 728.2,485.0 728.4,484.2 729.9,483.3 727.8,482.8 728.7,482.0 727.3,481.4 728.8,480.6 727.0,480.0 727.6,479.3 727.3,478.6 728.8,477.7 728.4,477.0 726.9,476.4 727.5,475.7 726.4,475.0 728.8,474.1 729.3,473.3 729.1,472.6 726.8,472.1 728.4,471.3 728.0,470.6 727.5,469.9 726.2,469.3 728.3,468.5 727.8,467.8 728.2,467.0 726.9,466.4 728.3,465.6 728.8,464.8 728.0,464.2 727.0,463.5 727.0,462.8 726.8,462.1 727.4,461.4 727.3,460.7 726.9,460.0 727.9,459.2 726.0,458.6 726.5,457.9 725.7,457.2 724.9,456.6 726.2,455.7 724.8,455.1 726.7,454.3 725.4,453.7 725.6,452.9 728.2,452.0 725.7,451.5 725.2,450.8 725.9,450.0 725.8,449.3 725.9,448.6 725.7,447.9 724.6,447.3 726.0,446.5 725.6,445.8 725.8,445.1 725.8,444.4 724.0,443.8 726.1,443.0 724.9,442.3 724.6,441.6 724.1,440.9 724.7,440.2 726.4,439.4 723.7,438.8 724.3,438.1 723.8,437.4 723.6,436.7 726.8,435.8 725.2,435.2 725.3,434.5 725.0,433.8 723.5,433.1 726.2,432.3 725.8,431.6 724.9,430.9 725.5,430.2 725.0,429.5 724.0,428.8 724.2,428.1 725.8,427.3 724.2,426.7 725.0,425.9 724.6,425.2 724.4,424.5 723.9,423.8 724.8,423.1 725.1,422.3 725.7,421.6 724.4,420.9 724.5,420.2 724.8,419.5 722.9,418.9 724.2,418.1 725.1,417.4 722.8,416.8 724.8,416.1 725.8,415.4 724.0,414.7 726.1,414.0 724.1,413.3 723.4,412.6 723.6,411.9 723.9,411.2 724.3,410.5 724.5,409.8 723.2,409.1 722.7,408.4 724.3,407.7 723.3,407.0 725.4,406.3 725.8,405.6 725.3,404.9 724.4,404.2 723.0,403.5 724.6,402.8 725.5,402.1 725.3,401.4 723.9,401.0 725.7,400.0"/>
<polygon points="721.6,428.9 723.4,428.9 723.4,459.2 725.2,459.2 725.2,477.2 727.0,477.2 727.0,496.0 728.8,496.0 728.8,513.1 730.6,513.1 730.6,527.7 732.4,527.7 732.4,535.3 734.2,535.3 734.2,547.9 736.0,547.9 736.0,559.2 737.8,559.2 737.8,570.0 739.6,570.0 739.6,580.5 741.4,580.5 741.4,593.0 743.2,593.0 743.2,601.8 745.0,601.8 745.0,610.3 746.8,610.3 746.8,616.7 748.6,616.7 748.6,624.0 750.4,624.0 750.4,634.5 752.2,634.5 752.2,639.4 754.0,639.4 754.0,644.9 755.8,644.9 755.8,647.7 757.6,647.7 757.6,652.0 759.4,652.0 759.4,655.2 761.2,655.2 761.2,658.8 763.0,658.8 763.0,661.9 764.8,661.9 764.8,659.7 766.6,659.7 766.6,666.7 768.4,666.7 768.4,667.9 770.2,667.9 770.2,669.0 772.0,669.0 772.0,668.5 773.8,668.5 773.8,670.1 775.6,670.1 775.6,670.2 777.4,670.2 777.4,667.0 779.2,667.0 779.2,662.9 781.0,662.9 781.0,664.7 782.8,664.7 782.8,664.3 784.6,664.3 784.6,665.5 786.4,665.5 786.4,678.4 784.6,678.4 784.6,677.6 782.8,677.6 782.8,676.6 781.0,676.6 781.0,679.4 779.2,679.4 779.2,681.1 777.4,681.1 777.4,683.7 775.6,683.7 775.6,687.7 773.8,687.7 773.8,683.8 772.0,683.8 772.0,684.1 770.2,684.1 770.2,683.3 768.4,683.3 768.4,684.1 766.6,684.1 766.6,677.1 764.8,677.1 764.8,673.3 763.0,673.3 763.0,670.6 761.2,670.6 761.2,669.5 759.4,669.5 759.4,663.9 757.6,663.9 757.6,664.9 755.8,664.9 755.8,656.3 754.0,656.3 754.0,652.2 752.2,652.2 752.2,647.3 750.4,647.3 750.4,639.3 748.6,639.3 748.6,629.2 746.8,629.2 746.8,621.3 745.0,621.3 745.0,612.5 743.2,612.5 743.2,604.7 741.4,604.7 741.4,596.3 739.6,596.3 739.6,580.6 737.8,580.6 737.8,570.0 736.0,570.0 736.0,558.9 734.2,558.9 734.2,550.4 732.4,550.4 732.4,537.7 730.6,537.7 730.6,527.4 728.8,527.4 728.8,505.7 727.0,505.7 727.0,488.6 725.2,488.6 725.2,469.0 723.4,469.0 723.4,441.2 721.6,441.2"/>
<polygon points="808.3,685.5 809.3,686.2 809.6,686.4 810.2,686.8 810.8,687.2 811.5,687.7 812.1,688.1 812.7,688.5 813.3,688.9 814.0,689.4 814.6,689.8 815.2,690.2 815.9,690.6 816.6,691.0 817.2,691.3 817.8,691.6 818.5,691.9 819.1,692.3 819.7,692.6 820.4,692.9 821.0,693.2 821.6,693.5 822.3,693.8 822.9,694.1 823.5,694.4 824.2,694.8 824.8,695.1 825.5,695.4 826.2,695.7 826.9,695.9 827.6,696.1 828.3,696.3 829.0,696.5 829.7,696.6 830.3,696.8 831.0,697.0 831.7,697.1 832.4,697.3 833.1,697.5 833.7,697.6 834.4,697.8 835.1,698.0 835.8,698.2 836.5,698.3 837.1,698.5 837.8,698.7 838.6,698.8 839.3,699.0 840.1,699.0 840.9,698.9 841.7,698.8 842.5,698.6 843.2,698.5 843.9,698.3 844.6,698.1 845.3,697.9 846.0,697.7 846.7,697.6 847.4,697.4 848.2,697.2 848.9,697.0 849.6,696.8 850.3,696.7 851.0,696.5 851.7,696.3 852.4,696.1 853.1,696.0 853.7,695.9 854.4,695.8 855.1,695.8 855.8,695.8 856.5,695.8 857.2,695.8 858.0,695.8 858.7,695.8 859.4,695.8 860.2,695.8 860.9,695.8 861.6,695.8 862.3,695.8 863.0,695.8 863.6,695.9 864.2,696.0 864.9,696.2 865.5,696.4 866.2,696.7 866.9,696.9 867.6,697.1 868.2,697.3 868.9,697.6 869.6,697.8 870.3,698.0 871.0,698.2 871.6,698.5 872.3,698.7 873.0,698.9 873.7,699.2 874.3,699.4 875.0,699.6 875.7,699.9 876.3,700.2 877.0,700.4 877.7,700.7 878.4,700.9 879.0,701.2 879.7,701.4 880.4,701.7 881.1,701.9 881.7,702.2 882.4,702.5 883.1,702.7 883.8,703.0 884.4,703.2 885.1,703.5 885.8,703.7 886.5,704.0 887.3,704.2 888.0,704.3 888.8,704.5 889.5,704.6 890.2,704.7 890.9,704.7 891.6,704.8 892.3,704.9 893.1,705.0 893.8,705.1 894.5,705.2 895.2,705.3 895.9,705.4 896.6,705.5 897.3,705.5 898.0,705.6 898.7,705.7 899.5,705.8 900.2,705.9 900.9,705.9 901.7,706.0 902.4,706.0 903.1,706.0 903.9,706.0 904.6,706.0 905.3,706.0 906.0,706.0 906.7,706.0 907.4,706.0 908.2,706.0 908.9,706.0 909.6,706.0 910.3,706.0 911.0,706.0 911.7,706.0 912.5,706.0 913.2,706.0 913.9,706.0 914.6,706.0 915.3,706.0 916.1,706.0 916.8,706.0 917.5,706.0 918.3,706.0 919.0,706.0 919.8,706.0 920.5,706.0 921.2,706.0 922.0,706.0 922.7,706.0 923.5,706.0 924.2,706.0 924.9,706.0 925.3,706.0 926.4,706.0 926.4,704.0 925.3,704.0 924.9,704.0 924.2,704.0 923.5,704.0 922.7,704.0 922.0,704.0 921.2,704.0 920.5,704.0 919.8,704.0 919.0,704.0 918.3,704.0 917.5,704.0 916.8,704.0 916.1,704.0 915.3,704.0 914.6,704.0 913.9,704.0 913.2,704.0 912.5,704.0 911.7,704.0 911.0,704.0 910.3,704.0 909.6,704.0 908.9,704.0 908.2,704.0 907.4,704.0 906.7,704.0 906.0,704.0 905.3,704.0 904.6,704.0 903.9,704.0 903.2,704.0 902.5,704.0 901.8,704.0 901.1,703.9 900.4,703.9 899.7,703.8 899.0,703.7 898.3,703.6 897.6,703.6 896.9,703.5 896.2,703.4 895.4,703.3 894.7,703.2 894.0,703.1 893.3,703.0 892.6,702.9 891.9,702.8 891.2,702.8 890.5,702.7 889.8,702.6 889.1,702.5 888.4,702.4 887.8,702.2 887.1,702.1 886.5,701.8 885.8,701.6 885.2,701.3 884.5,701.1 883.8,700.8 883.1,700.6 882.5,700.3 881.8,700.1 881.1,699.8 880.4,699.6 879.8,699.3 879.1,699.0 878.4,698.8 877.7,698.5 877.1,698.3 876.4,698.0 875.7,697.8 875.0,697.5 874.3,697.3 873.6,697.0 873.0,696.8 872.3,696.6 871.6,696.3 870.9,696.1 870.2,695.9 869.6,695.7 868.9,695.4 868.2,695.2 867.5,695.0 866.8,694.8 866.1,694.5 865.4,694.3 864.7,694.1 863.9,693.9 863.2,693.8 862.4,693.8 861.6,693.8 860.9,693.8 860.2,693.8 859.4,693.8 858.7,693.8 858.0,693.8 857.2,693.8 856.5,693.8 855.8,693.8 855.0,693.8 854.3,693.8 853.5,693.9 852.7,694.0 852.0,694.2 851.2,694.4 850.5,694.5 849.8,694.7 849.1,694.9 848.4,695.1 847.7,695.3 847.0,695.4 846.3,695.6 845.5,695.8 844.8,696.0 844.1,696.2 843.4,696.3 842.7,696.5 842.0,696.7 841.3,696.9 840.7,697.0 840.1,697.0 839.5,697.0 838.9,696.9 838.3,696.7 837.6,696.5 836.9,696.4 836.3,696.2 835.6,696.0 834.9,695.9 834.2,695.7 833.5,695.5 832.9,695.4 832.2,695.2 831.5,695.0 830.8,694.8 830.1,694.7 829.5,694.5 828.8,694.3 828.1,694.2 827.5,694.0 826.9,693.8 826.3,693.5 825.7,693.3 825.0,693.0 824.4,692.7 823.8,692.3 823.2,692.0 822.5,691.7 821.9,691.4 821.3,691.1 820.6,690.8 820.0,690.5 819.4,690.2 818.7,689.8 818.1,689.5 817.5,689.2 816.9,688.9 816.3,688.5 815.7,688.1 815.1,687.7 814.5,687.3 813.8,686.8 813.2,686.4 812.6,686.0 812.0,685.6 811.3,685.1 810.7,684.7 810.4,684.5 809.5,683.9"/>
<polygon points="808.9,677.2 810.7,677.2 810.7,677.7 812.5,677.7 812.5,681.2 814.3,681.2 814.3,682.5 816.1,682.5 816.1,681.5 817.9,681.5 817.9,684.6 819.7,684.6 819.7,684.5 821.5,684.5 821.5,685.1 823.3,685.1 823.3,685.9 825.1,685.9 825.1,686.5 826.9,686.5 826.9,685.8 828.7,685.8 828.7,688.4 830.5,688.4 830.5,688.8 832.3,688.8 832.3,687.9 834.1,687.9 834.1,686.9 835.9,686.9 835.9,690.1 837.7,690.1 837.7,691.1 839.5,691.1 839.5,692.1 841.3,692.1 841.3,691.2 843.1,691.2 843.1,687.9 844.9,687.9 844.9,689.3 846.7,689.3 846.7,689.1 848.5,689.1 848.5,688.8 850.3,688.8 850.3,687.1 852.1,687.1 852.1,686.4 853.9,686.4 853.9,685.5 855.7,685.5 855.7,689.3 857.5,689.3 857.5,686.0 859.3,686.0 859.3,686.9 861.1,686.9 861.1,688.0 862.9,688.0 862.9,686.4 864.7,686.4 864.7,682.4 866.5,682.4 866.5,689.9 868.3,689.9 868.3,689.9 870.1,689.9 870.1,689.0 871.9,689.0 871.9,691.9 873.7,691.9 873.7,693.0 875.5,693.0 875.5,687.8 877.3,687.8 877.3,694.2 879.1,694.2 879.1,694.7 880.9,694.7 880.9,695.8 882.7,695.8 882.7,695.7 884.5,695.7 884.5,692.2 886.3,692.2 886.3,695.5 888.1,695.5 888.1,697.3 889.9,697.3 889.9,692.5 891.7,692.5 891.7,698.6 893.5,698.6 893.5,695.7 895.3,695.7 895.3,697.2 897.1,697.2 897.1,695.6 898.9,695.6 898.9,699.3 900.7,699.3 900.7,693.4 902.5,693.4 902.5,694.5 904.3,694.5 904.3,699.7 906.1,699.7 906.1,696.3 907.9,696.3 907.9,697.7 909.7,697.7 909.7,696.7 911.5,696.7 911.5,696.9 913.3,696.9 913.3,695.7 915.1,695.7 915.1,692.6 916.9,692.6 916.9,698.6 918.7,698.6 918.7,697.4 920.5,697.4 920.5,699.2 922.3,699.2 922.3,697.8 924.1,697.8 924.1,699.8 925.9,699.8 925.9,710.9 924.1,710.9 924.1,715.3 922.3,715.3 922.3,711.9 920.5,711.9 920.5,712.2 918.7,712.2 918.7,710.5 916.9,710.5 916.9,711.3 915.1,711.3 915.1,710.4 913.3,710.4 913.3,711.1 911.5,711.1 911.5,711.3 909.7,711.3 909.7,712.2 907.9,712.2 907.9,710.9 906.1,710.9 906.1,715.1 904.3,715.1 904.3,710.5 902.5,710.5 902.5,710.3 900.7,710.3 900.7,711.5 898.9,711.5 898.9,709.9 897.1,709.9 897.1,710.4 895.3,710.4 895.3,710.0 893.5,710.0 893.5,714.0 891.7,714.0 891.7,711.3 889.9,711.3 889.9,711.1 888.1,711.1 888.1,708.4 886.3,708.4 886.3,707.8 884.5,707.8 884.5,708.9 882.7,708.9 882.7,707.7 880.9,707.7 880.9,707.0 879.1,707.0 879.1,707.1 877.3,707.1 877.3,705.2 875.5,705.2 875.5,703.8 873.7,703.8 873.7,708.3 871.9,708.3 871.9,704.7 870.1,704.7 870.1,702.4 868.3,702.4 868.3,702.1 866.5,702.1 866.5,701.4 864.7,701.4 864.7,702.3 862.9,702.3 862.9,701.4 861.1,701.4 861.1,701.4 859.3,701.4 859.3,700.3 857.5,700.3 857.5,700.1 855.7,700.1 855.7,704.5 853.9,704.5 853.9,701.3 852.1,701.3 852.1,702.3 850.3,702.3 850.3,701.5 848.5,701.5 848.5,702.5 846.7,702.5 846.7,703.6 844.9,703.6 844.9,703.7 843.1,703.7 843.1,705.9 841.3,705.9 841.3,708.9 839.5,708.9 839.5,703.7 837.7,703.7 837.7,703.0 835.9,703.0 835.9,704.1 834.1,704.1 834.1,701.9 832.3,701.9 832.3,701.8 830.5,701.8 830.5,704.0 828.7,704.0 828.7,702.2 826.9,702.2 826.9,700.7 825.1,700.7 825.1,699.9 823.3,699.9 823.3,698.7 821.5,698.7 821.5,698.0 819.7,698.0 819.7,698.4 817.9,698.4 817.9,697.5 816.1,697.5 816.1,695.4 814.3,695.4 814.3,695.3 812.5,695.3 812.5,693.5 810.7,693.5 810.7,692.2 808.9,692.2"/>
</g></defs>
</g>
<clipPath id="h6"><rect x="696.8" y="413.5" width="240.0" height="320.9"/></clipPath>
<use href="#band6" fill="#fff" stroke="#fff" stroke-width="3.2" stroke-linejoin="round" clip-path="url(#h6)"/>
<g clip-path="url(#c6)">
<use href="#band6" fill="#02c26b"/>
<rect x="720.1" y="416.9" width="3.2" height="3.2" rx="1.3" fill="#04401f" opacity="0.75"/>
<circle cx="743.1" cy="720.2" r="1.6" fill="#02c26b"/>
<circle cx="747.4" cy="607.3" r="1.6" fill="#049a55"/>
<circle cx="751.1" cy="608.0" r="1.6" fill="#049a55"/>
<circle cx="754.2" cy="528.3" r="1.6" fill="#02c26b"/>
<circle cx="758.2" cy="527.7" r="1.6" fill="#02c26b"/>
<circle cx="762.0" cy="510.2" r="1.6" fill="#02c26b"/>
<circle cx="765.3" cy="569.5" r="1.6" fill="#02c26b"/>
<circle cx="769.2" cy="490.5" r="1.6" fill="#02c26b"/>
<circle cx="772.6" cy="487.1" r="1.6" fill="#02c26b"/>
<circle cx="776.1" cy="462.0" r="1.6" fill="#02c26b"/>
<circle cx="779.9" cy="477.3" r="1.6" fill="#049a55"/>
<circle cx="783.5" cy="516.2" r="1.6" fill="#02c26b"/>
<circle cx="787.3" cy="566.2" r="1.6" fill="#02c26b"/>
<circle cx="790.9" cy="526.1" r="1.6" fill="#02c26b"/>
<circle cx="794.5" cy="521.2" r="1.6" fill="#02c26b"/>
<circle cx="798.3" cy="464.6" r="1.6" fill="#02c26b"/>
<circle cx="802.0" cy="508.0" r="1.6" fill="#02c26b"/>
<circle cx="805.4" cy="442.7" r="1.6" fill="#02c26b"/>
<circle cx="809.2" cy="494.9" r="1.6" fill="#02c26b"/>
<circle cx="813.0" cy="478.3" r="1.6" fill="#049a55"/>
<circle cx="816.4" cy="536.1" r="1.6" fill="#02c26b"/>
<circle cx="820.2" cy="564.0" r="1.6" fill="#02c26b"/>
<circle cx="824.0" cy="483.3" r="1.6" fill="#049a55"/>
<circle cx="827.3" cy="467.4" r="1.6" fill="#02c26b"/>
<circle cx="831.1" cy="538.9" r="1.6" fill="#02c26b"/>
<circle cx="834.9" cy="492.5" r="1.6" fill="#02c26b"/>
<circle cx="838.3" cy="568.4" r="1.6" fill="#02c26b"/>
<circle cx="842.1" cy="538.9" r="1.6" fill="#02c26b"/>
<circle cx="845.9" cy="487.1" r="1.6" fill="#02c26b"/>
<circle cx="849.3" cy="515.2" r="1.6" fill="#02c26b"/>
<circle cx="853.0" cy="508.4" r="1.6" fill="#02c26b"/>
<circle cx="856.8" cy="518.4" r="1.6" fill="#02c26b"/>
<circle cx="860.2" cy="533.3" r="1.6" fill="#02c26b"/>
<circle cx="864.0" cy="479.3" r="1.6" fill="#049a55"/>
<circle cx="867.6" cy="489.9" r="1.6" fill="#02c26b"/>
<circle cx="871.0" cy="572.8" r="1.6" fill="#02c26b"/>
<circle cx="875.0" cy="533.3" r="1.6" fill="#02c26b"/>
<circle cx="878.3" cy="464.6" r="1.6" fill="#02c26b"/>
<circle cx="882.1" cy="456.4" r="1.6" fill="#02c26b"/>
<circle cx="885.9" cy="438.9" r="1.6" fill="#02c26b"/>
<circle cx="889.5" cy="449.2" r="1.6" fill="#02c26b"/>
<circle cx="893.3" cy="430.1" r="1.6" fill="#02c26b"/>
<circle cx="897.1" cy="436.5" r="1.6" fill="#02c26b"/>
<circle cx="900.3" cy="446.1" r="1.6" fill="#02c26b"/>
<circle cx="904.0" cy="463.0" r="1.6" fill="#02c26b"/>
<circle cx="907.8" cy="461.0" r="1.6" fill="#02c26b"/>
<circle cx="911.2" cy="453.0" r="1.6" fill="#02c26b"/>
<circle cx="915.0" cy="452.0" r="1.6" fill="#02c26b"/>
<circle cx="918.8" cy="473.5" r="1.6" fill="#02c26b"/>
<circle cx="922.4" cy="464.6" r="1.6" fill="#02c26b"/>
<circle cx="926.1" cy="446.5" r="1.6" fill="#02c26b"/>
</g>
<rect x="838.8" y="565.5" width="93.2" height="19.4" rx="2" fill="#f0f0f0" fill-opacity="0.85" stroke="#e6e6e6" stroke-width="0.8"/>
<rect x="870.8" y="567.0" width="58" height="16.4" rx="3" fill="#ffffff" opacity="0.85"/>
<circle cx="854.5" cy="575.7" r="4" fill="#ffffff" opacity="0.8"/>
<circle cx="854.5" cy="575.7" r="1.7" fill="#04401f"/>
<text transform="translate(873.8,578.2) scale(1.03,1)" font-size="10.6" text-anchor="start" fill="#111111" font-weight="normal" font-family="'DejaVu Sans', 'Liberation Sans', sans-serif" stroke="#111" stroke-width="0.3">mAP@0.5</text>
<line x1="216.0" y1="1115.4" x2="445.3" y2="1115.4" stroke="#e8e8e8" stroke-width="1.8"/>
<text transform="translate(208.0,1119.2) scale(1.05,1)" font-size="10.5" text-anchor="end" fill="#262626" font-weight="normal" font-family="'DejaVu Sans', 'Liberation Sans', sans-serif" stroke="#262626" stroke-width="0.15">0</text>
<line x1="216.0" y1="1051.4" x2="445.3" y2="1051.4" stroke="#e8e8e8" stroke-width="1.8"/>
<text transform="translate(208.0,1055.2) scale(1.05,1)" font-size="10.5" text-anchor="end" fill="#262626" font-weight="normal" font-family="'DejaVu Sans', 'Liberation Sans', sans-serif" stroke="#262626" stroke-width="0.15">20</text>
<line x1="216.0" y1="987.4" x2="445.3" y2="987.4" stroke="#e8e8e8" stroke-width="1.8"/>
<text transform="translate(208.0,991.2) scale(1.05,1)" font-size="10.5" text-anchor="end" fill="#262626" font-weight="normal" font-family="'DejaVu Sans', 'Liberation Sans', sans-serif" stroke="#262626" stroke-width="0.15">40</text>
<line x1="216.0" y1="923.3" x2="445.3" y2="923.3" stroke="#e8e8e8" stroke-width="1.8"/>
<text transform="translate(208.0,927.1) scale(1.05,1)" font-size="10.5" text-anchor="end" fill="#262626" font-weight="normal" font-family="'DejaVu Sans', 'Liberation Sans', sans-serif" stroke="#262626" stroke-width="0.15">60</text>
<line x1="216.0" y1="859.3" x2="445.3" y2="859.3" stroke="#e8e8e8" stroke-width="1.8"/>
<text transform="translate(208.0,863.1) scale(1.05,1)" font-size="10.5" text-anchor="end" fill="#262626" font-weight="normal" font-family="'DejaVu Sans', 'Liberation Sans', sans-serif" stroke="#262626" stroke-width="0.15">80</text>
<line x1="216.0" y1="795.3" x2="445.3" y2="795.3" stroke="#e8e8e8" stroke-width="1.8"/>
<text transform="translate(208.0,799.1) scale(1.05,1)" font-size="10.5" text-anchor="end" fill="#262626" font-weight="normal" font-family="'DejaVu Sans', 'Liberation Sans', sans-serif" stroke="#262626" stroke-width="0.15">100</text>
<line x1="215.0" y1="795.3" x2="215.0" y2="1115.9" stroke="#eeeeee" stroke-width="1.6"/>
<line x1="447.1" y1="795.3" x2="447.1" y2="1115.9" stroke="#f3f3f3" stroke-width="1.8"/>
<text transform="translate(224.8,1128.8) scale(1.05,1)" font-size="10.5" text-anchor="middle" fill="#262626" font-weight="normal" font-family="'DejaVu Sans', 'Liberation Sans', sans-serif" stroke="#262626" stroke-width="0.15">0</text>
<text transform="translate(259.9,1128.8) scale(1.05,1)" font-size="10.5" text-anchor="middle" fill="#262626" font-weight="normal" font-family="'DejaVu Sans', 'Liberation Sans', sans-serif" stroke="#262626" stroke-width="0.15">1000</text>
<text transform="translate(295.1,1128.8) scale(1.05,1)" font-size="10.5" text-anchor="middle" fill="#262626" font-weight="normal" font-family="'DejaVu Sans', 'Liberation Sans', sans-serif" stroke="#262626" stroke-width="0.15">2000</text>
<text transform="translate(330.2,1128.8) scale(1.05,1)" font-size="10.5" text-anchor="middle" fill="#262626" font-weight="normal" font-family="'DejaVu Sans', 'Liberation Sans', sans-serif" stroke="#262626" stroke-width="0.15">3000</text>
<text transform="translate(365.3,1128.8) scale(1.05,1)" font-size="10.5" text-anchor="middle" fill="#262626" font-weight="normal" font-family="'DejaVu Sans', 'Liberation Sans', sans-serif" stroke="#262626" stroke-width="0.15">4000</text>
<text transform="translate(400.5,1128.8) scale(1.05,1)" font-size="10.5" text-anchor="middle" fill="#262626" font-weight="normal" font-family="'DejaVu Sans', 'Liberation Sans', sans-serif" stroke="#262626" stroke-width="0.15">5000</text>
<text transform="translate(435.6,1128.8) scale(1.05,1)" font-size="10.5" text-anchor="middle" fill="#262626" font-weight="normal" font-family="'DejaVu Sans', 'Liberation Sans', sans-serif" stroke="#262626" stroke-width="0.15">6000</text>
<text transform="translate(330.6,1143.9) scale(1.01,1)" font-size="14.4" text-anchor="middle" fill="#1a1a1a" font-weight="normal" font-family="'DejaVu Sans', 'Liberation Sans', sans-serif" stroke="#1a1a1a" stroke-width="0.15">Iterations</text>
<text transform="translate(329.9,790.2) scale(1.015,1)" font-size="17.0" text-anchor="middle" fill="#111111" font-weight="normal" font-family="'DejaVu Sans', 'Liberation Sans', sans-serif" stroke="#111111" stroke-width="0.15">YOLOv4-CSP-512</text>
<text transform="translate(182.5,955.4) rotate(-90) scale(1,1.05)" font-size="14.4" text-anchor="middle" fill="#1a1a1a" font-family="'DejaVu Sans', 'Liberation Sans', sans-serif" stroke="#1a1a1a" stroke-width="0.15">Loss</text>
<text transform="translate(452.3,809.1) scale(0.9,1)" font-size="9.6" text-anchor="start" fill="#2a2a2a" font-weight="normal" font-family="'DejaVu Sans', 'Liberation Sans', sans-serif" stroke="#2a2a2a" stroke-width="0.3">92.5</text>
<text transform="translate(452.3,845.8) scale(0.9,1)" font-size="9.6" text-anchor="start" fill="#2a2a2a" font-weight="normal" font-family="'DejaVu Sans', 'Liberation Sans', sans-serif" stroke="#2a2a2a" stroke-width="0.3">90.0</text>
<text transform="translate(452.3,882.5) scale(0.9,1)" font-size="9.6" text-anchor="start" fill="#2a2a2a" font-weight="normal" font-family="'DejaVu Sans', 'Liberation Sans', sans-serif" stroke="#2a2a2a" stroke-width="0.3">87.5</text>
<text transform="translate(452.3,919.2) scale(0.9,1)" font-size="9.6" text-anchor="start" fill="#2a2a2a" font-weight="normal" font-family="'DejaVu Sans', 'Liberation Sans', sans-serif" stroke="#2a2a2a" stroke-width="0.3">85.0</text>
<text transform="translate(452.3,955.9) scale(0.9,1)" font-size="9.6" text-anchor="start" fill="#2a2a2a" font-weight="normal" font-family="'DejaVu Sans', 'Liberation Sans', sans-serif" stroke="#2a2a2a" stroke-width="0.3">82.5</text>
<text transform="translate(452.3,992.6) scale(0.9,1)" font-size="9.6" text-anchor="start" fill="#2a2a2a" font-weight="normal" font-family="'DejaVu Sans', 'Liberation Sans', sans-serif" stroke="#2a2a2a" stroke-width="0.3">80.0</text>
<text transform="translate(452.3,1029.3) scale(0.9,1)" font-size="9.6" text-anchor="start" fill="#2a2a2a" font-weight="normal" font-family="'DejaVu Sans', 'Liberation Sans', sans-serif" stroke="#2a2a2a" stroke-width="0.3">77.5</text>
<text transform="translate(452.3,1066.0) scale(0.9,1)" font-size="9.6" text-anchor="start" fill="#2a2a2a" font-weight="normal" font-family="'DejaVu Sans', 'Liberation Sans', sans-serif" stroke="#2a2a2a" stroke-width="0.3">75.0</text>
<text transform="translate(452.3,1102.7) scale(0.9,1)" font-size="9.6" text-anchor="start" fill="#2a2a2a" font-weight="normal" font-family="'DejaVu Sans', 'Liberation Sans', sans-serif" stroke="#2a2a2a" stroke-width="0.3">72.5</text>
<clipPath id="c7"><rect x="215.0" y="796.2" width="231.1" height="319.2"/></clipPath>
<g clip-path="url(#c7)">
<circle cx="263.6" cy="896.3" r="3.2" fill="#fff"/>
<circle cx="267.0" cy="858.6" r="3.2" fill="#fff"/>
<circle cx="270.5" cy="829.9" r="3.2" fill="#fff"/>
<circle cx="274.2" cy="847.0" r="3.2" fill="#fff"/>
<circle cx="277.5" cy="859.0" r="3.2" fill="#fff"/>
<circle cx="281.2" cy="836.9" r="3.2" fill="#fff"/>
<circle cx="284.5" cy="832.6" r="3.2" fill="#fff"/>
<circle cx="288.0" cy="821.2" r="3.2" fill="#fff"/>
<circle cx="291.7" cy="841.5" r="3.2" fill="#fff"/>
<circle cx="295.1" cy="907.8" r="3.2" fill="#fff"/>
<circle cx="298.7" cy="832.1" r="3.2" fill="#fff"/>
<circle cx="302.2" cy="842.6" r="3.2" fill="#fff"/>
<circle cx="305.5" cy="831.5" r="3.2" fill="#fff"/>
<circle cx="309.2" cy="840.9" r="3.2" fill="#fff"/>
<circle cx="312.7" cy="825.4" r="3.2" fill="#fff"/>
<circle cx="316.4" cy="822.7" r="3.2" fill="#fff"/>
<circle cx="319.7" cy="824.3" r="3.2" fill="#fff"/>
<circle cx="323.2" cy="823.4" r="3.2" fill="#fff"/>
<circle cx="326.9" cy="821.6" r="3.2" fill="#fff"/>
<circle cx="330.2" cy="819.9" r="3.2" fill="#fff"/>
<circle cx="333.9" cy="844.2" r="3.2" fill="#fff"/>
<circle cx="337.2" cy="853.6" r="3.2" fill="#fff"/>
<circle cx="340.5" cy="853.1" r="3.2" fill="#fff"/>
<circle cx="344.4" cy="816.2" r="3.2" fill="#fff"/>
<circle cx="347.7" cy="832.6" r="3.2" fill="#fff"/>
<circle cx="351.6" cy="834.3" r="3.2" fill="#fff"/>
<circle cx="354.9" cy="827.6" r="3.2" fill="#fff"/>
<circle cx="358.4" cy="831.0" r="3.2" fill="#fff"/>
<circle cx="362.1" cy="838.1" r="3.2" fill="#fff"/>
<circle cx="365.4" cy="821.7" r="3.2" fill="#fff"/>
<circle cx="368.9" cy="817.7" r="3.2" fill="#fff"/>
<circle cx="372.4" cy="821.7" r="3.2" fill="#fff"/>
<circle cx="375.7" cy="828.9" r="3.2" fill="#fff"/>
<circle cx="379.4" cy="852.5" r="3.2" fill="#fff"/>
<circle cx="382.9" cy="824.9" r="3.2" fill="#fff"/>
<circle cx="386.6" cy="824.3" r="3.2" fill="#fff"/>
<circle cx="389.9" cy="840.2" r="3.2" fill="#fff"/>
<circle cx="393.4" cy="830.4" r="3.2" fill="#fff"/>
<circle cx="397.1" cy="824.3" r="3.2" fill="#fff"/>
<circle cx="400.8" cy="1100.2" r="3.2" fill="#fff"/>
<circle cx="404.1" cy="809.4" r="3.2" fill="#fff"/>
<circle cx="407.4" cy="810.1" r="3.2" fill="#fff"/>
<circle cx="410.7" cy="810.7" r="3.2" fill="#fff"/>
<circle cx="414.8" cy="811.2" r="3.2" fill="#fff"/>
<circle cx="418.1" cy="811.2" r="3.2" fill="#fff"/>
<circle cx="421.8" cy="812.0" r="3.2" fill="#fff"/>
<circle cx="425.1" cy="812.3" r="3.2" fill="#fff"/>
<circle cx="428.4" cy="811.2" r="3.2" fill="#fff"/>
<circle cx="432.1" cy="814.0" r="3.2" fill="#fff"/>
<circle cx="435.6" cy="811.2" r="3.2" fill="#fff"/>
<defs><g id="band7">
<polygon points="246.7,780.0 246.9,781.1 247.1,781.4 246.7,782.1 247.1,782.8 246.4,783.5 246.7,784.2 246.8,784.9 247.7,785.6 247.7,786.3 247.7,787.0 247.7,787.7 246.7,788.5 247.7,789.2 246.8,789.9 247.7,790.6 247.5,791.3 246.0,792.0 246.8,792.7 247.2,793.4 246.7,794.1 247.7,794.8 245.8,795.5 246.2,796.2 247.3,796.9 246.2,797.6 246.8,798.3 247.0,799.0 246.9,799.7 245.7,800.5 246.7,801.2 246.8,801.9 247.3,802.6 246.2,803.3 247.9,803.9 246.4,804.7 247.3,805.4 246.0,806.1 247.3,806.8 247.2,807.5 247.4,808.2 246.7,808.9 247.2,809.6 247.1,810.3 246.1,811.1 247.1,811.7 247.4,812.4 247.1,813.1 248.2,813.8 248.2,814.5 247.4,815.2 247.1,815.9 247.9,816.6 247.1,817.4 247.4,818.0 246.6,818.8 248.2,819.4 247.3,820.2 247.1,820.9 246.5,821.6 247.3,822.3 247.5,823.0 248.4,823.7 248.5,824.4 248.6,825.1 248.2,825.8 247.4,826.6 246.3,827.4 247.6,828.0 247.7,828.8 246.5,829.5 247.7,830.2 248.3,830.9 246.4,831.7 246.7,832.4 248.4,833.0 248.3,833.8 248.2,834.5 249.0,835.2 246.1,836.1 248.9,836.6 246.4,837.5 248.1,838.1 249.2,838.8 248.0,839.6 248.8,840.2 248.6,841.0 249.2,841.7 246.6,842.5 247.8,843.2 248.6,843.9 247.4,844.7 248.3,845.4 246.9,846.2 247.8,846.9 249.7,847.4 247.2,848.4 247.8,849.1 247.5,849.8 249.1,850.4 250.1,850.9 248.0,851.9 246.3,852.8 250.2,853.1 247.7,854.1 248.9,854.6 250.5,855.2 248.6,856.1 249.3,856.7 250.2,857.3 249.3,858.1 250.8,858.7 249.3,859.6 250.7,860.1 250.7,860.8 249.1,861.7 248.9,862.4 246.6,863.4 248.3,863.9 249.6,864.5 250.4,865.1 249.9,865.9 250.2,866.6 249.9,867.3 251.0,867.9 251.9,868.5 248.0,869.8 252.0,869.9 248.4,871.2 250.2,871.7 250.3,872.4 249.5,873.2 252.2,873.5 251.7,874.3 252.7,874.9 250.7,875.9 247.8,877.0 251.6,877.2 250.2,878.1 250.5,878.8 250.9,879.4 251.6,880.0 249.0,881.1 251.3,881.5 252.3,882.1 253.7,882.6 249.7,883.9 250.3,884.5 251.2,885.1 252.1,885.7 248.8,886.9 251.9,887.1 253.1,887.7 251.0,888.7 252.7,889.2 252.2,890.0 253.0,890.6 252.7,891.4 254.9,891.7 254.2,892.6 254.1,893.3 249.4,894.9 254.0,894.8 252.8,895.7 251.9,896.6 253.5,897.0 255.3,897.4 255.9,898.0 250.4,899.7 251.0,900.3 253.0,900.7 249.3,902.0 255.1,901.7 253.8,902.6 251.9,903.7 256.1,903.6 253.6,904.8 253.9,905.5 255.2,905.9 254.2,906.8 253.7,907.7 253.6,908.4 257.8,908.3 257.9,909.1 253.5,910.7 255.8,911.0 256.5,911.6 254.4,912.8 255.5,913.3 258.7,913.4 256.7,914.5 256.2,915.4 254.2,916.6 254.4,917.3 255.8,917.7 257.9,918.0 259.9,918.3 255.6,920.0 257.1,920.4 260.4,920.4 257.5,921.8 258.8,922.2 257.7,923.2 260.3,923.4 257.4,924.7 255.6,925.8 255.7,926.4 259.5,926.4 253.4,928.2 255.6,928.5 258.9,928.6 260.2,929.1 262.2,929.4 258.9,930.8 260.8,931.1 260.0,932.0 261.8,932.3 262.4,932.9 260.3,934.0 263.1,934.2 261.9,935.2 258.7,936.5 257.4,937.4 260.0,937.7 262.7,937.9 261.5,938.8 261.4,939.5 261.6,940.2 259.4,941.3 261.7,941.6 260.3,942.6 264.6,942.5 259.6,944.2 264.6,944.0 264.8,944.6 264.2,945.4 261.3,946.7 261.7,947.3 265.5,947.3 258.8,949.3 262.5,949.3 262.9,950.0 259.2,951.4 266.2,950.8 266.3,951.5 262.1,953.0 266.6,952.8 261.2,954.6 263.2,954.9 262.3,955.8 265.2,956.0 266.8,956.4 263.2,957.8 266.9,957.8 266.1,958.7 265.6,959.5 267.9,959.8 265.9,961.0 262.4,962.8 267.8,962.1 267.7,962.9 266.9,963.9 265.8,964.9 266.7,965.4 268.8,965.6 268.1,966.5 267.5,967.4 270.4,967.3 270.6,968.0 269.1,969.2 268.7,970.0 269.4,970.6 270.0,971.1 270.0,971.9 269.6,972.7 269.6,973.5 270.5,974.0 269.6,975.0 270.0,975.7 270.6,976.4 272.4,976.6 270.8,978.2 271.9,978.6 271.8,979.6 271.6,980.5 275.0,979.7 273.9,981.0 273.7,982.0 276.1,981.6 273.4,983.8 275.0,983.8 273.8,985.2 276.3,984.8 277.2,985.1 276.4,986.4 276.1,987.3 277.6,987.4 277.3,988.4 277.9,988.9 278.4,989.5 280.3,989.4 279.5,990.6 281.0,990.6 280.8,991.6 281.7,991.9 280.2,993.5 281.9,993.5 281.1,994.7 282.2,994.9 282.0,995.9 282.0,996.7 283.0,997.0 284.0,997.3 283.3,998.4 284.4,998.6 284.5,999.4 285.0,999.9 285.7,1000.4 285.6,1001.2 285.4,1002.0 286.4,1002.4 286.6,1003.0 286.5,1003.9 286.9,1004.4 287.2,1005.1 287.5,1005.7 288.0,1006.3 288.2,1007.0 288.5,1007.6 288.8,1008.3 289.1,1008.9 289.4,1009.6 289.7,1010.3 290.1,1010.9 290.4,1011.6 290.7,1012.3 291.1,1013.0 291.5,1013.5 292.6,1013.9 293.5,1013.1 293.7,1012.5 293.8,1011.7 293.8,1010.9 293.9,1010.2 293.9,1009.5 294.0,1008.8 294.1,1008.0 294.1,1007.3 294.2,1006.6 294.2,1005.9 294.3,1005.2 294.3,1004.4 294.4,1003.7 294.5,1003.0 294.5,1002.3 294.6,1001.6 294.6,1000.9 294.7,1000.1 294.7,999.4 294.8,998.7 294.9,998.0 294.9,997.3 295.0,996.5 295.0,995.8 295.1,995.1 295.2,994.4 295.2,993.7 295.3,993.0 295.3,992.2 295.4,991.5 295.4,990.8 295.5,990.1 295.6,989.4 295.7,988.6 295.7,987.9 295.8,987.2 295.9,986.4 296.0,985.7 296.1,985.0 296.2,984.2 296.2,983.5 296.3,982.8 296.4,982.0 296.5,981.3 296.6,980.6 296.6,979.8 296.7,979.2 296.8,978.9 296.3,979.3 295.6,979.1 295.7,979.3 295.9,979.9 296.2,980.5 296.5,981.2 296.9,981.8 297.2,982.5 297.5,983.1 297.8,983.7 298.1,984.4 298.4,985.0 298.7,985.7 298.9,986.3 299.2,987.0 299.5,987.7 299.8,988.3 300.1,989.0 300.3,989.7 300.6,990.3 300.9,991.0 301.2,991.7 301.5,992.4 301.7,993.0 302.0,993.7 302.3,994.4 302.6,995.0 302.9,995.7 303.1,996.4 303.4,997.0 303.7,997.7 303.9,998.4 304.2,999.0 304.4,999.7 304.7,1000.4 304.9,1001.1 305.2,1001.7 305.4,1002.4 305.7,1003.1 305.9,1003.8 306.1,1004.5 306.4,1005.2 306.6,1005.8 306.9,1006.5 307.1,1007.2 307.4,1007.9 307.6,1008.6 307.9,1009.3 308.1,1009.9 308.3,1010.6 308.6,1011.3 308.8,1012.0 309.1,1012.7 309.3,1013.4 309.6,1014.1 309.9,1014.7 310.1,1015.4 310.4,1016.1 310.7,1016.8 311.0,1017.4 311.3,1018.1 311.5,1018.8 311.8,1019.4 312.1,1020.1 312.4,1020.8 312.7,1021.5 312.9,1022.1 313.2,1022.8 313.5,1023.5 313.8,1024.1 314.1,1024.8 314.3,1025.5 314.7,1026.2 315.0,1026.9 315.5,1027.6 316.1,1028.2 316.7,1028.7 317.3,1029.1 318.0,1029.6 318.6,1030.0 319.2,1030.4 319.8,1030.8 320.5,1031.2 321.1,1031.7 321.9,1032.0 322.8,1032.2 323.6,1032.2 324.4,1032.0 325.2,1031.7 326.0,1031.4 326.7,1031.1 327.5,1030.8 328.2,1030.4 328.8,1029.8 329.3,1029.1 329.6,1028.4 329.8,1027.6 330.0,1026.9 330.1,1026.2 330.3,1025.5 330.4,1024.8 330.6,1024.1 330.7,1023.4 330.9,1022.8 331.0,1022.1 331.1,1021.4 331.3,1020.7 331.4,1020.0 331.6,1019.3 331.7,1018.6 331.9,1018.0 332.0,1017.3 332.2,1016.6 332.3,1015.9 332.5,1015.2 332.6,1014.6 332.8,1013.9 333.0,1013.2 333.1,1012.5 333.3,1011.8 333.5,1011.2 333.6,1010.5 333.8,1009.8 334.0,1009.1 334.1,1008.4 334.3,1007.8 334.5,1007.1 334.6,1006.6 334.8,1006.2 335.0,1006.0 335.2,1005.8 335.7,1005.7 336.3,1005.6 336.9,1005.6 337.4,1005.7 337.9,1005.8 338.3,1006.0 338.7,1006.3 339.1,1006.8 339.5,1007.4 340.0,1007.9 340.4,1008.5 340.9,1009.0 341.4,1009.6 341.9,1010.1 342.3,1010.7 342.8,1011.2 343.3,1011.8 343.7,1012.3 344.2,1012.9 344.7,1013.4 345.1,1014.0 345.6,1014.5 346.1,1015.1 346.5,1015.6 347.0,1016.2 347.5,1016.8 347.9,1017.3 348.4,1017.9 348.8,1018.4 349.3,1019.0 349.8,1019.5 350.2,1020.1 350.7,1020.6 351.1,1021.2 351.6,1021.7 352.1,1022.3 352.5,1022.9 353.0,1023.4 353.4,1024.0 353.9,1024.5 354.4,1025.1 354.8,1025.6 355.3,1026.2 355.7,1026.7 356.2,1027.3 356.7,1027.8 357.1,1028.3 357.6,1028.9 358.0,1029.4 358.5,1030.0 358.9,1030.5 359.4,1031.0 359.8,1031.6 360.3,1032.1 360.8,1032.7 361.2,1033.2 361.7,1033.7 362.1,1034.3 362.6,1034.8 363.2,1035.4 363.7,1035.9 364.3,1036.3 364.8,1036.8 365.4,1037.2 366.0,1037.7 366.5,1038.1 367.1,1038.5 367.6,1039.0 368.2,1039.4 368.7,1039.8 369.3,1040.3 369.8,1040.7 370.4,1041.1 371.0,1041.6 371.6,1042.0 372.2,1042.4 372.8,1042.8 373.5,1043.2 374.1,1043.6 374.7,1044.0 375.4,1044.4 376.0,1044.8 376.6,1045.2 377.2,1045.6 377.9,1046.0 378.5,1046.4 379.1,1046.8 379.8,1047.2 380.4,1047.5 381.1,1047.9 381.7,1048.3 382.3,1048.7 383.0,1049.1 383.6,1049.5 384.2,1049.9 384.9,1050.3 385.5,1050.7 386.2,1051.1 386.8,1051.5 387.5,1051.9 388.2,1052.2 388.9,1052.5 389.6,1052.8 390.3,1053.0 391.0,1053.3 391.7,1053.5 392.4,1053.7 393.1,1054.0 393.8,1054.2 394.5,1054.5 395.2,1054.7 396.0,1054.9 396.8,1055.0 397.6,1055.1 398.3,1055.2 399.1,1055.2 399.9,1055.2 400.6,1055.2 401.4,1055.2 402.1,1055.2 402.9,1055.2 403.6,1055.2 404.4,1055.2 405.1,1055.2 405.8,1055.2 406.6,1055.2 407.3,1055.2 408.0,1055.2 408.8,1055.2 409.5,1055.2 410.2,1055.2 411.0,1055.2 411.7,1055.2 412.4,1055.2 413.2,1055.2 413.9,1055.2 414.6,1055.2 415.4,1055.2 416.1,1055.2 416.8,1055.2 417.6,1055.2 418.3,1055.2 419.0,1055.2 419.8,1055.2 420.5,1055.2 421.2,1055.2 422.0,1055.2 422.7,1055.2 423.4,1055.2 424.2,1055.2 424.9,1055.2 425.6,1055.2 426.3,1055.2 427.0,1055.3 427.7,1055.3 428.4,1055.4 429.0,1055.5 429.7,1055.6 430.4,1055.7 431.1,1055.8 431.8,1055.9 432.5,1056.1 433.2,1056.2 433.9,1056.3 434.2,1056.3 435.2,1056.5 435.6,1054.5 434.5,1054.3 434.2,1054.3 433.5,1054.2 432.8,1054.1 432.1,1054.0 431.4,1053.9 430.7,1053.8 430.0,1053.6 429.3,1053.5 428.6,1053.4 427.9,1053.3 427.2,1053.3 426.4,1053.2 425.7,1053.2 424.9,1053.2 424.2,1053.2 423.4,1053.2 422.7,1053.2 422.0,1053.2 421.2,1053.2 420.5,1053.2 419.8,1053.2 419.0,1053.2 418.3,1053.2 417.6,1053.2 416.8,1053.2 416.1,1053.2 415.4,1053.2 414.6,1053.2 413.9,1053.2 413.2,1053.2 412.4,1053.2 411.7,1053.2 411.0,1053.2 410.2,1053.2 409.5,1053.2 408.8,1053.2 408.0,1053.2 407.3,1053.2 406.6,1053.2 405.8,1053.2 405.1,1053.2 404.4,1053.2 403.6,1053.2 402.9,1053.2 402.1,1053.2 401.4,1053.2 400.6,1053.2 399.9,1053.2 399.2,1053.2 398.4,1053.2 397.8,1053.2 397.1,1053.1 396.4,1052.9 395.8,1052.8 395.1,1052.5 394.5,1052.3 393.8,1052.1 393.1,1051.9 392.4,1051.6 391.7,1051.4 391.0,1051.2 390.3,1050.9 389.7,1050.7 389.1,1050.4 388.4,1050.1 387.8,1049.7 387.2,1049.4 386.6,1049.0 385.9,1048.6 385.3,1048.2 384.7,1047.8 384.0,1047.4 383.4,1047.0 382.7,1046.6 382.1,1046.2 381.5,1045.8 380.8,1045.4 380.2,1045.1 379.6,1044.7 378.9,1044.3 378.3,1043.9 377.7,1043.5 377.0,1043.1 376.4,1042.7 375.8,1042.3 375.2,1041.9 374.5,1041.5 373.9,1041.1 373.3,1040.8 372.7,1040.4 372.2,1040.0 371.6,1039.5 371.1,1039.1 370.5,1038.7 369.9,1038.2 369.4,1037.8 368.8,1037.4 368.3,1036.9 367.7,1036.5 367.2,1036.1 366.6,1035.6 366.1,1035.2 365.5,1034.8 365.0,1034.4 364.6,1033.9 364.1,1033.4 363.6,1033.0 363.2,1032.4 362.7,1031.9 362.3,1031.4 361.8,1030.8 361.4,1030.3 360.9,1029.7 360.5,1029.2 360.0,1028.7 359.6,1028.1 359.1,1027.6 358.6,1027.0 358.2,1026.5 357.7,1026.0 357.3,1025.4 356.8,1024.9 356.4,1024.3 355.9,1023.8 355.4,1023.2 355.0,1022.7 354.5,1022.1 354.1,1021.6 353.6,1021.0 353.1,1020.5 352.7,1019.9 352.2,1019.4 351.8,1018.8 351.3,1018.3 350.8,1017.7 350.4,1017.1 349.9,1016.6 349.5,1016.0 349.0,1015.5 348.5,1014.9 348.1,1014.4 347.6,1013.8 347.1,1013.2 346.7,1012.7 346.2,1012.1 345.7,1011.6 345.3,1011.0 344.8,1010.5 344.3,1009.9 343.8,1009.4 343.4,1008.8 342.9,1008.3 342.4,1007.7 342.0,1007.2 341.5,1006.6 341.0,1006.1 340.5,1005.5 340.0,1004.9 339.4,1004.3 338.6,1003.9 337.8,1003.7 337.0,1003.6 336.1,1003.7 335.2,1003.7 334.5,1004.0 333.7,1004.4 333.1,1005.0 332.7,1005.8 332.5,1006.6 332.4,1007.3 332.2,1008.0 332.0,1008.6 331.9,1009.3 331.7,1010.0 331.5,1010.7 331.4,1011.4 331.2,1012.0 331.0,1012.7 330.9,1013.4 330.7,1014.1 330.5,1014.8 330.4,1015.5 330.2,1016.2 330.1,1016.8 329.9,1017.5 329.8,1018.2 329.6,1018.9 329.5,1019.6 329.3,1020.3 329.2,1021.0 329.0,1021.6 328.9,1022.3 328.8,1023.0 328.6,1023.7 328.5,1024.4 328.3,1025.1 328.2,1025.8 328.0,1026.4 327.9,1027.1 327.8,1027.7 327.6,1028.1 327.3,1028.5 327.0,1028.8 326.5,1029.1 325.9,1029.3 325.2,1029.6 324.6,1029.8 324.0,1030.1 323.4,1030.2 323.0,1030.2 322.5,1030.1 322.0,1029.9 321.5,1029.5 320.9,1029.1 320.3,1028.7 319.7,1028.3 319.1,1027.9 318.5,1027.5 317.9,1027.1 317.5,1026.7 317.1,1026.3 316.7,1025.8 316.4,1025.3 316.2,1024.7 315.9,1024.0 315.6,1023.4 315.3,1022.7 315.1,1022.0 314.8,1021.4 314.5,1020.7 314.2,1020.0 313.9,1019.3 313.7,1018.7 313.4,1018.0 313.1,1017.3 312.8,1016.7 312.5,1016.0 312.3,1015.3 312.0,1014.7 311.7,1014.0 311.5,1013.3 311.2,1012.7 311.0,1012.0 310.7,1011.3 310.5,1010.6 310.2,1010.0 310.0,1009.3 309.7,1008.6 309.5,1007.9 309.3,1007.2 309.0,1006.5 308.8,1005.9 308.5,1005.2 308.3,1004.5 308.0,1003.8 307.8,1003.1 307.5,1002.4 307.3,1001.8 307.1,1001.1 306.8,1000.4 306.6,999.7 306.3,999.0 306.1,998.3 305.8,997.6 305.5,997.0 305.3,996.3 305.0,995.6 304.7,994.9 304.4,994.3 304.1,993.6 303.9,992.9 303.6,992.3 303.3,991.6 303.0,990.9 302.7,990.2 302.5,989.6 302.2,988.9 301.9,988.2 301.6,987.6 301.3,986.9 301.1,986.2 300.8,985.5 300.5,984.9 300.2,984.2 299.9,983.5 299.6,982.9 299.3,982.2 299.0,981.6 298.7,980.9 298.3,980.3 298.0,979.6 297.7,979.0 297.4,978.3 296.9,977.7 295.8,977.4 295.0,978.1 294.8,978.8 294.7,979.6 294.6,980.3 294.5,981.1 294.4,981.8 294.3,982.5 294.2,983.3 294.2,984.0 294.1,984.7 294.0,985.5 293.9,986.2 293.8,986.9 293.8,987.7 293.7,988.4 293.6,989.2 293.5,989.9 293.5,990.6 293.4,991.4 293.3,992.1 293.3,992.8 293.2,993.5 293.2,994.2 293.1,994.9 293.0,995.7 293.0,996.4 292.9,997.1 292.9,997.8 292.8,998.5 292.8,999.3 292.7,1000.0 292.6,1000.7 292.6,1001.4 292.5,1002.1 292.5,1002.8 292.4,1003.6 292.4,1004.3 292.3,1005.0 292.2,1005.7 292.2,1006.4 292.1,1007.2 292.1,1007.9 292.0,1008.6 291.9,1009.3 291.9,1010.0 291.8,1010.7 291.8,1011.4 291.7,1012.1 291.7,1012.3 292.2,1011.9 292.9,1012.1 292.8,1011.9 292.5,1011.3 292.2,1010.7 291.9,1010.0 291.5,1009.4 291.3,1008.8 291.0,1008.1 290.7,1007.5 290.5,1006.8 290.3,1006.1 290.1,1005.5 289.8,1004.8 289.6,1004.1 289.4,1003.5 289.3,1002.7 288.6,1002.3 288.9,1001.4 288.0,1001.0 288.7,999.9 288.0,999.4 288.7,998.4 288.5,997.7 287.4,997.3 288.5,996.0 286.8,995.9 287.2,994.9 286.5,994.4 287.3,993.2 286.2,993.0 284.4,993.0 285.1,991.8 285.2,991.0 284.3,990.6 283.5,990.2 283.7,989.3 284.1,988.3 284.0,987.5 282.2,987.6 282.6,986.6 283.8,985.2 283.1,984.6 281.2,984.8 281.9,983.6 282.0,982.8 279.8,983.0 280.8,981.7 282.8,979.9 280.0,980.5 279.3,980.0 278.3,979.7 278.0,979.0 280.6,976.9 279.4,976.7 280.4,975.4 276.8,976.3 279.0,974.6 277.8,974.5 278.6,973.6 278.3,973.1 275.7,973.2 276.9,972.1 277.7,971.2 275.2,971.1 276.2,970.1 275.3,969.6 276.1,968.7 276.9,967.7 274.3,967.7 275.2,966.7 276.3,965.6 276.0,965.0 274.8,964.6 273.9,964.1 275.2,963.0 275.2,962.3 273.2,962.1 273.6,961.2 274.8,960.2 274.5,959.6 277.2,958.3 274.4,958.4 274.3,957.7 274.3,957.1 271.7,956.9 273.3,955.8 276.9,954.4 271.4,954.8 271.6,954.0 271.5,953.3 271.0,952.7 272.8,951.7 271.3,951.2 274.9,949.8 271.0,949.9 270.8,949.2 273.1,948.0 272.8,947.4 272.1,946.8 269.9,946.5 270.3,945.7 270.7,944.9 270.6,944.2 272.9,943.1 270.3,942.9 269.1,942.4 271.6,941.2 269.2,940.9 268.8,940.3 269.3,939.5 271.3,938.4 268.7,938.2 272.3,936.8 272.1,936.1 270.2,935.8 268.8,935.3 269.3,934.5 268.2,934.0 270.2,932.9 272.0,931.9 267.2,932.1 269.1,931.0 268.5,930.4 268.5,929.7 267.1,929.2 271.7,927.7 271.4,927.0 266.3,927.2 267.5,926.3 268.4,925.4 266.2,925.1 267.7,924.1 269.7,922.9 265.5,923.0 269.9,921.4 265.3,921.6 270.0,919.8 268.5,919.4 265.7,919.3 269.5,917.7 266.7,917.6 264.3,917.3 266.1,916.2 266.4,915.4 265.5,914.9 268.7,913.4 263.7,913.8 263.5,913.1 265.8,911.8 264.0,911.5 270.6,909.3 264.0,910.0 262.6,909.5 266.7,908.0 262.3,908.2 265.7,906.8 264.9,906.3 268.8,904.8 264.3,905.0 264.3,904.3 264.9,903.4 263.7,903.0 262.9,902.4 261.8,901.9 267.0,900.2 260.9,900.6 263.1,899.5 264.6,898.5 266.6,897.4 261.1,897.7 260.5,897.1 263.5,895.9 262.2,895.4 266.9,893.8 260.2,894.3 262.6,893.2 261.3,892.7 263.0,891.7 263.5,890.9 261.0,890.7 261.6,889.9 260.7,889.3 262.8,888.3 258.7,888.3 260.9,887.2 263.8,886.1 259.4,886.0 261.4,885.0 260.3,884.4 259.6,883.8 260.1,883.0 261.5,882.1 262.6,881.2 258.8,881.1 262.2,879.9 259.8,879.5 258.8,878.9 257.0,878.5 258.7,877.5 256.5,877.1 259.9,875.9 260.9,875.0 256.2,875.0 257.9,874.1 259.8,873.1 258.7,872.5 258.0,871.9 258.8,871.1 257.3,870.6 257.5,869.8 255.6,869.4 257.1,868.5 256.0,867.9 254.9,867.4 254.8,866.7 258.2,865.6 256.5,865.1 257.4,864.3 254.4,863.9 255.9,863.0 254.2,862.5 256.3,861.6 254.6,861.1 254.4,860.4 254.6,859.6 255.9,858.8 256.0,858.0 253.8,857.6 253.4,856.9 255.0,856.0 254.9,855.3 253.1,854.8 255.7,853.8 253.2,853.4 252.8,852.7 256.1,851.6 255.2,851.0 255.1,850.3 255.7,849.6 254.9,848.9 254.6,848.3 253.4,847.7 254.5,846.9 252.7,846.4 254.0,845.6 253.2,845.0 252.8,844.3 252.5,843.6 252.9,842.9 252.4,842.2 251.5,841.5 252.7,840.7 253.2,840.0 252.8,839.3 253.4,838.5 251.9,837.9 251.2,837.2 252.8,836.4 251.7,835.7 251.5,835.0 252.0,834.3 252.2,833.5 251.8,832.8 252.1,832.1 251.9,831.4 250.8,830.7 251.2,830.0 251.4,829.3 250.9,828.6 251.5,827.8 253.1,827.0 250.5,826.4 252.3,825.6 252.2,824.9 252.3,824.2 251.8,823.5 250.3,822.9 250.8,822.1 251.5,821.4 250.5,820.7 250.3,820.0 251.1,819.3 251.6,818.6 251.0,817.9 251.5,817.2 250.5,816.5 253.0,815.7 250.2,815.1 249.9,814.4 251.2,813.7 251.4,813.0 251.7,812.3 251.4,811.6 251.3,810.9 250.4,810.2 249.8,809.5 250.6,808.8 250.4,808.1 251.8,807.3 250.3,806.7 251.1,805.9 250.4,805.3 249.5,804.6 249.8,803.9 251.3,803.1 250.2,802.5 249.4,801.8 249.9,801.1 249.7,800.4 250.7,799.6 250.7,799.0 250.6,798.3 249.3,797.6 251.6,796.9 250.3,796.2 249.2,795.5 250.2,794.8 250.2,794.1 250.1,793.4 250.8,792.7 249.6,792.0 249.6,791.3 249.8,790.5 250.2,789.8 249.7,789.1 250.0,788.4 250.3,787.7 249.9,787.0 249.2,786.3 249.8,785.6 250.6,784.9 249.4,784.2 250.3,783.5 249.6,782.8 251.0,782.1 249.4,781.4 249.4,781.1 250.3,780.0"/>
<polygon points="248.4,815.1 250.2,815.1 250.2,843.9 252.0,843.9 252.0,858.7 253.8,858.7 253.8,866.4 255.6,866.4 255.6,881.3 257.4,881.3 257.4,891.8 259.2,891.8 259.2,898.8 261.0,898.8 261.0,907.4 262.8,907.4 262.8,913.9 264.6,913.9 264.6,928.5 266.4,928.5 266.4,938.3 268.2,938.3 268.2,945.3 270.0,945.3 270.0,955.5 271.8,955.5 271.8,959.6 273.6,959.6 273.6,961.8 275.4,961.8 275.4,967.6 277.2,967.6 277.2,975.0 279.0,975.0 279.0,978.2 280.8,978.2 280.8,982.5 282.6,982.5 282.6,982.4 284.4,982.4 284.4,985.1 286.2,985.1 286.2,989.8 288.0,989.8 288.0,991.0 289.8,991.0 289.8,1002.4 291.6,1002.4 291.6,1005.2 293.4,1005.2 293.4,978.6 295.2,978.6 295.2,967.2 297.0,967.2 297.0,974.4 298.8,974.4 298.8,976.2 300.6,976.2 300.6,981.9 302.4,981.9 302.4,984.5 304.2,984.5 304.2,988.7 306.0,988.7 306.0,994.3 307.8,994.3 307.8,996.6 309.6,996.6 309.6,1002.1 311.4,1002.1 311.4,1007.2 313.2,1007.2 313.2,1012.9 315.0,1012.9 315.0,1017.4 316.8,1017.4 316.8,1019.7 318.6,1019.7 318.6,1020.1 320.4,1020.1 320.4,1022.2 322.2,1022.2 322.2,1018.7 324.0,1018.7 324.0,1019.5 325.8,1019.5 325.8,1022.4 327.6,1022.4 327.6,1017.1 329.4,1017.1 329.4,1011.4 331.2,1011.4 331.2,1004.1 333.0,1004.1 333.0,993.7 334.8,993.7 334.8,994.9 336.6,994.9 336.6,997.5 338.4,997.5 338.4,992.5 340.2,992.5 340.2,998.3 342.0,998.3 342.0,1002.6 343.8,1002.6 343.8,1003.4 345.6,1003.4 345.6,1006.9 347.4,1006.9 347.4,1006.8 349.2,1006.8 349.2,1010.8 351.0,1010.8 351.0,1008.4 352.8,1008.4 352.8,1012.1 354.6,1012.1 354.6,1013.8 356.4,1013.8 356.4,1018.7 358.2,1018.7 358.2,1015.2 360.0,1015.2 360.0,1021.5 361.8,1021.5 361.8,1025.9 363.6,1025.9 363.6,1023.1 365.4,1023.1 365.4,1026.7 367.2,1026.7 367.2,1023.0 369.0,1023.0 369.0,1029.9 370.8,1029.9 370.8,1032.2 372.6,1032.2 372.6,1034.4 374.4,1034.4 374.4,1035.3 376.2,1035.3 376.2,1036.5 378.0,1036.5 378.0,1037.6 379.8,1037.6 379.8,1036.7 381.6,1036.7 381.6,1038.8 383.4,1038.8 383.4,1038.5 385.2,1038.5 385.2,1040.4 387.0,1040.4 387.0,1042.6 388.8,1042.6 388.8,1038.3 390.6,1038.3 390.6,1044.0 392.4,1044.0 392.4,1045.8 394.2,1045.8 394.2,1044.1 396.0,1044.1 396.0,1043.4 397.8,1043.4 397.8,1044.0 399.6,1044.0 399.6,1043.4 401.4,1043.4 401.4,1046.6 403.2,1046.6 403.2,1039.6 405.0,1039.6 405.0,1040.5 406.8,1040.5 406.8,1046.8 408.6,1046.8 408.6,1044.5 410.4,1044.5 410.4,1044.7 412.2,1044.7 412.2,1044.6 414.0,1044.6 414.0,1043.5 415.8,1043.5 415.8,1043.6 417.6,1043.6 417.6,1044.5 419.4,1044.5 419.4,1044.2 421.2,1044.2 421.2,1044.7 423.0,1044.7 423.0,1046.0 424.8,1046.0 424.8,1044.1 426.6,1044.1 426.6,1044.9 428.4,1044.9 428.4,1045.3 430.2,1045.3 430.2,1046.4 432.0,1046.4 432.0,1045.2 433.8,1045.2 433.8,1065.4 432.0,1065.4 432.0,1065.0 430.2,1065.0 430.2,1066.3 428.4,1066.3 428.4,1062.3 426.6,1062.3 426.6,1061.7 424.8,1061.7 424.8,1065.4 423.0,1065.4 423.0,1066.7 421.2,1066.7 421.2,1067.7 419.4,1067.7 419.4,1061.8 417.6,1061.8 417.6,1064.6 415.8,1064.6 415.8,1066.5 414.0,1066.5 414.0,1063.4 412.2,1063.4 412.2,1064.1 410.4,1064.1 410.4,1066.8 408.6,1066.8 408.6,1068.4 406.8,1068.4 406.8,1061.6 405.0,1061.6 405.0,1065.2 403.2,1065.2 403.2,1061.6 401.4,1061.6 401.4,1065.0 399.6,1065.0 399.6,1062.3 397.8,1062.3 397.8,1062.8 396.0,1062.8 396.0,1063.5 394.2,1063.5 394.2,1061.9 392.4,1061.9 392.4,1062.9 390.6,1062.9 390.6,1060.4 388.8,1060.4 388.8,1059.0 387.0,1059.0 387.0,1061.4 385.2,1061.4 385.2,1060.4 383.4,1060.4 383.4,1057.3 381.6,1057.3 381.6,1054.5 379.8,1054.5 379.8,1053.2 378.0,1053.2 378.0,1062.9 376.2,1062.9 376.2,1056.4 374.4,1056.4 374.4,1055.3 372.6,1055.3 372.6,1049.7 370.8,1049.7 370.8,1048.1 369.0,1048.1 369.0,1048.6 367.2,1048.6 367.2,1044.6 365.4,1044.6 365.4,1048.5 363.6,1048.5 363.6,1041.7 361.8,1041.7 361.8,1041.0 360.0,1041.0 360.0,1038.8 358.2,1038.8 358.2,1035.0 356.4,1035.0 356.4,1034.1 354.6,1034.1 354.6,1031.8 352.8,1031.8 352.8,1028.7 351.0,1028.7 351.0,1037.7 349.2,1037.7 349.2,1024.6 347.4,1024.6 347.4,1027.7 345.6,1027.7 345.6,1020.2 343.8,1020.2 343.8,1022.1 342.0,1022.1 342.0,1016.8 340.2,1016.8 340.2,1012.7 338.4,1012.7 338.4,1011.8 336.6,1011.8 336.6,1012.0 334.8,1012.0 334.8,1012.7 333.0,1012.7 333.0,1024.4 331.2,1024.4 331.2,1035.0 329.4,1035.0 329.4,1038.8 327.6,1038.8 327.6,1038.5 325.8,1038.5 325.8,1041.5 324.0,1041.5 324.0,1041.6 322.2,1041.6 322.2,1042.9 320.4,1042.9 320.4,1037.6 318.6,1037.6 318.6,1039.6 316.8,1039.6 316.8,1035.6 315.0,1035.6 315.0,1036.7 313.2,1036.7 313.2,1028.6 311.4,1028.6 311.4,1021.5 309.6,1021.5 309.6,1017.3 307.8,1017.3 307.8,1011.9 306.0,1011.9 306.0,1008.7 304.2,1008.7 304.2,1001.4 302.4,1001.4 302.4,997.3 300.6,997.3 300.6,994.6 298.8,994.6 298.8,996.3 297.0,996.3 297.0,988.9 295.2,988.9 295.2,1001.6 293.4,1001.6 293.4,1021.1 291.6,1021.1 291.6,1017.2 289.8,1017.2 289.8,1017.1 288.0,1017.1 288.0,1012.3 286.2,1012.3 286.2,1006.1 284.4,1006.1 284.4,1002.4 282.6,1002.4 282.6,999.2 280.8,999.2 280.8,997.7 279.0,997.7 279.0,990.0 277.2,990.0 277.2,987.6 275.4,987.6 275.4,983.0 273.6,983.0 273.6,978.5 271.8,978.5 271.8,973.5 270.0,973.5 270.0,964.1 268.2,964.1 268.2,954.2 266.4,954.2 266.4,941.5 264.6,941.5 264.6,935.5 262.8,935.5 262.8,922.7 261.0,922.7 261.0,916.3 259.2,916.3 259.2,909.9 257.4,909.9 257.4,894.3 255.6,894.3 255.6,884.3 253.8,884.3 253.8,870.6 252.0,870.6 252.0,854.8 250.2,854.8 250.2,826.6 248.4,826.6"/>
</g></defs>
</g>
<clipPath id="h7"><rect x="215.0" y="792.8" width="231.1" height="322.6"/></clipPath>
<use href="#band7" fill="#fff" stroke="#fff" stroke-width="3.2" stroke-linejoin="round" clip-path="url(#h7)"/>
<g clip-path="url(#c7)">
<use href="#band7" fill="#02968f"/>
<rect x="246.9" y="796.2" width="3.2" height="3.2" rx="1.3" fill="#03302e" opacity="0.75"/>
<circle cx="263.6" cy="896.3" r="1.6" fill="#02968f"/>
<circle cx="267.0" cy="858.6" r="1.6" fill="#04706b"/>
<circle cx="270.5" cy="829.9" r="1.6" fill="#02968f"/>
<circle cx="274.2" cy="847.0" r="1.6" fill="#02968f"/>
<circle cx="277.5" cy="859.0" r="1.6" fill="#04706b"/>
<circle cx="281.2" cy="836.9" r="1.6" fill="#02968f"/>
<circle cx="284.5" cy="832.6" r="1.6" fill="#02968f"/>
<circle cx="288.0" cy="821.2" r="1.6" fill="#02968f"/>
<circle cx="291.7" cy="841.5" r="1.6" fill="#02968f"/>
<circle cx="295.1" cy="907.8" r="1.6" fill="#02968f"/>
<circle cx="298.7" cy="832.1" r="1.6" fill="#02968f"/>
<circle cx="302.2" cy="842.6" r="1.6" fill="#02968f"/>
<circle cx="305.5" cy="831.5" r="1.6" fill="#02968f"/>
<circle cx="309.2" cy="840.9" r="1.6" fill="#02968f"/>
<circle cx="312.7" cy="825.4" r="1.6" fill="#02968f"/>
<circle cx="316.4" cy="822.7" r="1.6" fill="#02968f"/>
<circle cx="319.7" cy="824.3" r="1.6" fill="#02968f"/>
<circle cx="323.2" cy="823.4" r="1.6" fill="#02968f"/>
<circle cx="326.9" cy="821.6" r="1.6" fill="#02968f"/>
<circle cx="330.2" cy="819.9" r="1.6" fill="#02968f"/>
<circle cx="333.9" cy="844.2" r="1.6" fill="#02968f"/>
<circle cx="337.2" cy="853.6" r="1.6" fill="#02968f"/>
<circle cx="340.5" cy="853.1" r="1.6" fill="#02968f"/>
<circle cx="344.4" cy="816.2" r="1.6" fill="#02968f"/>
<circle cx="347.7" cy="832.6" r="1.6" fill="#02968f"/>
<circle cx="351.6" cy="834.3" r="1.6" fill="#02968f"/>
<circle cx="354.9" cy="827.6" r="1.6" fill="#02968f"/>
<circle cx="358.4" cy="831.0" r="1.6" fill="#02968f"/>
<circle cx="362.1" cy="838.1" r="1.6" fill="#02968f"/>
<circle cx="365.4" cy="821.7" r="1.6" fill="#02968f"/>
<circle cx="368.9" cy="817.7" r="1.6" fill="#02968f"/>
<circle cx="372.4" cy="821.7" r="1.6" fill="#02968f"/>
<circle cx="375.7" cy="828.9" r="1.6" fill="#02968f"/>
<circle cx="379.4" cy="852.5" r="1.6" fill="#02968f"/>
<circle cx="382.9" cy="824.9" r="1.6" fill="#02968f"/>
<circle cx="386.6" cy="824.3" r="1.6" fill="#02968f"/>
<circle cx="389.9" cy="840.2" r="1.6" fill="#02968f"/>
<circle cx="393.4" cy="830.4" r="1.6" fill="#02968f"/>
<circle cx="397.1" cy="824.3" r="1.6" fill="#02968f"/>
<circle cx="400.8" cy="1100.2" r="1.6" fill="#02968f"/>
<circle cx="404.1" cy="809.4" r="1.6" fill="#02968f"/>
<circle cx="407.4" cy="810.1" r="1.6" fill="#02968f"/>
<circle cx="410.7" cy="810.7" r="1.6" fill="#02968f"/>
<circle cx="414.8" cy="811.2" r="1.6" fill="#02968f"/>
<circle cx="418.1" cy="811.2" r="1.6" fill="#02968f"/>
<circle cx="421.8" cy="812.0" r="1.6" fill="#02968f"/>
<circle cx="425.1" cy="812.3" r="1.6" fill="#02968f"/>
<circle cx="428.4" cy="811.2" r="1.6" fill="#02968f"/>
<circle cx="432.1" cy="814.0" r="1.6" fill="#02968f"/>
<circle cx="435.6" cy="811.2" r="1.6" fill="#02968f"/>
</g>
<rect x="348.1" y="945.6" width="93.2" height="19.4" rx="2" fill="#f0f0f0" fill-opacity="0.85" stroke="#e6e6e6" stroke-width="0.8"/>
<rect x="380.1" y="947.1" width="58" height="16.4" rx="3" fill="#ffffff" opacity="0.85"/>
<circle cx="363.8" cy="955.9" r="4" fill="#ffffff" opacity="0.8"/>
<circle cx="363.8" cy="955.9" r="1.7" fill="#03302e"/>
<text transform="translate(383.1,958.4) scale(1.03,1)" font-size="10.6" text-anchor="start" fill="#111111" font-weight="normal" font-family="'DejaVu Sans', 'Liberation Sans', sans-serif" stroke="#111" stroke-width="0.3">mAP@0.5</text>
<line x1="545.9" y1="1115.4" x2="774.7" y2="1115.4" stroke="#e8e8e8" stroke-width="1.8"/>
<text transform="translate(537.9,1119.2) scale(1.05,1)" font-size="10.5" text-anchor="end" fill="#262626" font-weight="normal" font-family="'DejaVu Sans', 'Liberation Sans', sans-serif" stroke="#262626" stroke-width="0.15">0</text>
<line x1="545.9" y1="1051.4" x2="774.7" y2="1051.4" stroke="#e8e8e8" stroke-width="1.8"/>
<text transform="translate(537.9,1055.2) scale(1.05,1)" font-size="10.5" text-anchor="end" fill="#262626" font-weight="normal" font-family="'DejaVu Sans', 'Liberation Sans', sans-serif" stroke="#262626" stroke-width="0.15">20</text>
<line x1="545.9" y1="987.4" x2="774.7" y2="987.4" stroke="#e8e8e8" stroke-width="1.8"/>
<text transform="translate(537.9,991.2) scale(1.05,1)" font-size="10.5" text-anchor="end" fill="#262626" font-weight="normal" font-family="'DejaVu Sans', 'Liberation Sans', sans-serif" stroke="#262626" stroke-width="0.15">40</text>
<line x1="545.9" y1="923.3" x2="774.7" y2="923.3" stroke="#e8e8e8" stroke-width="1.8"/>
<text transform="translate(537.9,927.1) scale(1.05,1)" font-size="10.5" text-anchor="end" fill="#262626" font-weight="normal" font-family="'DejaVu Sans', 'Liberation Sans', sans-serif" stroke="#262626" stroke-width="0.15">60</text>
<line x1="545.9" y1="859.3" x2="774.7" y2="859.3" stroke="#e8e8e8" stroke-width="1.8"/>
<text transform="translate(537.9,863.1) scale(1.05,1)" font-size="10.5" text-anchor="end" fill="#262626" font-weight="normal" font-family="'DejaVu Sans', 'Liberation Sans', sans-serif" stroke="#262626" stroke-width="0.15">80</text>
<line x1="545.9" y1="795.3" x2="774.7" y2="795.3" stroke="#e8e8e8" stroke-width="1.8"/>
<text transform="translate(537.9,799.1) scale(1.05,1)" font-size="10.5" text-anchor="end" fill="#262626" font-weight="normal" font-family="'DejaVu Sans', 'Liberation Sans', sans-serif" stroke="#262626" stroke-width="0.15">100</text>
<line x1="544.9" y1="795.3" x2="544.9" y2="1115.9" stroke="#eeeeee" stroke-width="1.6"/>
<line x1="776.5" y1="795.3" x2="776.5" y2="1115.9" stroke="#f3f3f3" stroke-width="1.8"/>
<text transform="translate(553.9,1128.8) scale(1.05,1)" font-size="10.5" text-anchor="middle" fill="#262626" font-weight="normal" font-family="'DejaVu Sans', 'Liberation Sans', sans-serif" stroke="#262626" stroke-width="0.15">0</text>
<text transform="translate(589.0,1128.8) scale(1.05,1)" font-size="10.5" text-anchor="middle" fill="#262626" font-weight="normal" font-family="'DejaVu Sans', 'Liberation Sans', sans-serif" stroke="#262626" stroke-width="0.15">1000</text>
<text transform="translate(624.1,1128.8) scale(1.05,1)" font-size="10.5" text-anchor="middle" fill="#262626" font-weight="normal" font-family="'DejaVu Sans', 'Liberation Sans', sans-serif" stroke="#262626" stroke-width="0.15">2000</text>
<text transform="translate(659.2,1128.8) scale(1.05,1)" font-size="10.5" text-anchor="middle" fill="#262626" font-weight="normal" font-family="'DejaVu Sans', 'Liberation Sans', sans-serif" stroke="#262626" stroke-width="0.15">3000</text>
<text transform="translate(694.3,1128.8) scale(1.05,1)" font-size="10.5" text-anchor="middle" fill="#262626" font-weight="normal" font-family="'DejaVu Sans', 'Liberation Sans', sans-serif" stroke="#262626" stroke-width="0.15">4000</text>
<text transform="translate(729.4,1128.8) scale(1.05,1)" font-size="10.5" text-anchor="middle" fill="#262626" font-weight="normal" font-family="'DejaVu Sans', 'Liberation Sans', sans-serif" stroke="#262626" stroke-width="0.15">5000</text>
<text transform="translate(764.5,1128.8) scale(1.05,1)" font-size="10.5" text-anchor="middle" fill="#262626" font-weight="normal" font-family="'DejaVu Sans', 'Liberation Sans', sans-serif" stroke="#262626" stroke-width="0.15">6000</text>
<text transform="translate(660.2,1143.9) scale(1.01,1)" font-size="14.4" text-anchor="middle" fill="#1a1a1a" font-weight="normal" font-family="'DejaVu Sans', 'Liberation Sans', sans-serif" stroke="#1a1a1a" stroke-width="0.15">Iterations</text>
<text transform="translate(659.5,790.2) scale(1.015,1)" font-size="17.0" text-anchor="middle" fill="#111111" font-weight="normal" font-family="'DejaVu Sans', 'Liberation Sans', sans-serif" stroke="#111111" stroke-width="0.15">YOLOv4-CSP-608</text>
<text transform="translate(781.7,855.8) scale(0.9,1)" font-size="9.6" text-anchor="start" fill="#2a2a2a" font-weight="normal" font-family="'DejaVu Sans', 'Liberation Sans', sans-serif" stroke="#2a2a2a" stroke-width="0.3">80</text>
<text transform="translate(781.7,925.2) scale(0.9,1)" font-size="9.6" text-anchor="start" fill="#2a2a2a" font-weight="normal" font-family="'DejaVu Sans', 'Liberation Sans', sans-serif" stroke="#2a2a2a" stroke-width="0.3">75</text>
<text transform="translate(781.7,994.6) scale(0.9,1)" font-size="9.6" text-anchor="start" fill="#2a2a2a" font-weight="normal" font-family="'DejaVu Sans', 'Liberation Sans', sans-serif" stroke="#2a2a2a" stroke-width="0.3">70</text>
<text transform="translate(781.7,1064.0) scale(0.9,1)" font-size="9.6" text-anchor="start" fill="#2a2a2a" font-weight="normal" font-family="'DejaVu Sans', 'Liberation Sans', sans-serif" stroke="#2a2a2a" stroke-width="0.3">65</text>
<text transform="translate(815.8,955.4) rotate(-90) scale(1,1.05)" font-size="14.6" text-anchor="middle" fill="#1a1a1a" font-family="'DejaVu Sans', 'Liberation Sans', sans-serif" stroke="#1a1a1a" stroke-width="0.15">Mean Average Precision at 50% IoU Threshold</text>
<clipPath id="c8"><rect x="544.9" y="796.2" width="230.6" height="319.2"/></clipPath>
<g clip-path="url(#c8)">
<circle cx="589.0" cy="1101.2" r="3.2" fill="#fff"/>
<circle cx="592.5" cy="1032.1" r="3.2" fill="#fff"/>
<circle cx="596.0" cy="1048.3" r="3.2" fill="#fff"/>
<circle cx="599.5" cy="1030.5" r="3.2" fill="#fff"/>
<circle cx="603.0" cy="977.9" r="3.2" fill="#fff"/>
<circle cx="606.5" cy="934.9" r="3.2" fill="#fff"/>
<circle cx="610.1" cy="969.8" r="3.2" fill="#fff"/>
<circle cx="613.6" cy="946.6" r="3.2" fill="#fff"/>
<circle cx="617.1" cy="935.9" r="3.2" fill="#fff"/>
<circle cx="620.6" cy="925.0" r="3.2" fill="#fff"/>
<circle cx="624.1" cy="922.8" r="3.2" fill="#fff"/>
<circle cx="627.6" cy="903.4" r="3.2" fill="#fff"/>
<circle cx="631.1" cy="900.5" r="3.2" fill="#fff"/>
<circle cx="634.6" cy="915.5" r="3.2" fill="#fff"/>
<circle cx="638.1" cy="937.5" r="3.2" fill="#fff"/>
<circle cx="641.6" cy="949.2" r="3.2" fill="#fff"/>
<circle cx="645.2" cy="923.8" r="3.2" fill="#fff"/>
<circle cx="648.7" cy="898.3" r="3.2" fill="#fff"/>
<circle cx="652.2" cy="923.8" r="3.2" fill="#fff"/>
<circle cx="655.7" cy="870.9" r="3.2" fill="#fff"/>
<circle cx="659.2" cy="868.7" r="3.2" fill="#fff"/>
<circle cx="662.7" cy="870.9" r="3.2" fill="#fff"/>
<circle cx="666.2" cy="863.1" r="3.2" fill="#fff"/>
<circle cx="669.7" cy="867.1" r="3.2" fill="#fff"/>
<circle cx="673.2" cy="882.9" r="3.2" fill="#fff"/>
<circle cx="676.8" cy="892.3" r="3.2" fill="#fff"/>
<circle cx="680.3" cy="881.9" r="3.2" fill="#fff"/>
<circle cx="683.8" cy="855.3" r="3.2" fill="#fff"/>
<circle cx="687.3" cy="868.1" r="3.2" fill="#fff"/>
<circle cx="690.8" cy="869.3" r="3.2" fill="#fff"/>
<circle cx="694.3" cy="876.3" r="3.2" fill="#fff"/>
<circle cx="697.8" cy="849.9" r="3.2" fill="#fff"/>
<circle cx="701.3" cy="835.6" r="3.2" fill="#fff"/>
<circle cx="704.8" cy="832.6" r="3.2" fill="#fff"/>
<circle cx="708.3" cy="828.3" r="3.2" fill="#fff"/>
<circle cx="711.8" cy="871.3" r="3.2" fill="#fff"/>
<circle cx="715.4" cy="840.0" r="3.2" fill="#fff"/>
<circle cx="718.9" cy="887.3" r="3.2" fill="#fff"/>
<circle cx="722.4" cy="844.3" r="3.2" fill="#fff"/>
<circle cx="725.9" cy="842.7" r="3.2" fill="#fff"/>
<circle cx="729.4" cy="820.6" r="3.2" fill="#fff"/>
<circle cx="732.9" cy="833.2" r="3.2" fill="#fff"/>
<circle cx="736.4" cy="828.3" r="3.2" fill="#fff"/>
<circle cx="739.9" cy="829.7" r="3.2" fill="#fff"/>
<circle cx="743.4" cy="821.0" r="3.2" fill="#fff"/>
<circle cx="746.9" cy="819.4" r="3.2" fill="#fff"/>
<circle cx="750.5" cy="817.4" r="3.2" fill="#fff"/>
<circle cx="754.0" cy="809.0" r="3.2" fill="#fff"/>
<circle cx="757.5" cy="822.2" r="3.2" fill="#fff"/>
<circle cx="761.0" cy="815.6" r="3.2" fill="#fff"/>
<circle cx="764.5" cy="809.0" r="3.2" fill="#fff"/>
<defs><g id="band8">
<polygon points="572.9,780.0 572.8,781.1 572.9,781.4 572.6,782.1 571.6,782.8 571.7,783.5 571.7,784.2 572.4,784.9 572.1,785.6 572.5,786.3 571.9,787.0 572.9,787.7 572.2,788.5 572.2,789.2 573.0,789.9 572.6,790.6 572.2,791.3 572.4,792.0 571.3,792.7 573.0,793.4 571.5,794.1 572.9,794.8 572.1,795.5 571.7,796.2 572.6,796.9 572.7,797.6 572.8,798.3 571.1,799.1 571.9,799.8 571.8,800.5 572.2,801.2 571.7,801.9 571.4,802.6 572.5,803.3 572.0,804.0 571.6,804.7 572.2,805.4 572.5,806.1 571.6,806.8 572.8,807.5 571.2,808.2 571.8,808.9 571.5,809.6 572.5,810.3 572.4,811.0 572.7,811.7 572.9,812.4 573.3,813.1 572.3,813.8 573.0,814.5 572.2,815.2 572.9,815.9 572.6,816.6 573.4,817.3 572.7,818.0 573.3,818.7 572.5,819.4 572.4,820.1 573.3,820.8 571.9,821.6 573.1,822.2 573.6,822.9 572.8,823.6 572.8,824.3 572.6,825.0 572.5,825.8 573.6,826.4 573.0,827.1 573.2,827.8 572.5,828.6 573.7,829.2 573.0,830.0 573.8,830.6 574.0,831.3 574.1,832.0 573.1,832.8 572.4,833.5 573.5,834.2 574.1,834.8 574.1,835.5 572.0,836.3 573.8,837.0 573.7,837.7 573.2,838.4 572.7,839.1 573.0,839.8 573.6,840.5 574.4,841.2 573.3,841.9 573.2,842.6 573.6,843.3 573.2,844.0 574.3,844.7 573.7,845.4 574.0,846.1 572.8,846.9 572.4,847.6 574.0,848.2 574.0,848.9 573.8,849.6 572.6,850.4 573.1,851.1 574.6,851.7 574.0,852.5 573.5,853.2 574.6,853.8 572.8,854.6 573.8,855.3 573.2,856.0 574.7,856.7 574.9,857.4 574.2,858.1 573.6,858.8 573.8,859.5 574.7,860.2 572.8,860.9 574.8,861.6 574.0,862.3 575.0,863.0 573.3,863.7 573.9,864.4 574.0,865.1 572.7,865.9 574.3,866.5 573.2,867.3 574.5,867.9 574.0,868.7 573.8,869.4 574.2,870.1 574.7,870.8 573.5,871.6 574.4,872.3 575.0,873.0 574.7,873.7 575.5,874.4 575.4,875.1 575.2,875.8 575.1,876.5 574.7,877.3 575.2,878.0 573.7,878.8 575.7,879.4 573.7,880.2 574.5,880.9 575.4,881.5 573.9,882.3 576.1,882.9 575.7,883.7 574.9,884.4 575.2,885.1 576.0,885.8 576.4,886.5 575.9,887.2 576.5,887.9 576.2,888.6 576.0,889.4 576.1,890.1 576.5,890.8 576.6,891.5 576.8,892.2 575.8,893.0 573.3,893.8 575.6,894.4 576.3,895.1 576.2,895.8 576.3,896.5 576.1,897.2 576.3,897.9 575.5,898.7 575.8,899.4 577.3,900.0 576.8,900.8 575.5,901.6 577.1,902.2 575.2,903.0 576.3,903.7 576.4,904.4 576.1,905.1 576.4,905.8 577.7,906.4 577.7,907.2 576.3,908.0 577.3,908.6 576.4,909.4 577.9,910.0 577.3,910.8 576.5,911.5 576.1,912.3 577.1,912.9 576.2,913.7 576.4,914.4 576.0,915.1 576.7,915.8 577.6,916.4 577.3,917.2 576.8,917.9 577.4,918.6 577.3,919.3 576.2,920.1 576.4,920.8 578.6,921.4 577.5,922.2 578.7,922.8 577.1,923.6 576.2,924.4 575.0,925.2 576.8,925.8 578.9,926.3 577.1,927.2 578.0,927.8 576.9,928.7 576.1,929.5 577.4,930.1 577.3,931.0 579.1,931.5 577.7,932.5 578.0,933.2 577.4,934.1 577.1,934.9 577.7,935.5 579.1,935.9 579.2,936.7 578.6,937.5 576.0,938.8 580.0,938.7 578.6,939.7 576.7,940.9 579.5,941.0 580.5,941.5 580.7,942.2 578.8,943.3 580.6,943.6 578.0,944.8 581.4,944.9 581.9,945.5 578.8,946.7 579.5,947.3 580.3,947.9 580.3,948.6 580.0,949.4 579.9,950.1 581.0,950.7 581.9,951.3 581.8,952.0 581.3,952.8 582.5,953.3 582.8,954.0 582.2,954.8 582.3,955.5 581.0,956.4 583.3,956.8 582.8,957.5 583.0,958.2 582.4,959.0 581.9,959.8 580.6,960.7 580.9,961.4 583.8,961.7 580.5,962.9 582.2,963.3 584.2,963.8 584.1,964.5 583.5,965.3 581.8,966.3 580.0,967.3 582.8,967.7 583.6,968.4 581.1,970.0 585.1,969.7 583.8,971.1 586.2,971.1 582.7,973.2 584.1,973.5 582.2,975.1 587.3,973.9 585.4,975.4 586.6,975.7 585.4,977.0 586.3,977.4 586.5,978.0 585.9,978.8 587.3,979.0 589.1,979.3 589.2,980.0 586.8,981.2 587.9,981.7 588.2,982.4 586.0,983.5 586.6,984.2 588.7,984.5 590.1,985.0 589.3,985.9 590.4,986.4 588.9,987.5 589.0,988.2 587.5,989.2 587.6,989.9 590.8,990.1 591.2,990.8 591.3,991.5 590.3,992.3 590.4,993.0 590.8,993.7 591.5,994.3 587.7,995.5 590.5,995.9 591.5,996.5 590.9,997.3 592.1,997.9 589.4,999.0 589.3,999.7 590.4,1000.3 591.2,1001.0 592.3,1001.6 590.0,1002.6 590.1,1003.3 589.9,1004.1 592.9,1004.5 592.8,1005.3 588.8,1006.9 590.7,1007.5 592.3,1008.0 592.0,1009.0 589.7,1010.8 593.2,1010.3 594.1,1010.7 593.6,1011.7 590.6,1013.7 595.3,1012.6 595.1,1013.4 594.5,1014.5 596.5,1014.4 596.8,1015.1 597.1,1015.8 596.7,1016.8 595.0,1018.5 597.0,1018.4 593.6,1021.3 597.7,1019.9 598.3,1020.3 597.8,1021.5 596.6,1023.1 599.4,1022.2 601.0,1022.0 599.1,1024.0 599.8,1024.4 599.4,1025.4 602.0,1024.6 601.7,1025.5 602.1,1026.0 602.1,1026.7 602.8,1027.2 602.9,1027.9 603.1,1028.6 601.7,1029.9 604.9,1029.5 604.2,1030.6 603.4,1031.6 604.8,1031.9 606.0,1032.2 605.1,1033.3 606.2,1033.7 605.5,1034.7 607.1,1034.9 606.9,1035.8 606.9,1036.6 606.7,1037.4 607.3,1038.0 607.7,1038.8 608.1,1039.5 609.0,1039.9 609.0,1040.9 609.8,1041.2 610.2,1041.9 610.7,1042.5 611.2,1043.0 611.6,1043.7 612.1,1044.3 612.6,1044.9 613.0,1045.5 613.5,1046.1 614.1,1046.7 614.7,1047.2 615.3,1047.7 616.0,1048.1 616.6,1048.5 617.2,1048.9 617.8,1049.3 618.4,1049.7 619.0,1050.1 619.7,1050.5 620.3,1050.9 620.9,1051.3 621.5,1051.7 622.1,1052.0 622.7,1052.4 623.3,1052.8 623.9,1053.2 624.5,1053.5 625.1,1053.9 625.7,1054.3 626.3,1054.7 626.9,1055.0 627.5,1055.4 628.1,1055.8 628.7,1056.2 629.3,1056.5 629.9,1056.9 630.5,1057.3 631.1,1057.7 631.7,1058.0 632.3,1058.4 632.9,1058.8 633.5,1059.2 634.1,1059.5 634.8,1059.9 635.4,1060.2 636.1,1060.6 636.8,1060.9 637.4,1061.2 638.1,1061.6 638.7,1061.9 639.4,1062.2 640.0,1062.5 640.7,1062.9 641.4,1063.2 642.0,1063.5 642.7,1063.8 643.3,1064.2 644.0,1064.5 644.6,1064.8 645.3,1065.2 645.9,1065.5 646.6,1065.8 647.3,1066.1 647.9,1066.5 648.6,1066.8 649.3,1067.1 650.0,1067.3 650.6,1067.6 651.3,1067.8 652.0,1068.1 652.6,1068.3 653.3,1068.6 654.0,1068.8 654.8,1069.1 655.6,1069.2 656.5,1068.9 657.1,1068.2 657.5,1067.5 657.7,1066.7 657.8,1065.9 657.9,1065.2 658.0,1064.5 658.2,1063.8 658.3,1063.0 658.4,1062.3 658.5,1061.6 658.7,1060.9 658.8,1060.2 658.9,1059.4 659.1,1058.7 659.2,1057.9 659.3,1057.2 659.5,1056.5 659.6,1055.8 659.7,1055.1 659.8,1054.7 660.0,1054.5 660.2,1054.4 660.7,1054.3 661.3,1054.3 661.9,1054.3 662.6,1054.4 663.1,1054.5 663.7,1054.7 664.2,1055.0 664.8,1055.3 665.3,1055.7 665.9,1056.1 666.5,1056.5 667.1,1056.9 667.7,1057.3 668.3,1057.7 668.9,1058.1 669.5,1058.5 670.1,1058.9 670.7,1059.3 671.3,1059.7 671.9,1060.1 672.5,1060.5 673.1,1060.9 673.6,1061.3 674.1,1061.8 674.6,1062.3 675.1,1062.8 675.7,1063.3 676.2,1063.8 676.7,1064.3 677.2,1064.8 677.7,1065.3 678.2,1065.8 678.7,1066.3 679.3,1066.9 679.8,1067.5 680.5,1067.9 681.3,1068.3 682.1,1068.6 682.9,1068.7 683.7,1068.8 684.5,1068.8 685.2,1068.8 686.0,1068.9 686.7,1068.9 687.5,1068.9 688.3,1068.9 689.0,1069.0 689.8,1069.0 690.5,1069.0 691.3,1069.0 692.0,1069.0 692.7,1069.0 693.5,1069.0 694.2,1069.0 694.9,1069.0 695.7,1068.9 696.4,1068.9 697.1,1068.9 697.9,1068.9 698.6,1068.9 699.3,1068.9 699.9,1069.0 700.4,1069.1 701.0,1069.3 701.5,1069.6 702.1,1069.9 702.6,1070.3 703.2,1070.7 703.8,1071.1 704.4,1071.5 705.0,1071.9 705.6,1072.3 706.2,1072.7 706.8,1073.1 707.4,1073.5 708.1,1073.8 708.9,1074.1 709.7,1074.3 710.5,1074.4 711.3,1074.4 712.0,1074.4 712.8,1074.4 713.5,1074.4 714.2,1074.4 715.0,1074.4 715.7,1074.4 716.4,1074.4 717.2,1074.4 717.9,1074.4 718.6,1074.4 719.4,1074.4 720.1,1074.4 720.8,1074.4 721.6,1074.4 722.3,1074.4 723.1,1074.4 723.8,1074.4 724.5,1074.4 725.3,1074.4 726.0,1074.4 726.7,1074.4 727.5,1074.4 728.2,1074.4 729.0,1074.4 729.7,1074.4 730.4,1074.4 731.2,1074.4 731.9,1074.4 732.7,1074.4 733.4,1074.4 734.2,1074.4 734.9,1074.4 735.7,1074.4 736.4,1074.4 737.2,1074.4 737.9,1074.4 738.6,1074.4 739.3,1074.5 740.0,1074.5 740.8,1074.6 741.5,1074.7 742.2,1074.8 742.9,1074.9 743.7,1075.0 744.4,1075.0 745.1,1075.1 745.9,1075.2 746.6,1075.3 747.3,1075.4 748.1,1075.5 748.8,1075.6 749.5,1075.7 750.2,1075.8 750.9,1075.9 751.7,1076.1 752.4,1076.2 753.1,1076.4 753.8,1076.5 754.5,1076.7 755.2,1076.8 756.0,1077.0 756.7,1077.1 757.4,1077.3 758.1,1077.4 758.9,1077.5 759.6,1077.7 760.3,1077.8 761.0,1078.0 761.7,1078.1 762.5,1078.3 762.8,1078.4 763.9,1078.6 764.3,1076.6 763.2,1076.4 762.9,1076.3 762.1,1076.2 761.4,1076.0 760.7,1075.9 760.0,1075.7 759.3,1075.6 758.5,1075.4 757.8,1075.3 757.1,1075.1 756.4,1075.0 755.6,1074.9 754.9,1074.7 754.2,1074.6 753.5,1074.4 752.8,1074.3 752.0,1074.1 751.3,1074.0 750.6,1073.8 749.8,1073.7 749.1,1073.6 748.3,1073.5 747.6,1073.4 746.9,1073.3 746.1,1073.2 745.4,1073.2 744.7,1073.1 743.9,1073.0 743.2,1072.9 742.5,1072.8 741.7,1072.7 741.0,1072.6 740.2,1072.5 739.5,1072.5 738.7,1072.4 737.9,1072.4 737.2,1072.4 736.4,1072.4 735.7,1072.4 734.9,1072.4 734.2,1072.4 733.4,1072.4 732.7,1072.4 731.9,1072.4 731.2,1072.4 730.4,1072.4 729.7,1072.4 729.0,1072.4 728.2,1072.4 727.5,1072.4 726.7,1072.4 726.0,1072.4 725.3,1072.4 724.5,1072.4 723.8,1072.4 723.1,1072.4 722.3,1072.4 721.6,1072.4 720.8,1072.4 720.1,1072.4 719.4,1072.4 718.6,1072.4 717.9,1072.4 717.2,1072.4 716.4,1072.4 715.7,1072.4 715.0,1072.4 714.2,1072.4 713.5,1072.4 712.8,1072.4 712.0,1072.4 711.3,1072.4 710.6,1072.4 710.0,1072.3 709.5,1072.2 708.9,1072.0 708.4,1071.7 707.8,1071.4 707.3,1071.0 706.7,1070.6 706.1,1070.2 705.5,1069.8 704.9,1069.4 704.3,1069.0 703.7,1068.6 703.1,1068.2 702.5,1067.8 701.8,1067.5 701.0,1067.2 700.2,1067.0 699.4,1066.9 698.6,1066.9 697.9,1066.9 697.1,1066.9 696.4,1066.9 695.7,1066.9 694.9,1067.0 694.2,1067.0 693.5,1067.0 692.7,1067.0 692.0,1067.0 691.3,1067.0 690.5,1067.0 689.8,1067.0 689.1,1067.0 688.3,1066.9 687.6,1066.9 686.8,1066.9 686.1,1066.9 685.3,1066.8 684.6,1066.8 683.8,1066.8 683.1,1066.8 682.5,1066.7 682.0,1066.5 681.6,1066.2 681.1,1065.9 680.6,1065.4 680.1,1064.9 679.6,1064.4 679.1,1063.9 678.6,1063.4 678.1,1062.9 677.6,1062.4 677.1,1061.9 676.5,1061.3 676.0,1060.8 675.5,1060.3 674.9,1059.8 674.3,1059.3 673.7,1058.9 673.1,1058.5 672.5,1058.1 671.9,1057.7 671.3,1057.3 670.7,1056.9 670.1,1056.5 669.5,1056.1 668.9,1055.7 668.3,1055.3 667.7,1054.9 667.1,1054.5 666.5,1054.1 665.8,1053.7 665.2,1053.2 664.5,1052.9 663.7,1052.6 662.9,1052.4 662.1,1052.3 661.2,1052.3 660.3,1052.3 659.5,1052.5 658.7,1053.0 658.1,1053.7 657.8,1054.5 657.6,1055.3 657.5,1056.1 657.3,1056.8 657.2,1057.6 657.1,1058.3 657.0,1059.1 656.8,1059.8 656.7,1060.5 656.6,1061.3 656.4,1062.0 656.3,1062.7 656.2,1063.4 656.1,1064.1 655.9,1064.8 655.8,1065.6 655.7,1066.2 655.6,1066.8 655.5,1067.1 655.5,1067.2 655.4,1067.2 655.1,1067.1 654.6,1066.9 654.0,1066.7 653.3,1066.4 652.7,1066.2 652.0,1065.9 651.3,1065.7 650.7,1065.5 650.0,1065.2 649.4,1064.9 648.8,1064.6 648.1,1064.3 647.5,1064.0 646.8,1063.7 646.2,1063.4 645.5,1063.0 644.9,1062.7 644.2,1062.4 643.6,1062.1 642.9,1061.7 642.2,1061.4 641.6,1061.1 640.9,1060.8 640.3,1060.4 639.6,1060.1 639.0,1059.8 638.3,1059.4 637.7,1059.1 637.0,1058.8 636.4,1058.5 635.7,1058.1 635.1,1057.8 634.5,1057.5 633.9,1057.1 633.3,1056.7 632.7,1056.4 632.1,1056.0 631.5,1055.6 630.9,1055.2 630.3,1054.9 629.7,1054.5 629.1,1054.1 628.5,1053.7 627.9,1053.4 627.3,1053.0 626.7,1052.6 626.1,1052.2 625.5,1051.9 624.9,1051.5 624.3,1051.1 623.7,1050.7 623.1,1050.4 622.5,1050.0 621.9,1049.6 621.3,1049.2 620.7,1048.8 620.1,1048.5 619.5,1048.1 618.9,1047.7 618.3,1047.3 617.7,1046.9 617.1,1046.5 616.5,1046.1 616.0,1045.7 615.5,1045.3 615.0,1044.8 614.6,1044.2 614.1,1043.7 613.7,1043.1 613.3,1042.5 612.8,1041.9 612.4,1041.2 612.0,1040.6 611.6,1039.9 611.1,1039.4 610.8,1038.8 610.7,1038.1 609.9,1037.7 609.7,1037.1 609.7,1036.3 609.8,1035.5 608.7,1035.1 609.8,1033.9 608.5,1033.6 609.1,1032.6 608.0,1032.2 609.1,1031.1 607.2,1031.0 607.5,1030.1 609.9,1028.4 606.7,1028.8 606.8,1028.0 606.6,1027.3 606.2,1026.7 605.5,1026.1 607.0,1024.7 605.4,1024.5 604.7,1024.0 604.4,1023.3 605.9,1021.6 606.1,1020.6 604.6,1020.6 603.0,1020.8 606.8,1017.6 604.1,1018.4 602.0,1018.9 603.8,1017.0 602.2,1017.2 603.0,1016.0 602.5,1015.6 601.9,1015.2 603.3,1013.9 600.0,1014.6 601.4,1013.2 602.0,1012.1 602.7,1011.1 599.4,1011.7 600.3,1010.5 601.1,1009.4 598.3,1009.7 601.9,1007.5 602.8,1006.3 598.7,1007.2 602.1,1005.3 600.3,1005.4 600.3,1005.0 597.9,1005.0 598.8,1004.3 596.8,1003.9 600.3,1002.8 599.3,1002.2 596.1,1001.8 599.5,1000.7 595.9,1000.4 599.2,999.2 601.1,998.3 597.6,998.0 597.9,997.2 601.1,996.1 599.6,995.5 596.6,995.1 599.3,994.1 598.5,993.4 596.6,992.9 594.9,992.4 596.7,991.3 594.6,990.9 596.2,989.9 594.3,989.4 595.6,988.4 594.1,988.0 596.2,986.8 595.6,986.2 595.6,985.5 598.0,984.3 594.6,984.2 594.0,983.5 594.4,982.7 595.3,981.8 592.8,981.5 595.6,980.3 594.3,979.7 593.5,979.1 593.9,978.2 594.7,977.2 593.1,976.7 591.6,976.3 593.9,974.6 592.5,974.3 591.2,973.9 593.4,972.3 593.2,971.5 592.2,971.1 594.2,969.5 591.8,969.7 592.4,968.7 590.1,968.8 591.3,967.8 591.5,967.2 592.3,966.5 590.4,966.3 590.0,965.8 590.4,965.0 588.3,964.6 590.6,963.6 591.0,962.8 589.2,962.3 589.2,961.6 590.9,960.7 589.8,960.1 588.1,959.6 588.7,958.8 590.4,957.9 586.9,957.7 590.1,956.5 591.1,955.6 586.6,955.6 587.4,954.7 589.2,953.7 590.1,952.9 588.8,952.4 590.0,951.5 589.3,950.9 587.0,950.5 588.8,949.5 589.3,948.7 587.9,948.2 588.4,947.4 588.9,946.6 586.4,946.3 587.5,945.4 589.3,944.4 586.6,944.1 587.2,943.2 587.1,942.5 586.2,941.9 590.1,940.3 586.3,940.3 585.1,939.8 585.5,939.0 584.3,938.5 586.8,937.3 584.2,937.1 585.5,936.1 583.8,935.7 584.2,934.8 582.6,934.5 584.3,933.3 585.6,932.3 583.1,932.1 584.5,931.2 583.9,930.6 584.7,929.9 582.8,929.5 581.7,928.9 582.0,928.2 582.7,927.5 583.8,926.7 584.4,925.9 581.1,925.5 583.3,924.6 582.0,924.0 582.6,923.2 582.5,922.5 582.3,921.8 582.7,921.0 581.6,920.4 581.5,919.7 582.4,918.9 580.5,918.4 580.4,917.7 581.4,916.9 583.5,916.0 581.3,915.5 583.7,914.6 580.4,914.1 583.5,913.1 582.3,912.5 581.2,911.9 581.6,911.1 579.8,910.6 580.7,909.8 580.5,909.1 581.7,908.3 580.9,907.6 581.0,906.9 582.1,906.1 579.4,905.6 580.4,904.8 580.3,904.1 580.8,903.4 580.0,902.7 581.7,901.9 580.5,901.2 580.6,900.5 579.6,899.9 579.9,899.1 580.7,898.4 581.1,897.6 578.9,897.1 578.7,896.3 580.7,895.5 579.1,894.9 578.5,894.2 578.8,893.5 578.7,892.8 578.4,892.1 578.6,891.3 578.6,890.6 579.4,889.9 578.2,889.2 578.2,888.5 578.6,887.8 579.6,887.0 578.0,886.4 579.8,885.5 578.9,884.9 577.9,884.2 579.8,883.4 579.4,882.7 578.2,882.1 578.5,881.3 579.8,880.5 578.0,879.9 578.3,879.2 577.5,878.5 578.1,877.7 579.1,876.9 579.1,876.2 577.9,875.6 578.3,874.8 578.6,874.1 578.6,873.4 577.4,872.8 577.2,872.1 577.5,871.3 577.7,870.6 577.1,869.9 577.0,869.3 578.0,868.5 576.7,867.9 577.0,867.2 577.5,866.4 576.7,865.8 576.9,865.0 578.6,864.3 578.1,863.6 577.8,862.9 576.6,862.2 578.1,861.5 576.5,860.8 577.0,860.1 578.2,859.4 576.4,858.7 578.3,858.0 577.7,857.3 576.3,856.6 577.4,855.9 577.0,855.2 577.4,854.5 576.9,853.8 578.1,853.0 576.2,852.4 576.2,851.7 576.8,851.0 576.7,850.3 577.7,849.5 577.4,848.8 576.6,848.1 577.9,847.4 577.9,846.7 577.5,846.0 576.9,845.3 576.8,844.6 577.1,843.9 576.9,843.2 576.7,842.5 575.9,841.8 576.7,841.1 577.3,840.4 576.9,839.7 577.7,839.0 575.8,838.3 576.5,837.6 578.1,836.8 576.7,836.2 576.7,835.5 577.0,834.8 577.8,834.0 576.3,833.4 576.6,832.7 576.7,831.9 576.0,831.3 576.5,830.5 575.5,829.9 576.9,829.1 576.2,828.4 576.7,827.7 576.7,827.0 576.0,826.3 575.8,825.6 575.5,824.9 576.0,824.2 576.7,823.5 576.3,822.8 576.8,822.1 576.0,821.4 576.5,820.7 575.2,820.0 575.2,819.3 576.0,818.6 575.2,817.9 577.1,817.2 575.8,816.5 575.6,815.8 575.0,815.1 575.5,814.4 575.6,813.7 575.8,813.0 575.8,812.3 574.9,811.6 575.4,810.9 575.2,810.2 575.9,809.5 575.4,808.8 575.8,808.1 574.7,807.4 575.8,806.7 575.8,806.0 576.5,805.2 575.2,804.6 575.5,803.9 575.2,803.2 575.2,802.5 575.2,801.8 575.0,801.1 575.3,800.4 576.6,799.6 575.3,799.0 574.6,798.3 575.3,797.6 575.2,796.9 575.7,796.2 575.2,795.5 574.5,794.8 574.8,794.1 574.6,793.4 574.8,792.7 576.0,792.0 575.9,791.2 574.4,790.6 576.0,789.8 575.3,789.1 575.1,788.4 575.4,787.7 575.3,787.0 575.0,786.3 575.9,785.6 575.5,784.9 575.9,784.2 575.1,783.5 575.9,782.8 575.6,782.1 575.0,781.4 575.0,781.0 574.5,780.0"/>
<polygon points="573.6,817.3 575.4,817.3 575.4,869.7 577.2,869.7 577.2,893.4 579.0,893.4 579.0,918.6 580.8,918.6 580.8,931.6 582.6,931.6 582.6,940.2 584.4,940.2 584.4,953.1 586.2,953.1 586.2,963.1 588.0,963.1 588.0,968.2 589.8,968.2 589.8,974.4 591.6,974.4 591.6,981.0 593.4,981.0 593.4,994.3 595.2,994.3 595.2,1003.9 597.0,1003.9 597.0,1007.2 598.8,1007.2 598.8,1010.7 600.6,1010.7 600.6,1011.3 602.4,1011.3 602.4,1016.0 604.2,1016.0 604.2,1021.1 606.0,1021.1 606.0,1026.3 607.8,1026.3 607.8,1029.6 609.6,1029.6 609.6,1029.3 611.4,1029.3 611.4,1036.8 613.2,1036.8 613.2,1036.3 615.0,1036.3 615.0,1037.9 616.8,1037.9 616.8,1036.5 618.6,1036.5 618.6,1040.4 620.4,1040.4 620.4,1043.0 622.2,1043.0 622.2,1045.4 624.0,1045.4 624.0,1042.1 625.8,1042.1 625.8,1047.6 627.6,1047.6 627.6,1048.3 629.4,1048.3 629.4,1042.6 631.2,1042.6 631.2,1049.2 633.0,1049.2 633.0,1050.4 634.8,1050.4 634.8,1049.7 636.6,1049.7 636.6,1053.5 638.4,1053.5 638.4,1053.5 640.2,1053.5 640.2,1054.4 642.0,1054.4 642.0,1056.5 643.8,1056.5 643.8,1055.5 645.6,1055.5 645.6,1057.9 647.4,1057.9 647.4,1057.5 649.2,1057.5 649.2,1054.9 651.0,1054.9 651.0,1059.9 652.8,1059.9 652.8,1061.6 654.6,1061.6 654.6,1058.1 656.4,1058.1 656.4,1056.8 658.2,1056.8 658.2,1045.0 660.0,1045.0 660.0,1040.8 661.8,1040.8 661.8,1044.8 663.6,1044.8 663.6,1044.4 665.4,1044.4 665.4,1046.1 667.2,1046.1 667.2,1050.6 669.0,1050.6 669.0,1047.0 670.8,1047.0 670.8,1052.3 672.6,1052.3 672.6,1053.2 674.4,1053.2 674.4,1053.9 676.2,1053.9 676.2,1056.5 678.0,1056.5 678.0,1059.6 679.8,1059.6 679.8,1060.5 681.6,1060.5 681.6,1061.9 683.4,1061.9 683.4,1060.9 685.2,1060.9 685.2,1059.4 687.0,1059.4 687.0,1061.8 688.8,1061.8 688.8,1061.8 690.6,1061.8 690.6,1062.0 692.4,1062.0 692.4,1061.0 694.2,1061.0 694.2,1060.7 696.0,1060.7 696.0,1057.4 697.8,1057.4 697.8,1058.7 699.6,1058.7 699.6,1062.2 701.4,1062.2 701.4,1061.6 703.2,1061.6 703.2,1062.6 705.0,1062.6 705.0,1065.9 706.8,1065.9 706.8,1066.8 708.6,1066.8 708.6,1063.8 710.4,1063.8 710.4,1068.0 712.2,1068.0 712.2,1067.1 714.0,1067.1 714.0,1068.1 715.8,1068.1 715.8,1067.3 717.6,1067.3 717.6,1066.8 719.4,1066.8 719.4,1064.7 721.2,1064.7 721.2,1067.7 723.0,1067.7 723.0,1065.9 724.8,1065.9 724.8,1065.8 726.6,1065.8 726.6,1068.0 728.4,1068.0 728.4,1066.7 730.2,1066.7 730.2,1063.5 732.0,1063.5 732.0,1067.1 733.8,1067.1 733.8,1066.6 735.6,1066.6 735.6,1066.1 737.4,1066.1 737.4,1068.0 739.2,1068.0 739.2,1068.5 741.0,1068.5 741.0,1067.9 742.8,1067.9 742.8,1068.8 744.6,1068.8 744.6,1067.5 746.4,1067.5 746.4,1068.2 748.2,1068.2 748.2,1063.5 750.0,1063.5 750.0,1067.4 751.8,1067.4 751.8,1069.9 753.6,1069.9 753.6,1070.6 755.4,1070.6 755.4,1066.8 757.2,1066.8 757.2,1070.8 759.0,1070.8 759.0,1070.3 760.8,1070.3 760.8,1069.2 762.6,1069.2 762.6,1082.5 760.8,1082.5 760.8,1083.5 759.0,1083.5 759.0,1082.1 757.2,1082.1 757.2,1083.5 755.4,1083.5 755.4,1082.1 753.6,1082.1 753.6,1081.2 751.8,1081.2 751.8,1080.7 750.0,1080.7 750.0,1080.9 748.2,1080.9 748.2,1081.3 746.4,1081.3 746.4,1079.2 744.6,1079.2 744.6,1080.6 742.8,1080.6 742.8,1080.2 741.0,1080.2 741.0,1079.0 739.2,1079.0 739.2,1080.2 737.4,1080.2 737.4,1079.8 735.6,1079.8 735.6,1080.3 733.8,1080.3 733.8,1079.1 732.0,1079.1 732.0,1078.8 730.2,1078.8 730.2,1081.0 728.4,1081.0 728.4,1080.1 726.6,1080.1 726.6,1078.7 724.8,1078.7 724.8,1078.9 723.0,1078.9 723.0,1078.9 721.2,1078.9 721.2,1078.6 719.4,1078.6 719.4,1079.9 717.6,1079.9 717.6,1081.0 715.8,1081.0 715.8,1079.2 714.0,1079.2 714.0,1080.1 712.2,1080.1 712.2,1078.4 710.4,1078.4 710.4,1079.2 708.6,1079.2 708.6,1081.2 706.8,1081.2 706.8,1078.3 705.0,1078.3 705.0,1075.1 703.2,1075.1 703.2,1076.1 701.4,1076.1 701.4,1076.0 699.6,1076.0 699.6,1074.9 697.8,1074.9 697.8,1074.5 696.0,1074.5 696.0,1074.9 694.2,1074.9 694.2,1073.6 692.4,1073.6 692.4,1077.4 690.6,1077.4 690.6,1075.3 688.8,1075.3 688.8,1077.7 687.0,1077.7 687.0,1074.9 685.2,1074.9 685.2,1073.9 683.4,1073.9 683.4,1076.4 681.6,1076.4 681.6,1074.9 679.8,1074.9 679.8,1078.0 678.0,1078.0 678.0,1069.6 676.2,1069.6 676.2,1067.4 674.4,1067.4 674.4,1067.5 672.6,1067.5 672.6,1064.8 670.8,1064.8 670.8,1066.4 669.0,1066.4 669.0,1062.6 667.2,1062.6 667.2,1062.0 665.4,1062.0 665.4,1061.6 663.6,1061.6 663.6,1059.7 661.8,1059.7 661.8,1060.1 660.0,1060.1 660.0,1060.6 658.2,1060.6 658.2,1075.4 656.4,1075.4 656.4,1076.2 654.6,1076.2 654.6,1076.0 652.8,1076.0 652.8,1073.7 651.0,1073.7 651.0,1076.6 649.2,1076.6 649.2,1073.6 647.4,1073.6 647.4,1074.2 645.6,1074.2 645.6,1072.8 643.8,1072.8 643.8,1073.4 642.0,1073.4 642.0,1069.0 640.2,1069.0 640.2,1067.2 638.4,1067.2 638.4,1066.5 636.6,1066.5 636.6,1067.7 634.8,1067.7 634.8,1064.5 633.0,1064.5 633.0,1065.1 631.2,1065.1 631.2,1064.5 629.4,1064.5 629.4,1063.7 627.6,1063.7 627.6,1060.2 625.8,1060.2 625.8,1065.2 624.0,1065.2 624.0,1064.6 622.2,1064.6 622.2,1061.6 620.4,1061.6 620.4,1056.6 618.6,1056.6 618.6,1055.0 616.8,1055.0 616.8,1057.3 615.0,1057.3 615.0,1051.8 613.2,1051.8 613.2,1055.0 611.4,1055.0 611.4,1046.4 609.6,1046.4 609.6,1044.7 607.8,1044.7 607.8,1039.9 606.0,1039.9 606.0,1034.7 604.2,1034.7 604.2,1029.5 602.4,1029.5 602.4,1029.7 600.6,1029.7 600.6,1026.0 598.8,1026.0 598.8,1022.1 597.0,1022.1 597.0,1014.9 595.2,1014.9 595.2,1007.3 593.4,1007.3 593.4,993.6 591.6,993.6 591.6,986.3 589.8,986.3 589.8,980.2 588.0,980.2 588.0,974.4 586.2,974.4 586.2,962.6 584.4,962.6 584.4,952.3 582.6,952.3 582.6,942.3 580.8,942.3 580.8,928.7 579.0,928.7 579.0,905.7 577.2,905.7 577.2,878.6 575.4,878.6 575.4,827.5 573.6,827.5"/>
</g></defs>
</g>
<clipPath id="h8"><rect x="544.9" y="792.8" width="230.6" height="322.6"/></clipPath>
<use href="#band8" fill="#fff" stroke="#fff" stroke-width="3.2" stroke-linejoin="round" clip-path="url(#h8)"/>
<g clip-path="url(#c8)">
<line x1="729.7" y1="1036.5" x2="729.7" y2="1070" stroke="#02c26b" stroke-width="1.9"/>
<use href="#band8" fill="#02c26b"/>
<rect x="572.1" y="796.2" width="3.2" height="3.2" rx="1.3" fill="#04401f" opacity="0.75"/>
<circle cx="589.0" cy="1101.2" r="1.6" fill="#02c26b"/>
<circle cx="592.5" cy="1032.1" r="1.6" fill="#02c26b"/>
<circle cx="596.0" cy="1048.3" r="1.6" fill="#049a55"/>
<circle cx="599.5" cy="1030.5" r="1.6" fill="#02c26b"/>
<circle cx="603.0" cy="977.9" r="1.6" fill="#02c26b"/>
<circle cx="606.5" cy="934.9" r="1.6" fill="#02c26b"/>
<circle cx="610.1" cy="969.8" r="1.6" fill="#02c26b"/>
<circle cx="613.6" cy="946.6" r="1.6" fill="#02c26b"/>
<circle cx="617.1" cy="935.9" r="1.6" fill="#02c26b"/>
<circle cx="620.6" cy="925.0" r="1.6" fill="#049a55"/>
<circle cx="624.1" cy="922.8" r="1.6" fill="#049a55"/>
<circle cx="627.6" cy="903.4" r="1.6" fill="#02c26b"/>
<circle cx="631.1" cy="900.5" r="1.6" fill="#02c26b"/>
<circle cx="634.6" cy="915.5" r="1.6" fill="#02c26b"/>
<circle cx="638.1" cy="937.5" r="1.6" fill="#02c26b"/>
<circle cx="641.6" cy="949.2" r="1.6" fill="#02c26b"/>
<circle cx="645.2" cy="923.8" r="1.6" fill="#049a55"/>
<circle cx="648.7" cy="898.3" r="1.6" fill="#02c26b"/>
<circle cx="652.2" cy="923.8" r="1.6" fill="#049a55"/>
<circle cx="655.7" cy="870.9" r="1.6" fill="#02c26b"/>
<circle cx="659.2" cy="868.7" r="1.6" fill="#02c26b"/>
<circle cx="662.7" cy="870.9" r="1.6" fill="#02c26b"/>
<circle cx="666.2" cy="863.1" r="1.6" fill="#049a55"/>
<circle cx="669.7" cy="867.1" r="1.6" fill="#02c26b"/>
<circle cx="673.2" cy="882.9" r="1.6" fill="#02c26b"/>
<circle cx="676.8" cy="892.3" r="1.6" fill="#02c26b"/>
<circle cx="680.3" cy="881.9" r="1.6" fill="#02c26b"/>
<circle cx="683.8" cy="855.3" r="1.6" fill="#049a55"/>
<circle cx="687.3" cy="868.1" r="1.6" fill="#02c26b"/>
<circle cx="690.8" cy="869.3" r="1.6" fill="#02c26b"/>
<circle cx="694.3" cy="876.3" r="1.6" fill="#02c26b"/>
<circle cx="697.8" cy="849.9" r="1.6" fill="#02c26b"/>
<circle cx="701.3" cy="835.6" r="1.6" fill="#02c26b"/>
<circle cx="704.8" cy="832.6" r="1.6" fill="#02c26b"/>
<circle cx="708.3" cy="828.3" r="1.6" fill="#02c26b"/>
<circle cx="711.8" cy="871.3" r="1.6" fill="#02c26b"/>
<circle cx="715.4" cy="840.0" r="1.6" fill="#02c26b"/>
<circle cx="718.9" cy="887.3" r="1.6" fill="#02c26b"/>
<circle cx="722.4" cy="844.3" r="1.6" fill="#02c26b"/>
<circle cx="725.9" cy="842.7" r="1.6" fill="#02c26b"/>
<circle cx="729.4" cy="820.6" r="1.6" fill="#02c26b"/>
<circle cx="732.9" cy="833.2" r="1.6" fill="#02c26b"/>
<circle cx="736.4" cy="828.3" r="1.6" fill="#02c26b"/>
<circle cx="739.9" cy="829.7" r="1.6" fill="#02c26b"/>
<circle cx="743.4" cy="821.0" r="1.6" fill="#02c26b"/>
<circle cx="746.9" cy="819.4" r="1.6" fill="#02c26b"/>
<circle cx="750.5" cy="817.4" r="1.6" fill="#02c26b"/>
<circle cx="754.0" cy="809.0" r="1.6" fill="#02c26b"/>
<circle cx="757.5" cy="822.2" r="1.6" fill="#02c26b"/>
<circle cx="761.0" cy="815.6" r="1.6" fill="#02c26b"/>
<circle cx="764.5" cy="809.0" r="1.6" fill="#02c26b"/>
</g>
<rect x="677.5" y="945.6" width="93.2" height="19.4" rx="2" fill="#f0f0f0" fill-opacity="0.85" stroke="#e6e6e6" stroke-width="0.8"/>
<rect x="709.5" y="947.1" width="58" height="16.4" rx="3" fill="#ffffff" opacity="0.85"/>
<circle cx="693.2" cy="955.9" r="4" fill="#ffffff" opacity="0.8"/>
<circle cx="693.2" cy="955.9" r="1.7" fill="#04401f"/>
<text transform="translate(712.5,958.4) scale(1.03,1)" font-size="10.6" text-anchor="start" fill="#111111" font-weight="normal" font-family="'DejaVu Sans', 'Liberation Sans', sans-serif" stroke="#111" stroke-width="0.3">mAP@0.5</text>
</g>
</svg>
</body></html>
